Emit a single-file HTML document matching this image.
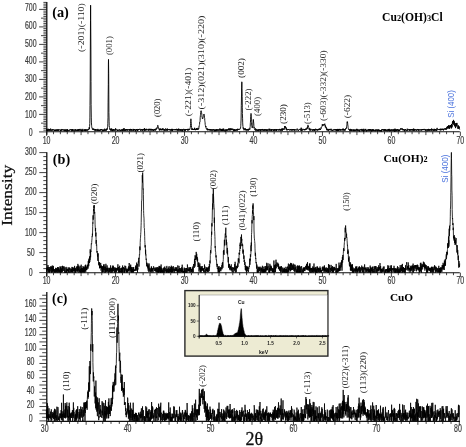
<!DOCTYPE html>
<html><head><meta charset="utf-8"><title>XRD</title>
<style>html,body{margin:0;padding:0;background:#fff;width:466px;height:447px;overflow:hidden}svg{display:block}</style>
</head><body>
<svg width="466" height="447" viewBox="0 0 466 447">
<rect width="466" height="447" fill="#fff"/>
<line x1="46.8" y1="2" x2="46.8" y2="134.8" stroke="#111" stroke-width="1.3"/>
<line x1="46.8" y1="131.7" x2="459.8" y2="131.7" stroke="#111" stroke-width="1.1"/>
<line x1="39.1" y1="131.9" x2="46.8" y2="131.9" stroke="#111" stroke-width="0.8"/>
<line x1="43.4" y1="130.15" x2="46.8" y2="130.15" stroke="#111" stroke-width="0.8"/>
<line x1="43.4" y1="128.4" x2="46.8" y2="128.4" stroke="#111" stroke-width="0.8"/>
<line x1="43.4" y1="126.65" x2="46.8" y2="126.65" stroke="#111" stroke-width="0.8"/>
<line x1="43.4" y1="124.9" x2="46.8" y2="124.9" stroke="#111" stroke-width="0.8"/>
<line x1="41" y1="123.15" x2="46.8" y2="123.15" stroke="#111" stroke-width="0.8"/>
<line x1="43.4" y1="121.4" x2="46.8" y2="121.4" stroke="#111" stroke-width="0.8"/>
<line x1="43.4" y1="119.65" x2="46.8" y2="119.65" stroke="#111" stroke-width="0.8"/>
<line x1="43.4" y1="117.9" x2="46.8" y2="117.9" stroke="#111" stroke-width="0.8"/>
<line x1="43.4" y1="116.15" x2="46.8" y2="116.15" stroke="#111" stroke-width="0.8"/>
<line x1="39.1" y1="114.4" x2="46.8" y2="114.4" stroke="#111" stroke-width="0.8"/>
<line x1="43.4" y1="112.65" x2="46.8" y2="112.65" stroke="#111" stroke-width="0.8"/>
<line x1="43.4" y1="110.9" x2="46.8" y2="110.9" stroke="#111" stroke-width="0.8"/>
<line x1="43.4" y1="109.15" x2="46.8" y2="109.15" stroke="#111" stroke-width="0.8"/>
<line x1="43.4" y1="107.4" x2="46.8" y2="107.4" stroke="#111" stroke-width="0.8"/>
<line x1="41" y1="105.65" x2="46.8" y2="105.65" stroke="#111" stroke-width="0.8"/>
<line x1="43.4" y1="103.9" x2="46.8" y2="103.9" stroke="#111" stroke-width="0.8"/>
<line x1="43.4" y1="102.15" x2="46.8" y2="102.15" stroke="#111" stroke-width="0.8"/>
<line x1="43.4" y1="100.4" x2="46.8" y2="100.4" stroke="#111" stroke-width="0.8"/>
<line x1="43.4" y1="98.65" x2="46.8" y2="98.65" stroke="#111" stroke-width="0.8"/>
<line x1="39.1" y1="96.9" x2="46.8" y2="96.9" stroke="#111" stroke-width="0.8"/>
<line x1="43.4" y1="95.15" x2="46.8" y2="95.15" stroke="#111" stroke-width="0.8"/>
<line x1="43.4" y1="93.4" x2="46.8" y2="93.4" stroke="#111" stroke-width="0.8"/>
<line x1="43.4" y1="91.65" x2="46.8" y2="91.65" stroke="#111" stroke-width="0.8"/>
<line x1="43.4" y1="89.9" x2="46.8" y2="89.9" stroke="#111" stroke-width="0.8"/>
<line x1="41" y1="88.15" x2="46.8" y2="88.15" stroke="#111" stroke-width="0.8"/>
<line x1="43.4" y1="86.4" x2="46.8" y2="86.4" stroke="#111" stroke-width="0.8"/>
<line x1="43.4" y1="84.65" x2="46.8" y2="84.65" stroke="#111" stroke-width="0.8"/>
<line x1="43.4" y1="82.9" x2="46.8" y2="82.9" stroke="#111" stroke-width="0.8"/>
<line x1="43.4" y1="81.15" x2="46.8" y2="81.15" stroke="#111" stroke-width="0.8"/>
<line x1="39.1" y1="79.4" x2="46.8" y2="79.4" stroke="#111" stroke-width="0.8"/>
<line x1="43.4" y1="77.65" x2="46.8" y2="77.65" stroke="#111" stroke-width="0.8"/>
<line x1="43.4" y1="75.9" x2="46.8" y2="75.9" stroke="#111" stroke-width="0.8"/>
<line x1="43.4" y1="74.15" x2="46.8" y2="74.15" stroke="#111" stroke-width="0.8"/>
<line x1="43.4" y1="72.4" x2="46.8" y2="72.4" stroke="#111" stroke-width="0.8"/>
<line x1="41" y1="70.65" x2="46.8" y2="70.65" stroke="#111" stroke-width="0.8"/>
<line x1="43.4" y1="68.9" x2="46.8" y2="68.9" stroke="#111" stroke-width="0.8"/>
<line x1="43.4" y1="67.15" x2="46.8" y2="67.15" stroke="#111" stroke-width="0.8"/>
<line x1="43.4" y1="65.4" x2="46.8" y2="65.4" stroke="#111" stroke-width="0.8"/>
<line x1="43.4" y1="63.65" x2="46.8" y2="63.65" stroke="#111" stroke-width="0.8"/>
<line x1="39.1" y1="61.9" x2="46.8" y2="61.9" stroke="#111" stroke-width="0.8"/>
<line x1="43.4" y1="60.15" x2="46.8" y2="60.15" stroke="#111" stroke-width="0.8"/>
<line x1="43.4" y1="58.4" x2="46.8" y2="58.4" stroke="#111" stroke-width="0.8"/>
<line x1="43.4" y1="56.65" x2="46.8" y2="56.65" stroke="#111" stroke-width="0.8"/>
<line x1="43.4" y1="54.9" x2="46.8" y2="54.9" stroke="#111" stroke-width="0.8"/>
<line x1="41" y1="53.15" x2="46.8" y2="53.15" stroke="#111" stroke-width="0.8"/>
<line x1="43.4" y1="51.4" x2="46.8" y2="51.4" stroke="#111" stroke-width="0.8"/>
<line x1="43.4" y1="49.65" x2="46.8" y2="49.65" stroke="#111" stroke-width="0.8"/>
<line x1="43.4" y1="47.9" x2="46.8" y2="47.9" stroke="#111" stroke-width="0.8"/>
<line x1="43.4" y1="46.15" x2="46.8" y2="46.15" stroke="#111" stroke-width="0.8"/>
<line x1="39.1" y1="44.4" x2="46.8" y2="44.4" stroke="#111" stroke-width="0.8"/>
<line x1="43.4" y1="42.65" x2="46.8" y2="42.65" stroke="#111" stroke-width="0.8"/>
<line x1="43.4" y1="40.9" x2="46.8" y2="40.9" stroke="#111" stroke-width="0.8"/>
<line x1="43.4" y1="39.15" x2="46.8" y2="39.15" stroke="#111" stroke-width="0.8"/>
<line x1="43.4" y1="37.4" x2="46.8" y2="37.4" stroke="#111" stroke-width="0.8"/>
<line x1="41" y1="35.65" x2="46.8" y2="35.65" stroke="#111" stroke-width="0.8"/>
<line x1="43.4" y1="33.9" x2="46.8" y2="33.9" stroke="#111" stroke-width="0.8"/>
<line x1="43.4" y1="32.15" x2="46.8" y2="32.15" stroke="#111" stroke-width="0.8"/>
<line x1="43.4" y1="30.4" x2="46.8" y2="30.4" stroke="#111" stroke-width="0.8"/>
<line x1="43.4" y1="28.65" x2="46.8" y2="28.65" stroke="#111" stroke-width="0.8"/>
<line x1="39.1" y1="26.9" x2="46.8" y2="26.9" stroke="#111" stroke-width="0.8"/>
<line x1="43.4" y1="25.15" x2="46.8" y2="25.15" stroke="#111" stroke-width="0.8"/>
<line x1="43.4" y1="23.4" x2="46.8" y2="23.4" stroke="#111" stroke-width="0.8"/>
<line x1="43.4" y1="21.65" x2="46.8" y2="21.65" stroke="#111" stroke-width="0.8"/>
<line x1="43.4" y1="19.9" x2="46.8" y2="19.9" stroke="#111" stroke-width="0.8"/>
<line x1="41" y1="18.15" x2="46.8" y2="18.15" stroke="#111" stroke-width="0.8"/>
<line x1="43.4" y1="16.4" x2="46.8" y2="16.4" stroke="#111" stroke-width="0.8"/>
<line x1="43.4" y1="14.65" x2="46.8" y2="14.65" stroke="#111" stroke-width="0.8"/>
<line x1="43.4" y1="12.9" x2="46.8" y2="12.9" stroke="#111" stroke-width="0.8"/>
<line x1="43.4" y1="11.15" x2="46.8" y2="11.15" stroke="#111" stroke-width="0.8"/>
<line x1="39.1" y1="9.4" x2="46.8" y2="9.4" stroke="#111" stroke-width="0.8"/>
<line x1="43.4" y1="7.65" x2="46.8" y2="7.65" stroke="#111" stroke-width="0.8"/>
<line x1="43.4" y1="5.9" x2="46.8" y2="5.9" stroke="#111" stroke-width="0.8"/>
<line x1="43.4" y1="4.15" x2="46.8" y2="4.15" stroke="#111" stroke-width="0.8"/>
<line x1="43.4" y1="2.4" x2="46.8" y2="2.4" stroke="#111" stroke-width="0.8"/>
<text transform="translate(30.8,136) scale(0.7,1)" text-anchor="middle" font-family="Liberation Sans, sans-serif" font-size="10.0" fill="#3a3a3a" stroke="#3a3a3a" stroke-width="0.2">0</text>
<text transform="translate(30.8,118.1) scale(0.7,1)" text-anchor="middle" font-family="Liberation Sans, sans-serif" font-size="10.0" fill="#3a3a3a" stroke="#3a3a3a" stroke-width="0.2">100</text>
<text transform="translate(30.8,100.2) scale(0.7,1)" text-anchor="middle" font-family="Liberation Sans, sans-serif" font-size="10.0" fill="#3a3a3a" stroke="#3a3a3a" stroke-width="0.2">200</text>
<text transform="translate(30.8,82.3) scale(0.7,1)" text-anchor="middle" font-family="Liberation Sans, sans-serif" font-size="10.0" fill="#3a3a3a" stroke="#3a3a3a" stroke-width="0.2">300</text>
<text transform="translate(30.8,64.4) scale(0.7,1)" text-anchor="middle" font-family="Liberation Sans, sans-serif" font-size="10.0" fill="#3a3a3a" stroke="#3a3a3a" stroke-width="0.2">400</text>
<text transform="translate(30.8,46.5) scale(0.7,1)" text-anchor="middle" font-family="Liberation Sans, sans-serif" font-size="10.0" fill="#3a3a3a" stroke="#3a3a3a" stroke-width="0.2">500</text>
<text transform="translate(30.8,28.6) scale(0.7,1)" text-anchor="middle" font-family="Liberation Sans, sans-serif" font-size="10.0" fill="#3a3a3a" stroke="#3a3a3a" stroke-width="0.2">600</text>
<text transform="translate(30.8,10.7) scale(0.7,1)" text-anchor="middle" font-family="Liberation Sans, sans-serif" font-size="10.0" fill="#3a3a3a" stroke="#3a3a3a" stroke-width="0.2">700</text>
<line x1="46.6" y1="131.7" x2="46.6" y2="135.9" stroke="#111" stroke-width="0.8"/>
<line x1="53.5" y1="131.7" x2="53.5" y2="134.2" stroke="#111" stroke-width="0.8"/>
<line x1="60.39" y1="131.7" x2="60.39" y2="134.2" stroke="#111" stroke-width="0.8"/>
<line x1="67.29" y1="131.7" x2="67.29" y2="134.2" stroke="#111" stroke-width="0.8"/>
<line x1="74.18" y1="131.7" x2="74.18" y2="134.2" stroke="#111" stroke-width="0.8"/>
<line x1="81.08" y1="131.7" x2="81.08" y2="135.1" stroke="#111" stroke-width="0.8"/>
<line x1="87.98" y1="131.7" x2="87.98" y2="134.2" stroke="#111" stroke-width="0.8"/>
<line x1="94.87" y1="131.7" x2="94.87" y2="134.2" stroke="#111" stroke-width="0.8"/>
<line x1="101.77" y1="131.7" x2="101.77" y2="134.2" stroke="#111" stroke-width="0.8"/>
<line x1="108.66" y1="131.7" x2="108.66" y2="134.2" stroke="#111" stroke-width="0.8"/>
<line x1="115.56" y1="131.7" x2="115.56" y2="135.9" stroke="#111" stroke-width="0.8"/>
<line x1="122.46" y1="131.7" x2="122.46" y2="134.2" stroke="#111" stroke-width="0.8"/>
<line x1="129.35" y1="131.7" x2="129.35" y2="134.2" stroke="#111" stroke-width="0.8"/>
<line x1="136.25" y1="131.7" x2="136.25" y2="134.2" stroke="#111" stroke-width="0.8"/>
<line x1="143.14" y1="131.7" x2="143.14" y2="134.2" stroke="#111" stroke-width="0.8"/>
<line x1="150.04" y1="131.7" x2="150.04" y2="135.1" stroke="#111" stroke-width="0.8"/>
<line x1="156.94" y1="131.7" x2="156.94" y2="134.2" stroke="#111" stroke-width="0.8"/>
<line x1="163.83" y1="131.7" x2="163.83" y2="134.2" stroke="#111" stroke-width="0.8"/>
<line x1="170.73" y1="131.7" x2="170.73" y2="134.2" stroke="#111" stroke-width="0.8"/>
<line x1="177.62" y1="131.7" x2="177.62" y2="134.2" stroke="#111" stroke-width="0.8"/>
<line x1="184.52" y1="131.7" x2="184.52" y2="135.9" stroke="#111" stroke-width="0.8"/>
<line x1="191.42" y1="131.7" x2="191.42" y2="134.2" stroke="#111" stroke-width="0.8"/>
<line x1="198.31" y1="131.7" x2="198.31" y2="134.2" stroke="#111" stroke-width="0.8"/>
<line x1="205.21" y1="131.7" x2="205.21" y2="134.2" stroke="#111" stroke-width="0.8"/>
<line x1="212.1" y1="131.7" x2="212.1" y2="134.2" stroke="#111" stroke-width="0.8"/>
<line x1="219" y1="131.7" x2="219" y2="135.1" stroke="#111" stroke-width="0.8"/>
<line x1="225.9" y1="131.7" x2="225.9" y2="134.2" stroke="#111" stroke-width="0.8"/>
<line x1="232.79" y1="131.7" x2="232.79" y2="134.2" stroke="#111" stroke-width="0.8"/>
<line x1="239.69" y1="131.7" x2="239.69" y2="134.2" stroke="#111" stroke-width="0.8"/>
<line x1="246.58" y1="131.7" x2="246.58" y2="134.2" stroke="#111" stroke-width="0.8"/>
<line x1="253.48" y1="131.7" x2="253.48" y2="135.9" stroke="#111" stroke-width="0.8"/>
<line x1="260.38" y1="131.7" x2="260.38" y2="134.2" stroke="#111" stroke-width="0.8"/>
<line x1="267.27" y1="131.7" x2="267.27" y2="134.2" stroke="#111" stroke-width="0.8"/>
<line x1="274.17" y1="131.7" x2="274.17" y2="134.2" stroke="#111" stroke-width="0.8"/>
<line x1="281.06" y1="131.7" x2="281.06" y2="134.2" stroke="#111" stroke-width="0.8"/>
<line x1="287.96" y1="131.7" x2="287.96" y2="135.1" stroke="#111" stroke-width="0.8"/>
<line x1="294.86" y1="131.7" x2="294.86" y2="134.2" stroke="#111" stroke-width="0.8"/>
<line x1="301.75" y1="131.7" x2="301.75" y2="134.2" stroke="#111" stroke-width="0.8"/>
<line x1="308.65" y1="131.7" x2="308.65" y2="134.2" stroke="#111" stroke-width="0.8"/>
<line x1="315.54" y1="131.7" x2="315.54" y2="134.2" stroke="#111" stroke-width="0.8"/>
<line x1="322.44" y1="131.7" x2="322.44" y2="135.9" stroke="#111" stroke-width="0.8"/>
<line x1="329.34" y1="131.7" x2="329.34" y2="134.2" stroke="#111" stroke-width="0.8"/>
<line x1="336.23" y1="131.7" x2="336.23" y2="134.2" stroke="#111" stroke-width="0.8"/>
<line x1="343.13" y1="131.7" x2="343.13" y2="134.2" stroke="#111" stroke-width="0.8"/>
<line x1="350.02" y1="131.7" x2="350.02" y2="134.2" stroke="#111" stroke-width="0.8"/>
<line x1="356.92" y1="131.7" x2="356.92" y2="135.1" stroke="#111" stroke-width="0.8"/>
<line x1="363.82" y1="131.7" x2="363.82" y2="134.2" stroke="#111" stroke-width="0.8"/>
<line x1="370.71" y1="131.7" x2="370.71" y2="134.2" stroke="#111" stroke-width="0.8"/>
<line x1="377.61" y1="131.7" x2="377.61" y2="134.2" stroke="#111" stroke-width="0.8"/>
<line x1="384.5" y1="131.7" x2="384.5" y2="134.2" stroke="#111" stroke-width="0.8"/>
<line x1="391.4" y1="131.7" x2="391.4" y2="135.9" stroke="#111" stroke-width="0.8"/>
<line x1="398.3" y1="131.7" x2="398.3" y2="134.2" stroke="#111" stroke-width="0.8"/>
<line x1="405.19" y1="131.7" x2="405.19" y2="134.2" stroke="#111" stroke-width="0.8"/>
<line x1="412.09" y1="131.7" x2="412.09" y2="134.2" stroke="#111" stroke-width="0.8"/>
<line x1="418.98" y1="131.7" x2="418.98" y2="134.2" stroke="#111" stroke-width="0.8"/>
<line x1="425.88" y1="131.7" x2="425.88" y2="135.1" stroke="#111" stroke-width="0.8"/>
<line x1="432.78" y1="131.7" x2="432.78" y2="134.2" stroke="#111" stroke-width="0.8"/>
<line x1="439.67" y1="131.7" x2="439.67" y2="134.2" stroke="#111" stroke-width="0.8"/>
<line x1="446.57" y1="131.7" x2="446.57" y2="134.2" stroke="#111" stroke-width="0.8"/>
<line x1="453.46" y1="131.7" x2="453.46" y2="134.2" stroke="#111" stroke-width="0.8"/>
<line x1="460.36" y1="131.7" x2="460.36" y2="135.9" stroke="#111" stroke-width="0.8"/>
<text transform="translate(46.6,143.7) scale(0.7,1)" text-anchor="middle" font-family="Liberation Sans, sans-serif" font-size="10.0" fill="#3a3a3a" stroke="#3a3a3a" stroke-width="0.2">10</text>
<text transform="translate(115.56,143.7) scale(0.7,1)" text-anchor="middle" font-family="Liberation Sans, sans-serif" font-size="10.0" fill="#3a3a3a" stroke="#3a3a3a" stroke-width="0.2">20</text>
<text transform="translate(184.52,143.7) scale(0.7,1)" text-anchor="middle" font-family="Liberation Sans, sans-serif" font-size="10.0" fill="#3a3a3a" stroke="#3a3a3a" stroke-width="0.2">30</text>
<text transform="translate(253.48,143.7) scale(0.7,1)" text-anchor="middle" font-family="Liberation Sans, sans-serif" font-size="10.0" fill="#3a3a3a" stroke="#3a3a3a" stroke-width="0.2">40</text>
<text transform="translate(322.44,143.7) scale(0.7,1)" text-anchor="middle" font-family="Liberation Sans, sans-serif" font-size="10.0" fill="#3a3a3a" stroke="#3a3a3a" stroke-width="0.2">50</text>
<text transform="translate(391.4,143.7) scale(0.7,1)" text-anchor="middle" font-family="Liberation Sans, sans-serif" font-size="10.0" fill="#3a3a3a" stroke="#3a3a3a" stroke-width="0.2">60</text>
<text transform="translate(460.36,143.7) scale(0.7,1)" text-anchor="middle" font-family="Liberation Sans, sans-serif" font-size="10.0" fill="#3a3a3a" stroke="#3a3a3a" stroke-width="0.2">70</text>
<polyline points="46.6,130.7 46.7,129.3 46.9,130.4 47.0,130.1 47.2,130.0 47.3,130.3 47.4,130.7 47.6,129.6 47.7,129.8 47.8,131.0 48.0,128.7 48.1,129.4 48.3,130.4 48.4,129.5 48.5,130.2 48.7,130.0 48.8,129.5 48.9,130.6 49.1,129.7 49.2,129.2 49.4,129.3 49.5,130.1 49.6,129.5 49.8,130.8 49.9,130.1 50.0,129.7 50.2,130.7 50.3,130.0 50.5,129.1 50.6,128.6 50.7,129.6 50.9,129.5 51.0,130.5 51.2,130.6 51.3,130.7 51.4,129.7 51.6,129.6 51.7,130.3 51.8,130.6 52.0,129.9 52.1,129.8 52.3,130.1 52.4,129.3 52.5,130.0 52.7,130.0 52.8,130.6 52.9,129.9 53.1,129.3 53.2,130.0 53.4,130.0 53.5,129.8 53.6,129.9 53.8,129.7 53.9,129.7 54.0,129.7 54.2,130.4 54.3,129.9 54.5,130.9 54.6,129.9 54.7,130.7 54.9,130.1 55.0,129.8 55.2,130.2 55.3,130.0 55.4,130.9 55.6,130.5 55.7,129.7 55.8,130.6 56.0,129.7 56.1,130.8 56.3,130.5 56.4,130.6 56.5,130.0 56.7,129.8 56.8,130.6 56.9,130.1 57.1,129.2 57.2,130.2 57.4,130.5 57.5,129.9 57.6,130.2 57.8,130.4 57.9,131.0 58.0,129.6 58.2,130.4 58.3,130.1 58.5,130.6 58.6,129.4 58.7,129.7 58.9,129.6 59.0,130.1 59.2,129.8 59.3,129.6 59.4,129.5 59.6,129.9 59.7,130.1 59.8,130.3 60.0,130.5 60.1,130.6 60.3,129.9 60.4,130.2 60.5,131.1 60.7,130.2 60.8,129.5 60.9,130.2 61.1,131.1 61.2,130.2 61.4,129.7 61.5,130.0 61.6,130.3 61.8,129.1 61.9,129.1 62.0,130.2 62.2,129.7 62.3,129.9 62.5,129.7 62.6,129.3 62.7,129.7 62.9,130.1 63.0,130.5 63.2,130.5 63.3,130.1 63.4,129.5 63.6,130.0 63.7,130.1 63.8,130.0 64.0,130.1 64.1,129.8 64.3,130.7 64.4,131.2 64.5,130.3 64.7,130.7 64.8,129.3 64.9,130.2 65.1,130.3 65.2,130.9 65.4,130.0 65.5,130.5 65.6,129.5 65.8,129.7 65.9,130.5 66.0,129.9 66.2,131.6 66.3,130.5 66.5,129.5 66.6,129.7 66.7,130.0 66.9,130.2 67.0,130.9 67.2,130.9 67.3,130.0 67.4,129.2 67.6,131.3 67.7,129.8 67.8,129.8 68.0,129.7 68.1,130.6 68.3,130.4 68.4,130.1 68.5,130.7 68.7,130.8 68.8,130.6 68.9,130.2 69.1,130.0 69.2,130.2 69.4,130.1 69.5,130.5 69.6,130.5 69.8,129.6 69.9,130.2 70.0,130.2 70.2,129.7 70.3,129.5 70.5,129.5 70.6,130.0 70.7,130.2 70.9,130.0 71.0,130.1 71.1,129.4 71.3,130.0 71.4,129.8 71.6,130.2 71.7,129.5 71.8,131.3 72.0,130.0 72.1,129.8 72.3,130.8 72.4,129.0 72.5,130.3 72.7,130.3 72.8,130.7 72.9,129.7 73.1,130.1 73.2,130.5 73.4,130.1 73.5,129.8 73.6,129.5 73.8,130.1 73.9,130.7 74.0,130.5 74.2,131.4 74.3,130.6 74.5,129.8 74.6,129.9 74.7,130.2 74.9,130.4 75.0,129.4 75.1,130.0 75.3,129.7 75.4,130.0 75.6,130.5 75.7,129.4 75.8,130.8 76.0,130.8 76.1,130.4 76.3,130.6 76.4,130.5 76.5,130.5 76.7,129.7 76.8,130.2 76.9,130.0 77.1,131.0 77.2,130.6 77.4,129.6 77.5,130.8 77.6,129.6 77.8,130.7 77.9,130.0 78.0,130.6 78.2,130.1 78.3,130.7 78.5,130.3 78.6,129.3 78.7,130.4 78.9,129.1 79.0,130.4 79.1,130.8 79.3,130.1 79.4,130.4 79.6,129.3 79.7,129.7 79.8,129.6 80.0,129.9 80.1,128.9 80.3,129.8 80.4,129.9 80.5,130.6 80.7,130.7 80.8,130.1 80.9,129.7 81.1,129.6 81.2,130.7 81.4,129.9 81.5,130.1 81.6,130.8 81.8,129.9 81.9,131.4 82.0,130.0 82.2,128.9 82.3,130.7 82.5,130.2 82.6,131.2 82.7,130.6 82.9,129.8 83.0,130.7 83.1,130.2 83.3,130.3 83.4,130.3 83.6,130.0 83.7,129.9 83.8,129.5 84.0,129.7 84.1,130.4 84.3,129.4 84.4,129.5 84.5,130.9 84.7,129.8 84.8,129.7 84.9,129.6 85.1,129.8 85.2,130.8 85.4,130.2 85.5,131.1 85.6,130.1 85.8,129.0 85.9,129.7 86.0,129.6 86.2,130.3 86.3,130.5 86.5,130.5 86.6,129.9 86.7,130.4 86.9,130.2 87.0,129.3 87.1,130.7 87.3,130.5 87.4,130.1 87.6,129.8 87.7,129.8 87.8,130.4 88.0,129.5 88.1,129.6 88.3,129.3 88.4,129.9 88.5,129.1 88.7,129.0 88.8,129.2 88.9,128.8 89.1,128.7 89.2,127.3 89.4,129.2 89.5,127.6 89.6,126.5 89.8,123.4 89.9,117.9 90.0,105.6 90.2,83.0 90.3,53.0 90.5,20.7 90.6,5.2 90.7,19.3 90.9,49.9 91.0,81.5 91.1,104.7 91.3,117.9 91.4,122.1 91.6,125.3 91.7,126.6 91.8,127.5 92.0,128.0 92.1,127.9 92.3,128.7 92.4,129.2 92.5,128.7 92.7,129.2 92.8,129.7 92.9,129.9 93.1,128.9 93.2,129.2 93.4,128.6 93.5,130.0 93.6,130.1 93.8,129.6 93.9,129.1 94.0,129.5 94.2,129.6 94.3,128.9 94.5,130.3 94.6,130.6 94.7,130.3 94.9,130.1 95.0,129.8 95.1,129.5 95.3,129.8 95.4,129.2 95.6,130.5 95.7,129.0 95.8,130.5 96.0,129.4 96.1,130.5 96.3,129.9 96.4,130.0 96.5,129.8 96.7,129.7 96.8,130.2 96.9,130.1 97.1,130.0 97.2,130.8 97.4,130.5 97.5,130.9 97.6,130.1 97.8,128.9 97.9,129.7 98.0,130.6 98.2,130.5 98.3,129.6 98.5,130.4 98.6,131.0 98.7,130.6 98.9,130.7 99.0,130.6 99.1,129.8 99.3,130.1 99.4,130.9 99.6,130.4 99.7,130.7 99.8,130.7 100.0,130.9 100.1,129.2 100.3,130.3 100.4,129.8 100.5,129.7 100.7,130.3 100.8,129.8 100.9,129.8 101.1,130.0 101.2,129.0 101.4,130.0 101.5,130.2 101.6,129.8 101.8,129.2 101.9,129.6 102.0,130.3 102.2,130.5 102.3,130.6 102.5,130.4 102.6,129.9 102.7,129.6 102.9,131.3 103.0,130.1 103.1,130.6 103.3,129.7 103.4,129.6 103.6,130.5 103.7,130.3 103.8,130.5 104.0,129.8 104.1,130.9 104.3,130.6 104.4,130.4 104.5,129.4 104.7,128.7 104.8,130.0 104.9,130.6 105.1,129.9 105.2,130.4 105.4,129.7 105.5,130.5 105.6,130.1 105.8,129.9 105.9,129.5 106.0,129.8 106.2,129.1 106.3,129.6 106.5,130.6 106.6,129.1 106.7,129.6 106.9,129.7 107.0,128.4 107.1,129.6 107.3,128.7 107.4,128.8 107.6,127.2 107.7,126.9 107.8,123.7 108.0,117.8 108.1,102.9 108.3,84.4 108.4,64.3 108.5,59.4 108.7,73.6 108.8,94.1 108.9,112.4 109.1,121.2 109.2,125.6 109.4,127.2 109.5,127.6 109.6,128.6 109.8,129.3 109.9,129.2 110.0,128.5 110.2,130.0 110.3,129.5 110.5,130.1 110.6,129.1 110.7,130.6 110.9,129.9 111.0,129.8 111.1,129.7 111.3,128.6 111.4,129.0 111.6,130.4 111.7,128.7 111.8,130.5 112.0,130.9 112.1,130.7 112.2,129.8 112.4,129.7 112.5,131.1 112.7,129.7 112.8,130.1 112.9,129.6 113.1,130.2 113.2,129.5 113.4,129.7 113.5,130.6 113.6,129.2 113.8,129.9 113.9,129.6 114.0,129.3 114.2,130.5 114.3,130.0 114.5,130.4 114.6,130.5 114.7,129.9 114.9,129.8 115.0,129.3 115.1,129.3 115.3,130.0 115.4,130.4 115.6,128.3 115.7,128.9 115.8,130.1 116.0,130.5 116.1,130.2 116.2,129.8 116.4,129.4 116.5,129.5 116.7,129.8 116.8,130.1 116.9,129.9 117.1,130.2 117.2,130.0 117.4,130.0 117.5,129.7 117.6,131.0 117.8,130.2 117.9,130.1 118.0,130.6 118.2,130.1 118.3,130.5 118.5,130.3 118.6,130.1 118.7,130.1 118.9,130.3 119.0,129.4 119.1,129.9 119.3,129.8 119.4,129.9 119.6,130.3 119.7,130.4 119.8,129.5 120.0,130.2 120.1,130.9 120.2,131.1 120.4,129.9 120.5,130.4 120.7,130.0 120.8,130.3 120.9,130.2 121.1,130.1 121.2,130.6 121.4,130.0 121.5,129.4 121.6,129.6 121.8,130.9 121.9,130.7 122.0,130.7 122.2,130.1 122.3,129.5 122.5,129.8 122.6,130.9 122.7,129.9 122.9,129.5 123.0,130.2 123.1,128.9 123.3,130.3 123.4,129.3 123.6,128.7 123.7,130.6 123.8,130.1 124.0,129.6 124.1,128.2 124.2,130.9 124.4,129.6 124.5,129.8 124.7,130.2 124.8,130.4 124.9,130.2 125.1,130.1 125.2,130.6 125.4,129.1 125.5,130.5 125.6,130.1 125.8,130.3 125.9,130.1 126.0,129.9 126.2,130.3 126.3,130.0 126.5,129.0 126.6,129.4 126.7,130.1 126.9,129.4 127.0,130.3 127.1,129.8 127.3,130.7 127.4,130.5 127.6,130.4 127.7,129.2 127.8,129.8 128.0,129.6 128.1,129.8 128.2,129.7 128.4,129.7 128.5,129.5 128.7,129.8 128.8,130.4 128.9,130.3 129.1,129.2 129.2,129.1 129.4,129.6 129.5,130.7 129.6,129.1 129.8,129.7 129.9,129.9 130.0,129.9 130.2,130.1 130.3,128.9 130.5,129.0 130.6,130.4 130.7,130.0 130.9,129.7 131.0,129.2 131.1,131.1 131.3,129.4 131.4,129.0 131.6,130.0 131.7,129.9 131.8,129.2 132.0,129.7 132.1,130.6 132.2,130.5 132.4,130.4 132.5,130.6 132.7,129.9 132.8,130.1 132.9,129.8 133.1,129.5 133.2,128.9 133.4,129.7 133.5,130.8 133.6,129.1 133.8,129.9 133.9,129.2 134.0,130.1 134.2,129.7 134.3,129.9 134.5,129.9 134.6,129.2 134.7,130.2 134.9,129.7 135.0,129.7 135.1,130.0 135.3,131.0 135.4,129.6 135.6,131.3 135.7,130.6 135.8,130.1 136.0,129.6 136.1,129.4 136.2,129.4 136.4,129.5 136.5,130.0 136.7,129.2 136.8,130.0 136.9,129.2 137.1,131.0 137.2,130.3 137.4,130.1 137.5,129.8 137.6,131.1 137.8,129.4 137.9,129.3 138.0,129.4 138.2,130.1 138.3,129.0 138.5,130.1 138.6,129.3 138.7,129.8 138.9,129.8 139.0,129.9 139.1,129.8 139.3,129.2 139.4,129.0 139.6,129.0 139.7,129.3 139.8,129.4 140.0,129.5 140.1,128.9 140.2,130.0 140.4,130.1 140.5,129.8 140.7,130.7 140.8,129.9 140.9,129.8 141.1,130.3 141.2,130.1 141.4,129.4 141.5,129.9 141.6,129.7 141.8,129.2 141.9,130.1 142.0,130.4 142.2,129.8 142.3,129.5 142.5,130.7 142.6,129.4 142.7,129.9 142.9,130.0 143.0,130.2 143.1,129.9 143.3,129.3 143.4,129.5 143.6,129.3 143.7,129.9 143.8,128.9 144.0,129.1 144.1,129.8 144.2,131.1 144.4,129.7 144.5,128.3 144.7,129.8 144.8,130.3 144.9,128.8 145.1,130.1 145.2,129.5 145.4,129.3 145.5,130.5 145.6,129.7 145.8,129.1 145.9,129.9 146.0,129.4 146.2,129.7 146.3,129.2 146.5,128.8 146.6,130.3 146.7,129.9 146.9,129.5 147.0,130.1 147.1,130.2 147.3,129.9 147.4,129.9 147.6,130.1 147.7,129.6 147.8,129.3 148.0,129.3 148.1,129.4 148.2,129.1 148.4,130.4 148.5,129.8 148.7,129.6 148.8,129.4 148.9,130.6 149.1,128.7 149.2,130.2 149.4,129.6 149.5,129.3 149.6,129.1 149.8,130.1 149.9,130.0 150.0,129.5 150.2,129.4 150.3,129.2 150.5,129.7 150.6,130.1 150.7,130.4 150.9,128.8 151.0,130.4 151.1,129.3 151.3,129.6 151.4,129.3 151.6,129.2 151.7,129.0 151.8,129.7 152.0,129.5 152.1,130.7 152.2,129.7 152.4,130.2 152.5,129.8 152.7,129.0 152.8,129.6 152.9,129.1 153.1,129.8 153.2,129.5 153.4,129.9 153.5,131.0 153.6,130.0 153.8,129.8 153.9,129.6 154.0,129.7 154.2,129.7 154.3,129.2 154.5,129.3 154.6,129.9 154.7,129.2 154.9,130.7 155.0,129.8 155.1,129.7 155.3,128.9 155.4,129.9 155.6,130.4 155.7,129.5 155.8,128.7 156.0,129.6 156.1,129.6 156.2,129.6 156.4,129.4 156.5,128.7 156.7,128.2 156.8,128.9 156.9,128.9 157.1,127.5 157.2,127.9 157.3,127.2 157.5,126.7 157.6,126.0 157.8,125.2 157.9,125.6 158.0,125.7 158.2,126.6 158.3,127.1 158.5,128.2 158.6,128.7 158.7,128.8 158.9,129.1 159.0,129.2 159.1,128.8 159.3,130.0 159.4,130.5 159.6,129.1 159.7,129.7 159.8,128.8 160.0,129.6 160.1,130.2 160.2,128.4 160.4,129.4 160.5,129.9 160.7,130.0 160.8,129.3 160.9,130.0 161.1,129.4 161.2,129.0 161.3,130.4 161.5,129.8 161.6,129.4 161.8,128.8 161.9,129.2 162.0,129.9 162.2,128.9 162.3,129.9 162.5,129.8 162.6,129.5 162.7,130.2 162.9,128.1 163.0,129.0 163.1,129.6 163.3,130.0 163.4,130.3 163.6,129.5 163.7,129.3 163.8,129.9 164.0,129.8 164.1,129.4 164.2,129.7 164.4,130.7 164.5,129.3 164.7,129.6 164.8,129.3 164.9,130.1 165.1,130.8 165.2,130.3 165.3,129.5 165.5,128.6 165.6,128.5 165.8,129.5 165.9,130.5 166.0,129.9 166.2,129.5 166.3,129.5 166.5,129.7 166.6,129.0 166.7,130.2 166.9,130.8 167.0,130.2 167.1,130.3 167.3,128.5 167.4,129.8 167.6,130.5 167.7,129.4 167.8,129.2 168.0,129.7 168.1,129.6 168.2,129.2 168.4,129.4 168.5,130.1 168.7,129.4 168.8,129.2 168.9,129.5 169.1,129.3 169.2,129.4 169.3,129.8 169.5,129.8 169.6,129.4 169.8,130.0 169.9,129.1 170.0,129.1 170.2,130.8 170.3,129.8 170.5,130.1 170.6,130.1 170.7,129.6 170.9,129.8 171.0,129.4 171.1,129.6 171.3,129.5 171.4,130.1 171.6,129.9 171.7,129.0 171.8,131.0 172.0,128.8 172.1,130.0 172.2,129.1 172.4,131.1 172.5,130.0 172.7,129.3 172.8,129.7 172.9,129.2 173.1,130.2 173.2,130.0 173.3,130.1 173.5,129.5 173.6,129.5 173.8,129.8 173.9,129.9 174.0,129.9 174.2,129.7 174.3,130.2 174.5,129.8 174.6,129.8 174.7,130.0 174.9,130.0 175.0,129.0 175.1,130.1 175.3,129.5 175.4,129.0 175.6,129.4 175.7,129.7 175.8,129.2 176.0,130.5 176.1,130.4 176.2,130.0 176.4,129.9 176.5,129.8 176.7,128.8 176.8,128.9 176.9,129.8 177.1,129.6 177.2,130.2 177.3,129.6 177.5,130.5 177.6,129.0 177.8,130.0 177.9,129.5 178.0,130.5 178.2,129.0 178.3,129.4 178.5,128.7 178.6,129.7 178.7,130.6 178.9,130.2 179.0,130.4 179.1,128.9 179.3,130.1 179.4,130.2 179.6,129.5 179.7,129.6 179.8,129.5 180.0,130.0 180.1,130.8 180.2,130.5 180.4,130.9 180.5,129.1 180.7,129.3 180.8,130.0 180.9,129.5 181.1,129.4 181.2,129.4 181.3,129.5 181.5,129.3 181.6,129.7 181.8,131.0 181.9,131.2 182.0,129.1 182.2,129.5 182.3,131.1 182.5,129.7 182.6,130.3 182.7,130.1 182.9,131.2 183.0,129.4 183.1,129.8 183.3,129.4 183.4,129.2 183.6,129.1 183.7,128.9 183.8,129.6 184.0,129.7 184.1,130.1 184.2,129.5 184.4,129.9 184.5,130.4 184.7,129.2 184.8,129.4 184.9,131.2 185.1,130.8 185.2,129.9 185.3,130.5 185.5,129.1 185.6,129.7 185.8,129.5 185.9,129.3 186.0,129.1 186.2,129.9 186.3,129.4 186.5,129.6 186.6,129.3 186.7,129.5 186.9,129.0 187.0,129.5 187.1,130.0 187.3,129.7 187.4,130.3 187.6,129.6 187.7,128.9 187.8,130.0 188.0,130.6 188.1,129.7 188.2,130.0 188.4,129.7 188.5,130.0 188.7,129.6 188.8,130.2 188.9,128.8 189.1,129.7 189.2,129.2 189.3,129.1 189.5,129.5 189.6,129.1 189.8,129.3 189.9,129.2 190.0,128.7 190.2,127.7 190.3,127.5 190.5,125.7 190.6,123.5 190.7,121.2 190.9,118.8 191.0,119.7 191.1,121.7 191.3,123.7 191.4,125.3 191.6,127.7 191.7,127.7 191.8,130.0 192.0,129.5 192.1,128.4 192.2,128.5 192.4,129.3 192.5,129.7 192.7,129.0 192.8,129.7 192.9,128.7 193.1,128.9 193.2,129.2 193.3,130.0 193.5,129.1 193.6,129.7 193.8,129.7 193.9,129.8 194.0,129.7 194.2,129.3 194.3,129.2 194.5,129.2 194.6,127.8 194.7,129.8 194.9,129.0 195.0,129.9 195.1,129.7 195.3,130.2 195.4,128.9 195.6,129.4 195.7,129.5 195.8,129.6 196.0,129.0 196.1,129.7 196.2,129.2 196.4,128.1 196.5,129.5 196.7,129.7 196.8,129.9 196.9,128.9 197.1,129.3 197.2,129.7 197.3,129.6 197.5,129.1 197.6,129.6 197.8,127.9 197.9,129.1 198.0,129.0 198.2,128.8 198.3,129.6 198.4,129.2 198.6,128.4 198.7,128.0 198.9,128.3 199.0,126.3 199.1,126.5 199.3,125.4 199.4,124.7 199.6,124.5 199.7,122.0 199.8,122.0 200.0,121.7 200.1,120.5 200.2,117.7 200.4,115.7 200.5,114.7 200.7,112.4 200.8,112.4 200.9,111.1 201.1,110.7 201.2,111.6 201.3,111.4 201.5,112.2 201.6,112.9 201.8,114.0 201.9,115.3 202.0,117.3 202.2,117.4 202.3,118.0 202.4,119.0 202.6,118.8 202.7,118.7 202.9,118.1 203.0,118.1 203.1,117.1 203.3,116.4 203.4,115.6 203.6,115.1 203.7,114.4 203.8,114.5 204.0,114.1 204.1,114.1 204.2,115.0 204.4,116.0 204.5,117.8 204.7,118.4 204.8,120.7 204.9,121.4 205.1,122.8 205.2,124.5 205.3,125.5 205.5,125.6 205.6,126.6 205.8,127.1 205.9,126.1 206.0,127.8 206.2,128.3 206.3,128.2 206.4,129.1 206.6,129.0 206.7,128.8 206.9,129.5 207.0,129.2 207.1,129.4 207.3,129.3 207.4,130.3 207.6,128.5 207.7,129.5 207.8,129.2 208.0,130.1 208.1,130.2 208.2,129.6 208.4,129.8 208.5,129.3 208.7,130.1 208.8,130.2 208.9,129.5 209.1,129.3 209.2,129.2 209.3,129.8 209.5,129.6 209.6,130.2 209.8,129.1 209.9,129.2 210.0,129.2 210.2,130.7 210.3,129.4 210.4,130.2 210.6,129.6 210.7,129.6 210.9,129.2 211.0,130.0 211.1,130.1 211.3,130.4 211.4,130.5 211.6,129.6 211.7,130.4 211.8,129.6 212.0,130.1 212.1,130.2 212.2,129.4 212.4,129.5 212.5,130.5 212.7,130.1 212.8,130.0 212.9,129.6 213.1,130.4 213.2,130.2 213.3,130.1 213.5,129.6 213.6,129.5 213.8,130.3 213.9,129.1 214.0,129.8 214.2,130.4 214.3,130.8 214.4,130.3 214.6,131.3 214.7,129.9 214.9,129.7 215.0,129.4 215.1,129.8 215.3,130.9 215.4,130.2 215.6,129.7 215.7,131.2 215.8,130.5 216.0,129.7 216.1,130.0 216.2,131.1 216.4,130.3 216.5,130.1 216.7,129.0 216.8,130.3 216.9,130.6 217.1,130.0 217.2,129.9 217.3,129.8 217.5,129.3 217.6,130.1 217.8,130.8 217.9,130.1 218.0,130.1 218.2,129.6 218.3,129.7 218.4,130.5 218.6,129.7 218.7,129.6 218.9,130.2 219.0,129.6 219.1,130.0 219.3,130.0 219.4,130.2 219.6,129.7 219.7,128.6 219.8,130.0 220.0,130.7 220.1,130.2 220.2,130.4 220.4,129.9 220.5,130.2 220.7,128.8 220.8,129.7 220.9,129.1 221.1,130.5 221.2,130.2 221.3,129.0 221.5,131.0 221.6,130.0 221.8,130.9 221.9,129.3 222.0,130.9 222.2,130.3 222.3,130.2 222.4,131.0 222.6,128.8 222.7,130.2 222.9,129.3 223.0,130.5 223.1,130.9 223.3,130.0 223.4,130.0 223.6,128.6 223.7,130.7 223.8,130.9 224.0,130.5 224.1,130.0 224.2,129.8 224.4,130.5 224.5,130.3 224.7,129.8 224.8,129.6 224.9,130.4 225.1,130.1 225.2,131.6 225.3,130.6 225.5,129.9 225.6,130.1 225.8,130.2 225.9,129.3 226.0,130.3 226.2,130.7 226.3,130.0 226.4,130.0 226.6,130.7 226.7,129.6 226.9,129.2 227.0,130.4 227.1,130.6 227.3,130.1 227.4,129.4 227.6,130.4 227.7,130.4 227.8,130.4 228.0,129.9 228.1,129.9 228.2,130.1 228.4,129.4 228.5,128.8 228.7,130.2 228.8,129.3 228.9,129.7 229.1,128.2 229.2,130.2 229.3,129.9 229.5,129.6 229.6,130.3 229.8,129.6 229.9,129.1 230.0,130.1 230.2,129.2 230.3,128.3 230.4,129.5 230.6,129.6 230.7,130.4 230.9,129.2 231.0,130.0 231.1,128.8 231.3,128.3 231.4,128.9 231.6,129.7 231.7,129.0 231.8,129.7 232.0,130.1 232.1,129.8 232.2,129.5 232.4,129.9 232.5,129.4 232.7,128.6 232.8,129.5 232.9,129.5 233.1,130.2 233.2,129.2 233.3,129.8 233.5,129.4 233.6,130.4 233.8,129.9 233.9,131.2 234.0,130.2 234.2,130.5 234.3,130.6 234.4,129.1 234.6,130.8 234.7,130.1 234.9,130.1 235.0,129.8 235.1,129.5 235.3,130.9 235.4,130.3 235.6,130.4 235.7,129.7 235.8,129.5 236.0,130.2 236.1,130.3 236.2,130.5 236.4,129.8 236.5,129.1 236.7,129.8 236.8,130.4 236.9,130.4 237.1,130.3 237.2,130.8 237.3,129.0 237.5,129.9 237.6,130.1 237.8,128.7 237.9,129.8 238.0,129.1 238.2,129.7 238.3,129.2 238.4,129.7 238.6,129.9 238.7,129.5 238.9,129.3 239.0,129.0 239.1,129.4 239.3,129.6 239.4,129.6 239.6,129.2 239.7,129.5 239.8,129.3 240.0,128.6 240.1,128.4 240.2,128.2 240.4,128.5 240.5,128.4 240.7,126.7 240.8,125.3 240.9,123.2 241.1,119.0 241.2,112.8 241.3,105.5 241.5,96.0 241.6,87.9 241.8,81.8 241.9,82.3 242.0,88.5 242.2,96.4 242.3,107.2 242.4,113.5 242.6,118.8 242.7,122.9 242.9,126.2 243.0,126.7 243.1,128.6 243.3,128.6 243.4,127.7 243.5,128.6 243.7,128.3 243.8,129.6 244.0,130.3 244.1,129.7 244.2,128.7 244.4,129.0 244.5,128.9 244.7,129.6 244.8,129.7 244.9,129.8 245.1,128.2 245.2,129.7 245.3,128.8 245.5,129.8 245.6,129.1 245.8,130.4 245.9,130.1 246.0,129.6 246.2,130.1 246.3,130.1 246.4,129.9 246.6,130.1 246.7,129.0 246.9,129.3 247.0,130.6 247.1,129.0 247.3,129.9 247.4,129.9 247.5,129.9 247.7,129.4 247.8,129.4 248.0,130.1 248.1,129.8 248.2,130.5 248.4,128.8 248.5,130.2 248.7,130.2 248.8,130.0 248.9,129.6 249.1,129.2 249.2,129.7 249.3,129.4 249.5,129.5 249.6,128.5 249.8,128.8 249.9,129.4 250.0,127.1 250.2,126.5 250.3,123.9 250.4,122.8 250.6,119.8 250.7,116.5 250.9,114.7 251.0,113.4 251.1,113.9 251.3,117.0 251.4,121.7 251.5,122.5 251.7,125.2 251.8,126.3 252.0,127.6 252.1,127.9 252.2,128.0 252.4,127.8 252.5,127.8 252.7,125.7 252.8,124.8 252.9,122.9 253.1,121.0 253.2,119.8 253.3,119.4 253.5,121.0 253.6,122.0 253.8,123.9 253.9,125.9 254.0,128.0 254.2,127.3 254.3,128.7 254.4,129.0 254.6,129.4 254.7,129.7 254.9,129.7 255.0,130.1 255.1,129.9 255.3,128.6 255.4,129.1 255.5,128.7 255.7,130.1 255.8,130.8 256.0,130.5 256.1,131.2 256.2,129.3 256.4,129.2 256.5,129.8 256.7,129.7 256.8,129.7 256.9,130.0 257.1,129.5 257.2,130.4 257.3,130.1 257.5,130.0 257.6,130.8 257.8,130.5 257.9,129.7 258.0,129.8 258.2,131.2 258.3,129.5 258.4,129.8 258.6,129.5 258.7,130.0 258.9,129.6 259.0,130.6 259.1,130.1 259.3,130.5 259.4,130.2 259.5,129.3 259.7,129.1 259.8,129.9 260.0,130.2 260.1,129.5 260.2,129.7 260.4,129.0 260.5,129.6 260.7,131.2 260.8,129.9 260.9,130.1 261.1,130.4 261.2,129.9 261.3,129.9 261.5,130.1 261.6,129.2 261.8,129.8 261.9,129.7 262.0,129.9 262.2,129.3 262.3,130.5 262.4,129.3 262.6,130.1 262.7,129.2 262.9,129.2 263.0,129.7 263.1,130.2 263.3,129.8 263.4,129.8 263.5,130.7 263.7,130.1 263.8,130.3 264.0,129.2 264.1,129.1 264.2,130.3 264.4,130.2 264.5,130.6 264.7,129.8 264.8,129.5 264.9,129.0 265.1,130.6 265.2,129.4 265.3,130.0 265.5,130.3 265.6,130.1 265.8,130.3 265.9,129.7 266.0,129.9 266.2,129.3 266.3,130.2 266.4,130.9 266.6,130.4 266.7,129.7 266.9,130.7 267.0,130.3 267.1,129.6 267.3,130.6 267.4,129.5 267.5,129.7 267.7,130.2 267.8,129.9 268.0,130.2 268.1,130.1 268.2,130.1 268.4,129.9 268.5,130.0 268.7,130.3 268.8,130.4 268.9,128.8 269.1,130.5 269.2,130.0 269.3,129.3 269.5,129.4 269.6,130.3 269.8,128.8 269.9,129.0 270.0,130.1 270.2,130.5 270.3,129.6 270.4,130.0 270.6,130.0 270.7,130.3 270.9,130.2 271.0,129.8 271.1,129.4 271.3,131.0 271.4,131.1 271.5,129.4 271.7,130.3 271.8,129.5 272.0,129.8 272.1,129.2 272.2,129.4 272.4,130.0 272.5,130.0 272.7,129.7 272.8,129.5 272.9,130.2 273.1,130.7 273.2,129.8 273.3,129.9 273.5,129.9 273.6,130.4 273.8,129.5 273.9,130.8 274.0,130.1 274.2,129.2 274.3,130.4 274.4,129.6 274.6,129.6 274.7,129.6 274.9,130.7 275.0,129.3 275.1,129.8 275.3,129.6 275.4,129.7 275.5,129.8 275.7,129.2 275.8,129.1 276.0,130.8 276.1,130.2 276.2,129.9 276.4,131.0 276.5,129.1 276.7,130.2 276.8,129.5 276.9,129.7 277.1,129.9 277.2,130.3 277.3,130.0 277.5,129.8 277.6,129.4 277.8,129.9 277.9,130.0 278.0,129.9 278.2,129.1 278.3,129.6 278.4,130.1 278.6,130.4 278.7,130.0 278.9,130.3 279.0,130.0 279.1,129.1 279.3,129.4 279.4,129.7 279.5,129.6 279.7,128.9 279.8,130.4 280.0,129.5 280.1,129.9 280.2,129.7 280.4,129.7 280.5,129.9 280.7,129.5 280.8,130.9 280.9,129.6 281.1,129.4 281.2,130.2 281.3,130.2 281.5,128.7 281.6,130.2 281.8,129.9 281.9,130.1 282.0,130.0 282.2,130.0 282.3,130.8 282.4,128.4 282.6,130.0 282.7,129.4 282.9,129.7 283.0,128.9 283.1,129.2 283.3,128.9 283.4,128.9 283.5,129.0 283.7,129.3 283.8,128.7 284.0,129.9 284.1,128.3 284.2,128.1 284.4,128.0 284.5,128.4 284.6,126.5 284.8,127.1 284.9,126.1 285.1,127.2 285.2,126.4 285.3,126.9 285.5,127.4 285.6,127.8 285.8,127.0 285.9,128.3 286.0,128.5 286.2,127.8 286.3,129.9 286.4,128.5 286.6,129.6 286.7,129.8 286.9,129.7 287.0,130.5 287.1,130.4 287.3,130.2 287.4,129.9 287.5,129.2 287.7,129.1 287.8,129.8 288.0,129.4 288.1,129.4 288.2,129.8 288.4,129.5 288.5,130.0 288.6,129.4 288.8,129.8 288.9,129.7 289.1,129.5 289.2,129.6 289.3,130.1 289.5,130.4 289.6,129.7 289.8,130.0 289.9,130.0 290.0,129.7 290.2,130.1 290.3,129.5 290.4,129.5 290.6,130.2 290.7,129.5 290.9,130.2 291.0,129.3 291.1,129.4 291.3,129.7 291.4,129.2 291.5,129.2 291.7,129.5 291.8,130.7 292.0,129.6 292.1,129.6 292.2,129.3 292.4,130.2 292.5,129.3 292.6,129.5 292.8,129.5 292.9,130.3 293.1,130.1 293.2,129.1 293.3,129.3 293.5,129.7 293.6,129.1 293.8,129.6 293.9,129.9 294.0,130.5 294.2,129.2 294.3,129.8 294.4,129.6 294.6,130.6 294.7,130.0 294.9,129.5 295.0,129.8 295.1,130.1 295.3,130.3 295.4,129.6 295.5,129.9 295.7,129.9 295.8,129.8 296.0,130.0 296.1,129.9 296.2,130.0 296.4,129.7 296.5,130.4 296.6,130.3 296.8,129.7 296.9,129.8 297.1,129.6 297.2,128.6 297.3,129.3 297.5,129.1 297.6,129.5 297.8,129.8 297.9,130.1 298.0,130.7 298.2,130.4 298.3,130.9 298.4,130.3 298.6,130.5 298.7,130.2 298.9,129.7 299.0,129.9 299.1,129.2 299.3,129.2 299.4,129.2 299.5,129.2 299.7,129.5 299.8,129.9 300.0,129.4 300.1,129.8 300.2,129.8 300.4,129.5 300.5,130.2 300.6,130.5 300.8,129.5 300.9,128.8 301.1,129.1 301.2,127.7 301.3,130.4 301.5,130.0 301.6,130.9 301.8,130.1 301.9,128.7 302.0,128.8 302.2,130.2 302.3,129.8 302.4,130.1 302.6,130.4 302.7,129.8 302.9,129.8 303.0,129.6 303.1,129.5 303.3,129.3 303.4,128.9 303.5,129.7 303.7,129.8 303.8,129.6 304.0,129.4 304.1,129.7 304.2,130.1 304.4,129.9 304.5,129.2 304.6,130.1 304.8,129.2 304.9,130.3 305.1,129.3 305.2,129.3 305.3,129.7 305.5,129.6 305.6,129.7 305.8,128.6 305.9,129.7 306.0,129.8 306.2,129.2 306.3,128.8 306.4,129.1 306.6,129.2 306.7,128.5 306.9,129.2 307.0,128.9 307.1,128.8 307.3,127.1 307.4,128.4 307.5,127.4 307.7,126.1 307.8,125.7 308.0,124.9 308.1,125.8 308.2,126.6 308.4,126.1 308.5,126.8 308.6,127.2 308.8,127.7 308.9,128.3 309.1,129.6 309.2,129.6 309.3,128.2 309.5,129.3 309.6,130.3 309.8,129.4 309.9,129.0 310.0,129.3 310.2,129.5 310.3,130.7 310.4,129.5 310.6,129.6 310.7,128.7 310.9,129.6 311.0,129.6 311.1,129.8 311.3,129.7 311.4,129.5 311.5,129.9 311.7,130.1 311.8,130.3 312.0,129.6 312.1,129.8 312.2,129.8 312.4,130.4 312.5,130.1 312.6,130.6 312.8,129.2 312.9,129.0 313.1,129.4 313.2,129.7 313.3,129.4 313.5,130.4 313.6,130.3 313.8,129.0 313.9,130.2 314.0,129.7 314.2,130.0 314.3,130.9 314.4,130.0 314.6,129.2 314.7,129.0 314.9,131.0 315.0,130.5 315.1,130.0 315.3,129.1 315.4,129.0 315.5,128.8 315.7,128.8 315.8,129.9 316.0,130.2 316.1,129.2 316.2,129.8 316.4,129.6 316.5,129.8 316.6,129.8 316.8,129.2 316.9,130.1 317.1,130.5 317.2,130.0 317.3,129.6 317.5,129.8 317.6,129.7 317.8,130.6 317.9,130.0 318.0,129.0 318.2,129.7 318.3,129.9 318.4,129.0 318.6,129.8 318.7,129.1 318.9,129.4 319.0,129.3 319.1,128.9 319.3,128.3 319.4,128.8 319.5,129.9 319.7,130.0 319.8,129.5 320.0,129.4 320.1,128.9 320.2,129.1 320.4,129.0 320.5,129.9 320.6,128.9 320.8,128.4 320.9,127.6 321.1,127.9 321.2,128.0 321.3,128.4 321.5,127.5 321.6,127.2 321.8,127.0 321.9,126.4 322.0,125.9 322.2,125.6 322.3,124.3 322.4,125.7 322.6,125.8 322.7,124.7 322.9,125.5 323.0,124.9 323.1,124.9 323.3,125.3 323.4,124.6 323.5,124.7 323.7,125.0 323.8,124.7 324.0,124.5 324.1,125.0 324.2,124.5 324.4,124.6 324.5,124.6 324.6,124.8 324.8,123.7 324.9,124.6 325.1,125.8 325.2,125.2 325.3,127.2 325.5,126.1 325.6,126.3 325.8,126.4 325.9,127.4 326.0,128.2 326.2,127.2 326.3,127.9 326.4,128.0 326.6,129.0 326.7,128.7 326.9,130.0 327.0,129.0 327.1,130.4 327.3,129.9 327.4,130.2 327.5,128.9 327.7,129.0 327.8,129.8 328.0,128.9 328.1,129.5 328.2,130.6 328.4,129.8 328.5,130.5 328.6,129.6 328.8,129.5 328.9,130.1 329.1,129.3 329.2,129.2 329.3,130.2 329.5,129.4 329.6,129.8 329.7,129.9 329.9,128.9 330.0,130.1 330.2,130.0 330.3,129.8 330.4,129.5 330.6,129.4 330.7,130.3 330.9,129.1 331.0,128.8 331.1,128.8 331.3,129.7 331.4,130.1 331.5,130.4 331.7,129.6 331.8,129.9 332.0,129.9 332.1,130.2 332.2,131.0 332.4,130.0 332.5,129.9 332.6,130.0 332.8,130.6 332.9,130.0 333.1,129.9 333.2,130.5 333.3,129.5 333.5,129.9 333.6,129.8 333.7,129.7 333.9,130.0 334.0,129.9 334.2,129.6 334.3,129.5 334.4,129.4 334.6,130.0 334.7,129.5 334.9,129.3 335.0,130.6 335.1,130.1 335.3,129.9 335.4,129.9 335.5,129.0 335.7,129.3 335.8,130.0 336.0,130.0 336.1,130.6 336.2,130.4 336.4,129.2 336.5,130.8 336.6,129.6 336.8,130.3 336.9,130.1 337.1,130.0 337.2,129.0 337.3,129.7 337.5,129.7 337.6,129.4 337.7,131.1 337.9,128.9 338.0,130.8 338.2,130.3 338.3,129.6 338.4,130.6 338.6,130.9 338.7,129.3 338.9,130.1 339.0,129.4 339.1,129.7 339.3,130.0 339.4,129.0 339.5,130.1 339.7,128.9 339.8,130.4 340.0,130.5 340.1,130.3 340.2,129.8 340.4,130.5 340.5,130.3 340.6,129.2 340.8,129.8 340.9,129.3 341.1,129.7 341.2,130.2 341.3,130.3 341.5,129.8 341.6,129.9 341.7,130.2 341.9,130.2 342.0,129.2 342.2,129.4 342.3,129.8 342.4,130.1 342.6,130.1 342.7,128.9 342.9,130.2 343.0,128.7 343.1,130.3 343.3,130.7 343.4,128.8 343.5,130.0 343.7,129.1 343.8,129.7 344.0,130.0 344.1,129.4 344.2,130.0 344.4,129.6 344.5,129.9 344.6,130.7 344.8,129.6 344.9,130.0 345.1,129.8 345.2,129.5 345.3,130.4 345.5,129.3 345.6,129.2 345.7,128.4 345.9,128.8 346.0,128.8 346.2,129.0 346.3,128.2 346.4,128.2 346.6,126.4 346.7,125.6 346.9,124.5 347.0,123.1 347.1,121.9 347.3,121.5 347.4,122.5 347.5,122.0 347.7,123.8 347.8,124.9 348.0,126.2 348.1,127.7 348.2,127.8 348.4,128.7 348.5,129.4 348.6,129.1 348.8,129.0 348.9,129.2 349.1,129.5 349.2,130.0 349.3,129.9 349.5,129.8 349.6,130.6 349.7,129.4 349.9,129.8 350.0,130.6 350.2,129.1 350.3,128.9 350.4,130.6 350.6,130.1 350.7,130.4 350.9,129.6 351.0,130.7 351.1,129.7 351.3,129.8 351.4,129.4 351.5,131.0 351.7,130.4 351.8,130.1 352.0,129.6 352.1,130.0 352.2,129.7 352.4,129.8 352.5,130.5 352.6,130.1 352.8,130.3 352.9,130.2 353.1,130.6 353.2,129.7 353.3,129.9 353.5,131.1 353.6,129.7 353.7,130.4 353.9,130.9 354.0,129.5 354.2,130.1 354.3,129.9 354.4,130.2 354.6,130.1 354.7,131.1 354.9,129.7 355.0,130.5 355.1,130.1 355.3,130.2 355.4,130.6 355.5,130.8 355.7,130.2 355.8,129.5 356.0,130.5 356.1,130.5 356.2,130.1 356.4,130.5 356.5,129.5 356.6,129.9 356.8,128.8 356.9,130.0 357.1,129.0 357.2,130.5 357.3,130.0 357.5,130.7 357.6,130.4 357.7,130.3 357.9,129.8 358.0,129.4 358.2,130.3 358.3,130.9 358.4,130.2 358.6,130.2 358.7,130.4 358.9,129.7 359.0,129.6 359.1,130.5 359.3,130.5 359.4,131.5 359.5,130.5 359.7,129.7 359.8,130.6 360.0,129.7 360.1,129.8 360.2,129.8 360.4,129.8 360.5,130.2 360.6,129.6 360.8,129.6 360.9,130.0 361.1,130.2 361.2,129.5 361.3,129.4 361.5,130.5 361.6,129.7 361.7,130.1 361.9,128.9 362.0,130.3 362.2,130.5 362.3,130.6 362.4,129.7 362.6,130.7 362.7,129.8 362.9,130.4 363.0,129.5 363.1,129.3 363.3,129.6 363.4,131.2 363.5,130.9 363.7,131.6 363.8,128.8 364.0,130.5 364.1,130.4 364.2,130.1 364.4,129.9 364.5,130.3 364.6,130.1 364.8,130.2 364.9,130.9 365.1,129.2 365.2,129.3 365.3,130.2 365.5,130.2 365.6,129.2 365.7,128.9 365.9,130.1 366.0,129.9 366.2,130.4 366.3,130.0 366.4,131.5 366.6,131.4 366.7,129.9 366.9,130.3 367.0,130.0 367.1,130.1 367.3,129.9 367.4,130.0 367.5,130.3 367.7,130.0 367.8,130.5 368.0,129.4 368.1,130.7 368.2,130.4 368.4,129.7 368.5,130.4 368.6,129.7 368.8,129.4 368.9,129.8 369.1,130.4 369.2,129.2 369.3,129.9 369.5,130.7 369.6,129.1 369.7,130.1 369.9,129.8 370.0,129.7 370.2,130.4 370.3,129.7 370.4,130.8 370.6,130.7 370.7,130.4 370.8,129.0 371.0,129.9 371.1,129.6 371.3,130.4 371.4,129.9 371.5,131.3 371.7,130.3 371.8,129.9 372.0,130.5 372.1,131.2 372.2,131.0 372.4,129.8 372.5,129.5 372.6,130.4 372.8,129.3 372.9,130.9 373.1,129.8 373.2,130.0 373.3,129.6 373.5,131.0 373.6,129.7 373.7,130.1 373.9,130.6 374.0,130.4 374.2,130.3 374.3,130.0 374.4,130.6 374.6,130.6 374.7,130.1 374.8,130.2 375.0,129.9 375.1,129.7 375.3,131.2 375.4,130.2 375.5,130.1 375.7,130.2 375.8,130.8 376.0,129.8 376.1,129.3 376.2,130.3 376.4,130.6 376.5,129.8 376.6,130.2 376.8,130.1 376.9,130.1 377.1,130.5 377.2,130.2 377.3,130.6 377.5,131.3 377.6,129.7 377.7,130.1 377.9,130.3 378.0,129.5 378.2,130.3 378.3,129.6 378.4,129.8 378.6,130.4 378.7,130.9 378.8,130.0 379.0,130.1 379.1,129.7 379.3,131.0 379.4,130.3 379.5,130.1 379.7,130.0 379.8,130.2 380.0,130.1 380.1,131.4 380.2,130.4 380.4,130.6 380.5,131.0 380.6,130.2 380.8,130.4 380.9,130.8 381.1,131.0 381.2,130.0 381.3,131.6 381.5,130.3 381.6,130.8 381.7,130.1 381.9,129.2 382.0,129.7 382.2,130.2 382.3,129.4 382.4,129.2 382.6,129.7 382.7,129.2 382.8,130.1 383.0,129.9 383.1,130.2 383.3,130.4 383.4,130.2 383.5,130.6 383.7,130.2 383.8,129.0 384.0,129.8 384.1,130.3 384.2,129.3 384.4,129.4 384.5,130.8 384.6,130.6 384.8,129.3 384.9,130.1 385.1,130.1 385.2,130.5 385.3,130.8 385.5,129.6 385.6,130.6 385.7,129.9 385.9,129.2 386.0,129.9 386.2,130.3 386.3,129.8 386.4,129.9 386.6,130.4 386.7,130.0 386.8,130.8 387.0,131.1 387.1,130.5 387.3,131.1 387.4,130.5 387.5,130.2 387.7,130.1 387.8,129.2 388.0,130.7 388.1,130.4 388.2,130.4 388.4,130.7 388.5,129.1 388.6,130.6 388.8,130.3 388.9,130.3 389.1,128.9 389.2,130.3 389.3,130.6 389.5,129.5 389.6,130.5 389.7,131.3 389.9,129.6 390.0,129.7 390.2,130.9 390.3,130.8 390.4,130.2 390.6,130.7 390.7,131.0 390.8,130.8 391.0,129.2 391.1,129.6 391.3,130.7 391.4,130.3 391.5,130.1 391.7,130.4 391.8,130.2 392.0,129.2 392.1,130.5 392.2,130.6 392.4,130.2 392.5,130.5 392.6,130.4 392.8,130.4 392.9,130.7 393.1,129.5 393.2,130.5 393.3,129.5 393.5,130.6 393.6,130.7 393.7,130.0 393.9,130.3 394.0,129.7 394.2,129.8 394.3,128.9 394.4,131.7 394.6,130.7 394.7,130.2 394.8,130.3 395.0,130.2 395.1,128.7 395.3,131.4 395.4,129.8 395.5,130.3 395.7,130.1 395.8,129.5 396.0,130.2 396.1,129.7 396.2,129.4 396.4,129.5 396.5,131.1 396.6,130.5 396.8,130.8 396.9,130.5 397.1,130.2 397.2,129.0 397.3,130.5 397.5,130.3 397.6,130.2 397.7,129.3 397.9,130.4 398.0,129.8 398.2,129.6 398.3,129.8 398.4,131.2 398.6,130.8 398.7,129.7 398.8,131.0 399.0,130.2 399.1,130.8 399.3,129.8 399.4,130.0 399.5,130.8 399.7,130.0 399.8,130.4 400.0,130.1 400.1,129.0 400.2,129.5 400.4,129.3 400.5,128.6 400.6,129.2 400.8,128.5 400.9,128.8 401.1,128.8 401.2,129.0 401.3,129.2 401.5,129.3 401.6,129.2 401.7,128.5 401.9,128.6 402.0,129.4 402.2,128.4 402.3,129.6 402.4,129.5 402.6,130.2 402.7,130.0 402.8,129.2 403.0,129.5 403.1,130.1 403.3,129.2 403.4,129.9 403.5,129.9 403.7,129.4 403.8,129.7 404.0,130.2 404.1,130.6 404.2,129.3 404.4,131.3 404.5,130.4 404.6,131.0 404.8,130.3 404.9,129.6 405.1,130.2 405.2,130.3 405.3,130.1 405.5,129.0 405.6,129.3 405.7,129.9 405.9,130.4 406.0,130.3 406.2,129.9 406.3,130.2 406.4,130.1 406.6,130.6 406.7,130.8 406.8,130.6 407.0,129.9 407.1,130.5 407.3,128.7 407.4,129.7 407.5,129.7 407.7,129.5 407.8,130.6 408.0,130.6 408.1,130.1 408.2,129.7 408.4,129.7 408.5,129.1 408.6,129.3 408.8,129.4 408.9,129.4 409.1,129.8 409.2,129.5 409.3,130.1 409.5,130.2 409.6,129.5 409.7,130.8 409.9,129.2 410.0,129.0 410.2,130.2 410.3,129.5 410.4,129.8 410.6,130.4 410.7,129.7 410.8,129.6 411.0,129.4 411.1,130.1 411.3,129.8 411.4,130.2 411.5,129.4 411.7,130.0 411.8,129.4 412.0,130.3 412.1,129.8 412.2,130.4 412.4,130.3 412.5,129.3 412.6,130.0 412.8,129.9 412.9,129.5 413.1,130.3 413.2,128.9 413.3,130.3 413.5,130.1 413.6,128.7 413.7,130.8 413.9,128.9 414.0,129.7 414.2,129.6 414.3,130.4 414.4,129.8 414.6,130.5 414.7,129.3 414.8,130.0 415.0,130.2 415.1,130.1 415.3,130.0 415.4,129.4 415.5,129.7 415.7,130.3 415.8,130.3 415.9,130.4 416.1,129.4 416.2,129.6 416.4,130.5 416.5,130.7 416.6,129.9 416.8,130.2 416.9,129.6 417.1,129.9 417.2,129.7 417.3,129.4 417.5,129.3 417.6,130.0 417.7,129.5 417.9,130.2 418.0,130.5 418.2,129.7 418.3,129.2 418.4,129.1 418.6,129.9 418.7,130.8 418.8,129.7 419.0,130.0 419.1,129.5 419.3,129.3 419.4,130.1 419.5,130.2 419.7,130.1 419.8,130.2 419.9,130.4 420.1,129.7 420.2,130.2 420.4,130.0 420.5,130.0 420.6,130.2 420.8,129.5 420.9,130.1 421.1,129.9 421.2,129.4 421.3,129.9 421.5,130.6 421.6,130.1 421.7,130.1 421.9,129.5 422.0,129.0 422.2,129.7 422.3,129.9 422.4,129.1 422.6,130.2 422.7,129.7 422.8,129.6 423.0,129.9 423.1,129.9 423.3,129.7 423.4,129.0 423.5,129.5 423.7,130.1 423.8,129.7 423.9,129.3 424.1,128.9 424.2,129.4 424.4,129.7 424.5,129.1 424.6,129.3 424.8,129.7 424.9,130.2 425.1,129.8 425.2,129.3 425.3,130.4 425.5,130.6 425.6,129.5 425.7,130.6 425.9,130.5 426.0,129.9 426.2,129.9 426.3,129.8 426.4,129.7 426.6,129.5 426.7,129.8 426.8,130.2 427.0,131.3 427.1,129.1 427.3,129.4 427.4,129.5 427.5,129.8 427.7,130.3 427.8,129.5 427.9,129.8 428.1,130.5 428.2,129.3 428.4,130.5 428.5,130.0 428.6,128.9 428.8,130.2 428.9,129.7 429.1,129.2 429.2,129.8 429.3,130.5 429.5,130.0 429.6,129.8 429.7,130.6 429.9,129.0 430.0,129.6 430.2,129.4 430.3,129.6 430.4,129.6 430.6,130.0 430.7,130.5 430.8,129.4 431.0,129.8 431.1,129.0 431.3,130.4 431.4,129.7 431.5,128.6 431.7,130.5 431.8,130.4 431.9,129.6 432.1,128.9 432.2,130.4 432.4,129.7 432.5,129.9 432.6,130.1 432.8,129.9 432.9,129.1 433.1,129.7 433.2,130.4 433.3,130.1 433.5,129.7 433.6,130.5 433.7,130.1 433.9,130.0 434.0,130.8 434.2,128.8 434.3,130.6 434.4,129.7 434.6,129.8 434.7,130.1 434.8,129.1 435.0,129.7 435.1,130.2 435.3,129.1 435.4,129.4 435.5,130.3 435.7,130.5 435.8,129.3 435.9,129.8 436.1,130.5 436.2,129.4 436.4,130.5 436.5,130.1 436.6,130.1 436.8,130.8 436.9,129.3 437.1,127.9 437.2,129.4 437.3,129.5 437.5,129.8 437.6,129.7 437.7,129.5 437.9,129.4 438.0,129.9 438.2,129.7 438.3,129.8 438.4,129.4 438.6,129.2 438.7,129.1 438.8,129.9 439.0,129.9 439.1,129.3 439.3,129.8 439.4,129.7 439.5,129.4 439.7,129.4 439.8,128.9 439.9,130.2 440.1,129.0 440.2,129.8 440.4,129.2 440.5,130.3 440.6,129.6 440.8,129.9 440.9,128.6 441.1,130.1 441.2,128.9 441.3,130.0 441.5,130.1 441.6,129.4 441.7,129.0 441.9,129.5 442.0,129.2 442.2,129.4 442.3,129.5 442.4,128.7 442.6,129.4 442.7,129.0 442.8,130.0 443.0,129.5 443.1,128.9 443.3,129.6 443.4,130.5 443.5,128.9 443.7,129.0 443.8,129.4 443.9,129.2 444.1,129.4 444.2,129.0 444.4,128.5 444.5,128.9 444.6,129.1 444.8,129.4 444.9,129.1 445.1,129.3 445.2,128.3 445.3,129.6 445.5,129.3 445.6,128.5 445.7,128.5 445.9,128.5 446.0,129.0 446.2,128.4 446.3,129.7 446.4,129.7 446.6,129.5 446.7,128.0 446.8,127.0 447.0,128.6 447.1,128.6 447.3,128.3 447.4,126.2 447.5,127.7 447.7,127.7 447.8,128.3 447.9,127.1 448.1,126.2 448.2,127.2 448.4,128.2 448.5,125.8 448.6,127.2 448.8,125.1 448.9,128.2 449.1,127.1 449.2,126.5 449.3,128.9 449.5,126.6 449.6,125.8 449.7,126.7 449.9,125.9 450.0,126.1 450.2,127.4 450.3,125.2 450.4,127.1 450.6,126.4 450.7,127.0 450.8,125.0 451.0,126.4 451.1,126.3 451.3,128.5 451.4,125.8 451.5,124.0 451.7,128.0 451.8,124.4 451.9,124.8 452.1,126.8 452.2,124.7 452.4,122.5 452.5,123.5 452.6,122.6 452.8,121.2 452.9,122.8 453.1,120.9 453.2,123.6 453.3,123.0 453.5,119.9 453.6,120.2 453.7,121.1 453.9,124.7 454.0,123.4 454.2,124.7 454.3,121.3 454.4,126.1 454.6,126.3 454.7,125.7 454.8,124.7 455.0,126.1 455.1,125.8 455.3,125.1 455.4,125.5 455.5,128.1 455.7,127.3 455.8,123.3 455.9,125.4 456.1,123.0 456.2,123.5 456.4,124.0 456.5,125.5 456.6,123.6 456.8,126.4 456.9,122.9 457.0,125.3 457.2,125.5 457.3,127.0 457.5,127.5 457.6,127.3 457.7,127.9 457.9,128.5 458.0,129.0 458.2,127.5 458.3,126.3 458.4,125.4 458.6,127.2 458.7,128.5 458.8,127.6 459.0,126.2 459.1,128.4 459.3,127.3 459.4,128.2 459.5,128.6 459.7,129.6" fill="none" stroke="#000" stroke-width="0.9" stroke-linejoin="round"/>
<line x1="46.8" y1="152.3" x2="46.8" y2="276" stroke="#111" stroke-width="1.3"/>
<line x1="46.8" y1="272.7" x2="459.8" y2="272.7" stroke="#111" stroke-width="1.1"/>
<line x1="39.3" y1="272.6" x2="46.8" y2="272.6" stroke="#111" stroke-width="0.8"/>
<line x1="43.3" y1="268.6" x2="46.8" y2="268.6" stroke="#111" stroke-width="0.8"/>
<line x1="43.3" y1="264.6" x2="46.8" y2="264.6" stroke="#111" stroke-width="0.8"/>
<line x1="43.3" y1="260.6" x2="46.8" y2="260.6" stroke="#111" stroke-width="0.8"/>
<line x1="43.3" y1="256.6" x2="46.8" y2="256.6" stroke="#111" stroke-width="0.8"/>
<line x1="39.3" y1="252.6" x2="46.8" y2="252.6" stroke="#111" stroke-width="0.8"/>
<line x1="43.3" y1="248.6" x2="46.8" y2="248.6" stroke="#111" stroke-width="0.8"/>
<line x1="43.3" y1="244.6" x2="46.8" y2="244.6" stroke="#111" stroke-width="0.8"/>
<line x1="43.3" y1="240.6" x2="46.8" y2="240.6" stroke="#111" stroke-width="0.8"/>
<line x1="43.3" y1="236.6" x2="46.8" y2="236.6" stroke="#111" stroke-width="0.8"/>
<line x1="39.3" y1="232.6" x2="46.8" y2="232.6" stroke="#111" stroke-width="0.8"/>
<line x1="43.3" y1="228.6" x2="46.8" y2="228.6" stroke="#111" stroke-width="0.8"/>
<line x1="43.3" y1="224.6" x2="46.8" y2="224.6" stroke="#111" stroke-width="0.8"/>
<line x1="43.3" y1="220.6" x2="46.8" y2="220.6" stroke="#111" stroke-width="0.8"/>
<line x1="43.3" y1="216.6" x2="46.8" y2="216.6" stroke="#111" stroke-width="0.8"/>
<line x1="39.3" y1="212.6" x2="46.8" y2="212.6" stroke="#111" stroke-width="0.8"/>
<line x1="43.3" y1="208.6" x2="46.8" y2="208.6" stroke="#111" stroke-width="0.8"/>
<line x1="43.3" y1="204.6" x2="46.8" y2="204.6" stroke="#111" stroke-width="0.8"/>
<line x1="43.3" y1="200.6" x2="46.8" y2="200.6" stroke="#111" stroke-width="0.8"/>
<line x1="43.3" y1="196.6" x2="46.8" y2="196.6" stroke="#111" stroke-width="0.8"/>
<line x1="39.3" y1="192.6" x2="46.8" y2="192.6" stroke="#111" stroke-width="0.8"/>
<line x1="43.3" y1="188.6" x2="46.8" y2="188.6" stroke="#111" stroke-width="0.8"/>
<line x1="43.3" y1="184.6" x2="46.8" y2="184.6" stroke="#111" stroke-width="0.8"/>
<line x1="43.3" y1="180.6" x2="46.8" y2="180.6" stroke="#111" stroke-width="0.8"/>
<line x1="43.3" y1="176.6" x2="46.8" y2="176.6" stroke="#111" stroke-width="0.8"/>
<line x1="39.3" y1="172.6" x2="46.8" y2="172.6" stroke="#111" stroke-width="0.8"/>
<line x1="43.3" y1="168.6" x2="46.8" y2="168.6" stroke="#111" stroke-width="0.8"/>
<line x1="43.3" y1="164.6" x2="46.8" y2="164.6" stroke="#111" stroke-width="0.8"/>
<line x1="43.3" y1="160.6" x2="46.8" y2="160.6" stroke="#111" stroke-width="0.8"/>
<line x1="43.3" y1="156.6" x2="46.8" y2="156.6" stroke="#111" stroke-width="0.8"/>
<line x1="39.3" y1="152.6" x2="46.8" y2="152.6" stroke="#111" stroke-width="0.8"/>
<text transform="translate(30.8,276) scale(0.7,1)" text-anchor="middle" font-family="Liberation Sans, sans-serif" font-size="10.0" fill="#3a3a3a" stroke="#3a3a3a" stroke-width="0.2">0</text>
<text transform="translate(30.8,255.82) scale(0.7,1)" text-anchor="middle" font-family="Liberation Sans, sans-serif" font-size="10.0" fill="#3a3a3a" stroke="#3a3a3a" stroke-width="0.2">50</text>
<text transform="translate(30.8,235.65) scale(0.7,1)" text-anchor="middle" font-family="Liberation Sans, sans-serif" font-size="10.0" fill="#3a3a3a" stroke="#3a3a3a" stroke-width="0.2">100</text>
<text transform="translate(30.8,215.47) scale(0.7,1)" text-anchor="middle" font-family="Liberation Sans, sans-serif" font-size="10.0" fill="#3a3a3a" stroke="#3a3a3a" stroke-width="0.2">150</text>
<text transform="translate(30.8,195.3) scale(0.7,1)" text-anchor="middle" font-family="Liberation Sans, sans-serif" font-size="10.0" fill="#3a3a3a" stroke="#3a3a3a" stroke-width="0.2">200</text>
<text transform="translate(30.8,175.12) scale(0.7,1)" text-anchor="middle" font-family="Liberation Sans, sans-serif" font-size="10.0" fill="#3a3a3a" stroke="#3a3a3a" stroke-width="0.2">250</text>
<text transform="translate(30.8,154.95) scale(0.7,1)" text-anchor="middle" font-family="Liberation Sans, sans-serif" font-size="10.0" fill="#3a3a3a" stroke="#3a3a3a" stroke-width="0.2">300</text>
<line x1="46.6" y1="272.7" x2="46.6" y2="276.9" stroke="#111" stroke-width="0.8"/>
<line x1="53.5" y1="272.7" x2="53.5" y2="275.2" stroke="#111" stroke-width="0.8"/>
<line x1="60.39" y1="272.7" x2="60.39" y2="275.2" stroke="#111" stroke-width="0.8"/>
<line x1="67.29" y1="272.7" x2="67.29" y2="275.2" stroke="#111" stroke-width="0.8"/>
<line x1="74.18" y1="272.7" x2="74.18" y2="275.2" stroke="#111" stroke-width="0.8"/>
<line x1="81.08" y1="272.7" x2="81.08" y2="276.1" stroke="#111" stroke-width="0.8"/>
<line x1="87.98" y1="272.7" x2="87.98" y2="275.2" stroke="#111" stroke-width="0.8"/>
<line x1="94.87" y1="272.7" x2="94.87" y2="275.2" stroke="#111" stroke-width="0.8"/>
<line x1="101.77" y1="272.7" x2="101.77" y2="275.2" stroke="#111" stroke-width="0.8"/>
<line x1="108.66" y1="272.7" x2="108.66" y2="275.2" stroke="#111" stroke-width="0.8"/>
<line x1="115.56" y1="272.7" x2="115.56" y2="276.9" stroke="#111" stroke-width="0.8"/>
<line x1="122.46" y1="272.7" x2="122.46" y2="275.2" stroke="#111" stroke-width="0.8"/>
<line x1="129.35" y1="272.7" x2="129.35" y2="275.2" stroke="#111" stroke-width="0.8"/>
<line x1="136.25" y1="272.7" x2="136.25" y2="275.2" stroke="#111" stroke-width="0.8"/>
<line x1="143.14" y1="272.7" x2="143.14" y2="275.2" stroke="#111" stroke-width="0.8"/>
<line x1="150.04" y1="272.7" x2="150.04" y2="276.1" stroke="#111" stroke-width="0.8"/>
<line x1="156.94" y1="272.7" x2="156.94" y2="275.2" stroke="#111" stroke-width="0.8"/>
<line x1="163.83" y1="272.7" x2="163.83" y2="275.2" stroke="#111" stroke-width="0.8"/>
<line x1="170.73" y1="272.7" x2="170.73" y2="275.2" stroke="#111" stroke-width="0.8"/>
<line x1="177.62" y1="272.7" x2="177.62" y2="275.2" stroke="#111" stroke-width="0.8"/>
<line x1="184.52" y1="272.7" x2="184.52" y2="276.9" stroke="#111" stroke-width="0.8"/>
<line x1="191.42" y1="272.7" x2="191.42" y2="275.2" stroke="#111" stroke-width="0.8"/>
<line x1="198.31" y1="272.7" x2="198.31" y2="275.2" stroke="#111" stroke-width="0.8"/>
<line x1="205.21" y1="272.7" x2="205.21" y2="275.2" stroke="#111" stroke-width="0.8"/>
<line x1="212.1" y1="272.7" x2="212.1" y2="275.2" stroke="#111" stroke-width="0.8"/>
<line x1="219" y1="272.7" x2="219" y2="276.1" stroke="#111" stroke-width="0.8"/>
<line x1="225.9" y1="272.7" x2="225.9" y2="275.2" stroke="#111" stroke-width="0.8"/>
<line x1="232.79" y1="272.7" x2="232.79" y2="275.2" stroke="#111" stroke-width="0.8"/>
<line x1="239.69" y1="272.7" x2="239.69" y2="275.2" stroke="#111" stroke-width="0.8"/>
<line x1="246.58" y1="272.7" x2="246.58" y2="275.2" stroke="#111" stroke-width="0.8"/>
<line x1="253.48" y1="272.7" x2="253.48" y2="276.9" stroke="#111" stroke-width="0.8"/>
<line x1="260.38" y1="272.7" x2="260.38" y2="275.2" stroke="#111" stroke-width="0.8"/>
<line x1="267.27" y1="272.7" x2="267.27" y2="275.2" stroke="#111" stroke-width="0.8"/>
<line x1="274.17" y1="272.7" x2="274.17" y2="275.2" stroke="#111" stroke-width="0.8"/>
<line x1="281.06" y1="272.7" x2="281.06" y2="275.2" stroke="#111" stroke-width="0.8"/>
<line x1="287.96" y1="272.7" x2="287.96" y2="276.1" stroke="#111" stroke-width="0.8"/>
<line x1="294.86" y1="272.7" x2="294.86" y2="275.2" stroke="#111" stroke-width="0.8"/>
<line x1="301.75" y1="272.7" x2="301.75" y2="275.2" stroke="#111" stroke-width="0.8"/>
<line x1="308.65" y1="272.7" x2="308.65" y2="275.2" stroke="#111" stroke-width="0.8"/>
<line x1="315.54" y1="272.7" x2="315.54" y2="275.2" stroke="#111" stroke-width="0.8"/>
<line x1="322.44" y1="272.7" x2="322.44" y2="276.9" stroke="#111" stroke-width="0.8"/>
<line x1="329.34" y1="272.7" x2="329.34" y2="275.2" stroke="#111" stroke-width="0.8"/>
<line x1="336.23" y1="272.7" x2="336.23" y2="275.2" stroke="#111" stroke-width="0.8"/>
<line x1="343.13" y1="272.7" x2="343.13" y2="275.2" stroke="#111" stroke-width="0.8"/>
<line x1="350.02" y1="272.7" x2="350.02" y2="275.2" stroke="#111" stroke-width="0.8"/>
<line x1="356.92" y1="272.7" x2="356.92" y2="276.1" stroke="#111" stroke-width="0.8"/>
<line x1="363.82" y1="272.7" x2="363.82" y2="275.2" stroke="#111" stroke-width="0.8"/>
<line x1="370.71" y1="272.7" x2="370.71" y2="275.2" stroke="#111" stroke-width="0.8"/>
<line x1="377.61" y1="272.7" x2="377.61" y2="275.2" stroke="#111" stroke-width="0.8"/>
<line x1="384.5" y1="272.7" x2="384.5" y2="275.2" stroke="#111" stroke-width="0.8"/>
<line x1="391.4" y1="272.7" x2="391.4" y2="276.9" stroke="#111" stroke-width="0.8"/>
<line x1="398.3" y1="272.7" x2="398.3" y2="275.2" stroke="#111" stroke-width="0.8"/>
<line x1="405.19" y1="272.7" x2="405.19" y2="275.2" stroke="#111" stroke-width="0.8"/>
<line x1="412.09" y1="272.7" x2="412.09" y2="275.2" stroke="#111" stroke-width="0.8"/>
<line x1="418.98" y1="272.7" x2="418.98" y2="275.2" stroke="#111" stroke-width="0.8"/>
<line x1="425.88" y1="272.7" x2="425.88" y2="276.1" stroke="#111" stroke-width="0.8"/>
<line x1="432.78" y1="272.7" x2="432.78" y2="275.2" stroke="#111" stroke-width="0.8"/>
<line x1="439.67" y1="272.7" x2="439.67" y2="275.2" stroke="#111" stroke-width="0.8"/>
<line x1="446.57" y1="272.7" x2="446.57" y2="275.2" stroke="#111" stroke-width="0.8"/>
<line x1="453.46" y1="272.7" x2="453.46" y2="275.2" stroke="#111" stroke-width="0.8"/>
<line x1="460.36" y1="272.7" x2="460.36" y2="276.9" stroke="#111" stroke-width="0.8"/>
<text transform="translate(46.6,284.4) scale(0.7,1)" text-anchor="middle" font-family="Liberation Sans, sans-serif" font-size="10.0" fill="#3a3a3a" stroke="#3a3a3a" stroke-width="0.2">10</text>
<text transform="translate(115.56,284.4) scale(0.7,1)" text-anchor="middle" font-family="Liberation Sans, sans-serif" font-size="10.0" fill="#3a3a3a" stroke="#3a3a3a" stroke-width="0.2">20</text>
<text transform="translate(184.52,284.4) scale(0.7,1)" text-anchor="middle" font-family="Liberation Sans, sans-serif" font-size="10.0" fill="#3a3a3a" stroke="#3a3a3a" stroke-width="0.2">30</text>
<text transform="translate(253.48,284.4) scale(0.7,1)" text-anchor="middle" font-family="Liberation Sans, sans-serif" font-size="10.0" fill="#3a3a3a" stroke="#3a3a3a" stroke-width="0.2">40</text>
<text transform="translate(322.44,284.4) scale(0.7,1)" text-anchor="middle" font-family="Liberation Sans, sans-serif" font-size="10.0" fill="#3a3a3a" stroke="#3a3a3a" stroke-width="0.2">50</text>
<text transform="translate(391.4,284.4) scale(0.7,1)" text-anchor="middle" font-family="Liberation Sans, sans-serif" font-size="10.0" fill="#3a3a3a" stroke="#3a3a3a" stroke-width="0.2">60</text>
<text transform="translate(460.36,284.4) scale(0.7,1)" text-anchor="middle" font-family="Liberation Sans, sans-serif" font-size="10.0" fill="#3a3a3a" stroke="#3a3a3a" stroke-width="0.2">70</text>
<polyline points="46.6,268.0 46.7,271.3 46.9,271.7 47.0,268.8 47.2,267.4 47.3,267.5 47.4,267.7 47.6,270.2 47.7,269.8 47.8,267.1 48.0,265.0 48.1,272.6 48.3,266.9 48.4,269.0 48.5,269.6 48.7,271.1 48.8,270.9 48.9,272.1 49.1,269.0 49.2,271.6 49.4,269.9 49.5,272.6 49.6,267.0 49.8,268.1 49.9,272.1 50.0,268.6 50.2,270.4 50.3,271.5 50.5,269.4 50.6,267.8 50.7,266.3 50.9,269.0 51.0,267.0 51.2,268.1 51.3,268.1 51.4,267.5 51.6,272.5 51.7,270.4 51.8,266.3 52.0,272.5 52.1,271.4 52.3,265.5 52.4,271.8 52.5,269.3 52.7,269.0 52.8,270.3 52.9,267.6 53.1,267.8 53.2,271.1 53.4,265.9 53.5,271.4 53.6,270.6 53.8,270.0 53.9,269.2 54.0,272.1 54.2,269.2 54.3,272.6 54.5,270.8 54.6,271.7 54.7,271.3 54.9,270.0 55.0,269.3 55.2,271.4 55.3,269.8 55.4,272.6 55.6,270.6 55.7,267.8 55.8,271.3 56.0,270.5 56.1,269.9 56.3,268.1 56.4,269.1 56.5,270.2 56.7,272.0 56.8,269.4 56.9,272.6 57.1,269.0 57.2,271.5 57.4,268.5 57.5,270.0 57.6,267.0 57.8,271.3 57.9,272.6 58.0,269.8 58.2,271.0 58.3,270.1 58.5,267.4 58.6,271.8 58.7,268.5 58.9,268.0 59.0,267.6 59.2,272.6 59.3,269.6 59.4,271.4 59.6,270.4 59.7,271.7 59.8,270.6 60.0,267.9 60.1,266.2 60.3,268.4 60.4,272.5 60.5,267.2 60.7,272.6 60.8,270.7 60.9,267.5 61.1,271.2 61.2,268.4 61.4,270.5 61.5,272.4 61.6,269.4 61.8,271.0 61.9,266.1 62.0,266.0 62.2,266.5 62.3,272.1 62.5,265.8 62.6,269.2 62.7,268.8 62.9,269.5 63.0,271.1 63.2,269.6 63.3,268.0 63.4,266.5 63.6,268.7 63.7,269.8 63.8,270.9 64.0,270.6 64.1,266.4 64.3,268.4 64.4,269.4 64.5,272.6 64.7,272.6 64.8,268.4 64.9,268.5 65.1,267.5 65.2,269.4 65.4,271.3 65.5,272.6 65.6,271.9 65.8,272.6 65.9,269.2 66.0,268.9 66.2,266.9 66.3,272.6 66.5,272.6 66.6,268.6 66.7,269.2 66.9,272.6 67.0,271.4 67.2,269.7 67.3,270.7 67.4,269.1 67.6,269.8 67.7,271.1 67.8,269.1 68.0,270.1 68.1,267.4 68.3,272.6 68.4,270.4 68.5,271.4 68.7,270.4 68.8,269.0 68.9,268.5 69.1,272.6 69.2,267.4 69.4,268.7 69.5,268.8 69.6,269.8 69.8,267.9 69.9,269.0 70.0,272.6 70.2,271.4 70.3,270.5 70.5,270.7 70.6,270.9 70.7,268.6 70.9,272.3 71.0,271.5 71.1,272.1 71.3,270.0 71.4,269.0 71.6,271.9 71.7,269.1 71.8,271.1 72.0,266.9 72.1,272.6 72.3,270.0 72.4,267.4 72.5,270.7 72.7,272.3 72.8,271.8 72.9,268.7 73.1,271.1 73.2,267.6 73.4,269.8 73.5,271.1 73.6,270.9 73.8,268.9 73.9,267.7 74.0,271.6 74.2,272.5 74.3,272.4 74.5,268.9 74.6,265.9 74.7,271.0 74.9,268.4 75.0,270.7 75.1,267.8 75.3,272.6 75.4,268.6 75.6,272.6 75.7,271.7 75.8,269.1 76.0,270.4 76.1,270.0 76.3,268.7 76.4,269.4 76.5,266.6 76.7,268.2 76.8,271.7 76.9,270.0 77.1,271.1 77.2,270.7 77.4,266.0 77.5,271.6 77.6,267.1 77.8,266.6 77.9,263.9 78.0,269.8 78.2,269.3 78.3,269.2 78.5,270.6 78.6,265.9 78.7,265.5 78.9,272.6 79.0,270.5 79.1,267.2 79.3,272.1 79.4,271.3 79.6,269.8 79.7,269.9 79.8,270.2 80.0,270.1 80.1,265.9 80.3,272.6 80.4,270.9 80.5,272.3 80.7,269.3 80.8,270.8 80.9,268.8 81.1,269.8 81.2,264.7 81.4,272.6 81.5,270.9 81.6,267.9 81.8,270.6 81.9,269.5 82.0,272.6 82.2,268.2 82.3,270.1 82.5,268.5 82.6,271.8 82.7,271.0 82.9,271.6 83.0,266.1 83.1,272.6 83.3,268.8 83.4,269.1 83.6,266.9 83.7,269.0 83.8,271.9 84.0,268.5 84.1,272.6 84.3,267.2 84.4,269.7 84.5,271.1 84.7,270.5 84.8,268.1 84.9,272.6 85.1,265.5 85.2,270.8 85.4,265.7 85.5,268.7 85.6,264.7 85.8,271.7 85.9,266.8 86.0,268.8 86.2,270.0 86.3,266.6 86.5,268.9 86.6,269.9 86.7,268.5 86.9,269.7 87.0,268.2 87.1,267.6 87.3,264.8 87.4,267.3 87.6,268.6 87.7,264.8 87.8,267.1 88.0,268.2 88.1,268.5 88.3,261.0 88.4,265.1 88.5,260.5 88.7,266.3 88.8,266.0 88.9,258.7 89.1,263.0 89.2,262.2 89.4,261.6 89.5,263.0 89.6,257.0 89.8,261.9 89.9,256.0 90.0,259.8 90.2,249.3 90.3,253.2 90.5,251.0 90.6,257.3 90.7,250.6 90.9,252.0 91.0,251.3 91.1,249.8 91.3,243.6 91.4,244.2 91.6,244.1 91.7,242.6 91.8,240.9 92.0,238.7 92.1,236.0 92.3,236.5 92.4,233.7 92.5,235.5 92.7,226.7 92.8,222.5 92.9,223.5 93.1,215.3 93.2,219.7 93.4,214.8 93.5,209.0 93.6,209.7 93.8,211.1 93.9,205.7 94.0,208.3 94.2,205.0 94.3,208.1 94.5,213.5 94.6,213.4 94.7,211.9 94.9,216.2 95.0,219.4 95.1,224.9 95.3,228.4 95.4,231.2 95.6,228.0 95.7,236.4 95.8,234.1 96.0,232.6 96.1,243.7 96.3,240.0 96.4,245.5 96.5,244.8 96.7,244.6 96.8,250.2 96.9,252.5 97.1,251.4 97.2,251.0 97.4,253.9 97.5,256.5 97.6,253.3 97.8,259.0 97.9,260.8 98.0,257.7 98.2,253.4 98.3,260.9 98.5,260.6 98.6,263.6 98.7,263.2 98.9,265.1 99.0,262.2 99.1,265.1 99.3,265.8 99.4,262.2 99.6,268.3 99.7,263.0 99.8,266.0 100.0,268.1 100.1,266.3 100.3,267.2 100.4,266.1 100.5,267.6 100.7,262.9 100.8,265.1 100.9,265.1 101.1,270.7 101.2,268.8 101.4,265.5 101.5,267.0 101.6,268.4 101.8,268.8 101.9,266.3 102.0,272.6 102.2,270.8 102.3,272.1 102.5,266.5 102.6,272.2 102.7,269.8 102.9,266.2 103.0,270.0 103.1,268.7 103.3,269.3 103.4,267.9 103.6,264.6 103.7,272.1 103.8,269.7 104.0,265.9 104.1,264.3 104.3,270.1 104.4,266.6 104.5,268.2 104.7,268.3 104.8,272.6 104.9,272.6 105.1,269.4 105.2,270.0 105.4,270.0 105.5,272.4 105.6,266.6 105.8,270.2 105.9,263.8 106.0,270.3 106.2,269.0 106.3,268.1 106.5,270.6 106.6,272.0 106.7,271.1 106.9,269.8 107.0,270.9 107.1,265.4 107.3,271.0 107.4,268.1 107.6,268.0 107.7,269.4 107.8,272.2 108.0,268.7 108.1,267.7 108.3,269.4 108.4,269.8 108.5,272.6 108.7,272.2 108.8,270.2 108.9,269.4 109.1,268.1 109.2,270.5 109.4,269.4 109.5,272.1 109.6,268.4 109.8,268.2 109.9,270.1 110.0,267.7 110.2,270.5 110.3,270.9 110.5,270.5 110.6,265.4 110.7,272.6 110.9,269.4 111.0,270.6 111.1,269.6 111.3,272.6 111.4,268.2 111.6,268.4 111.7,270.4 111.8,270.8 112.0,269.7 112.1,267.7 112.2,272.6 112.4,266.7 112.5,270.5 112.7,267.9 112.8,271.6 112.9,265.5 113.1,269.2 113.2,265.9 113.4,271.1 113.5,271.2 113.6,267.3 113.8,268.2 113.9,269.0 114.0,267.0 114.2,268.8 114.3,270.5 114.5,272.6 114.6,272.6 114.7,268.3 114.9,268.5 115.0,271.7 115.1,268.5 115.3,270.2 115.4,269.6 115.6,267.6 115.7,272.6 115.8,268.9 116.0,268.5 116.1,270.1 116.2,269.3 116.4,272.2 116.5,269.4 116.7,268.3 116.8,268.0 116.9,271.2 117.1,267.9 117.2,269.0 117.4,268.2 117.5,269.8 117.6,268.3 117.8,269.3 117.9,264.3 118.0,270.4 118.2,267.2 118.3,269.7 118.5,272.6 118.6,268.7 118.7,267.0 118.9,268.0 119.0,268.0 119.1,271.5 119.3,269.0 119.4,272.6 119.6,265.8 119.7,266.3 119.8,272.0 120.0,270.6 120.1,272.4 120.2,271.4 120.4,270.7 120.5,272.3 120.7,270.7 120.8,268.3 120.9,270.3 121.1,268.1 121.2,270.1 121.4,269.5 121.5,272.5 121.6,267.7 121.8,272.2 121.9,270.5 122.0,272.6 122.2,268.6 122.3,272.0 122.5,268.5 122.6,265.5 122.7,269.0 122.9,272.6 123.0,267.5 123.1,269.3 123.3,268.4 123.4,268.8 123.6,267.1 123.7,267.5 123.8,269.8 124.0,272.4 124.1,269.9 124.2,268.0 124.4,272.6 124.5,269.4 124.7,272.6 124.8,267.2 124.9,265.6 125.1,267.7 125.2,270.6 125.4,267.9 125.5,266.7 125.6,266.0 125.8,266.5 125.9,267.2 126.0,271.8 126.2,269.9 126.3,268.6 126.5,269.6 126.6,272.6 126.7,270.0 126.9,271.2 127.0,269.2 127.1,268.9 127.3,272.6 127.4,271.3 127.6,269.3 127.7,272.0 127.8,269.8 128.0,271.5 128.1,271.3 128.2,267.7 128.4,270.0 128.5,270.9 128.7,266.3 128.8,270.4 128.9,269.8 129.1,269.7 129.2,263.0 129.4,268.3 129.5,267.8 129.6,270.5 129.8,267.8 129.9,267.2 130.0,272.3 130.2,268.7 130.3,266.1 130.5,265.7 130.6,269.1 130.7,264.6 130.9,271.2 131.0,267.4 131.1,268.5 131.3,272.0 131.4,267.4 131.6,272.5 131.7,271.1 131.8,269.9 132.0,272.3 132.1,267.0 132.2,270.6 132.4,272.4 132.5,269.1 132.7,269.7 132.8,272.0 132.9,270.8 133.1,267.6 133.2,267.8 133.4,272.6 133.5,267.4 133.6,267.4 133.8,267.0 133.9,270.6 134.0,271.2 134.2,269.7 134.3,270.9 134.5,270.0 134.6,270.8 134.7,270.1 134.9,270.5 135.0,269.3 135.1,269.0 135.3,269.9 135.4,270.5 135.6,265.6 135.7,267.0 135.8,268.0 136.0,270.9 136.1,267.5 136.2,269.1 136.4,267.3 136.5,268.0 136.7,262.6 136.8,268.1 136.9,270.3 137.1,265.3 137.2,264.9 137.4,264.1 137.5,272.6 137.6,268.7 137.8,268.1 137.9,269.6 138.0,264.9 138.2,263.0 138.3,261.4 138.5,261.1 138.6,262.4 138.7,257.8 138.9,260.0 139.0,266.6 139.1,259.2 139.3,259.0 139.4,254.7 139.6,255.1 139.7,253.1 139.8,246.5 140.0,250.2 140.1,249.6 140.2,242.6 140.4,238.7 140.5,237.9 140.7,234.4 140.8,232.7 140.9,231.3 141.1,225.7 141.2,222.5 141.4,210.9 141.5,211.0 141.6,200.7 141.8,200.7 141.9,198.2 142.0,189.3 142.2,184.1 142.3,175.2 142.5,182.5 142.6,173.3 142.7,172.6 142.9,181.0 143.0,182.8 143.1,189.4 143.3,188.7 143.4,194.5 143.6,210.5 143.7,213.7 143.8,215.9 144.0,218.1 144.1,222.6 144.2,227.7 144.4,228.1 144.5,230.8 144.7,236.4 144.8,240.6 144.9,242.4 145.1,247.5 145.2,245.2 145.4,247.4 145.5,254.2 145.6,249.7 145.8,255.3 145.9,254.6 146.0,258.1 146.2,259.8 146.3,258.7 146.5,263.9 146.6,263.0 146.7,266.1 146.9,262.7 147.0,265.1 147.1,266.0 147.3,267.0 147.4,264.7 147.6,266.0 147.7,267.5 147.8,268.4 148.0,263.5 148.1,264.4 148.2,270.7 148.4,265.6 148.5,267.3 148.7,268.0 148.8,267.8 148.9,272.0 149.1,263.5 149.2,264.5 149.4,269.1 149.5,269.3 149.6,269.0 149.8,270.9 149.9,268.3 150.0,269.6 150.2,272.0 150.3,270.7 150.5,271.1 150.6,271.0 150.7,270.5 150.9,268.3 151.0,270.7 151.1,272.6 151.3,266.6 151.4,271.1 151.6,266.6 151.7,269.3 151.8,268.6 152.0,271.7 152.1,269.6 152.2,270.7 152.4,270.0 152.5,268.8 152.7,270.7 152.8,268.0 152.9,272.6 153.1,272.2 153.2,268.9 153.4,268.7 153.5,267.5 153.6,266.3 153.8,268.9 153.9,268.2 154.0,269.3 154.2,269.5 154.3,270.0 154.5,269.6 154.6,271.1 154.7,270.2 154.9,268.1 155.0,268.7 155.1,267.3 155.3,270.9 155.4,270.6 155.6,268.9 155.7,271.7 155.8,271.8 156.0,268.5 156.1,270.5 156.2,267.9 156.4,269.7 156.5,270.8 156.7,272.2 156.8,267.2 156.9,270.0 157.1,271.8 157.2,272.6 157.3,272.6 157.5,270.8 157.6,267.2 157.8,271.9 157.9,269.3 158.0,269.4 158.2,272.6 158.3,272.6 158.5,268.2 158.6,272.6 158.7,267.5 158.9,270.0 159.0,272.6 159.1,265.9 159.3,270.3 159.4,266.5 159.6,269.6 159.7,271.7 159.8,267.5 160.0,266.1 160.1,267.2 160.2,272.6 160.4,268.6 160.5,272.6 160.7,271.3 160.8,267.0 160.9,272.6 161.1,264.5 161.2,272.6 161.3,272.6 161.5,268.4 161.6,270.5 161.8,270.4 161.9,272.1 162.0,268.4 162.2,269.5 162.3,270.2 162.5,271.8 162.6,272.6 162.7,270.1 162.9,272.6 163.0,271.5 163.1,268.7 163.3,268.5 163.4,271.0 163.6,272.6 163.7,268.8 163.8,268.1 164.0,269.9 164.1,267.2 164.2,267.8 164.4,272.6 164.5,270.5 164.7,271.1 164.8,266.5 164.9,267.6 165.1,269.8 165.2,268.8 165.3,268.1 165.5,271.6 165.6,270.4 165.8,270.2 165.9,271.0 166.0,270.8 166.2,269.5 166.3,272.6 166.5,272.6 166.6,268.3 166.7,266.6 166.9,265.9 167.0,272.6 167.1,269.2 167.3,271.9 167.4,271.2 167.6,270.5 167.7,269.2 167.8,268.8 168.0,272.6 168.1,271.4 168.2,267.6 168.4,269.8 168.5,272.6 168.7,272.2 168.8,271.9 168.9,267.8 169.1,266.2 169.2,272.5 169.3,268.9 169.5,270.7 169.6,268.8 169.8,270.6 169.9,272.6 170.0,271.5 170.2,271.6 170.3,266.9 170.5,271.8 170.6,268.9 170.7,272.0 170.9,271.6 171.0,269.6 171.1,271.4 171.3,265.7 171.4,267.2 171.6,272.6 171.7,269.0 171.8,266.8 172.0,272.6 172.1,271.0 172.2,266.8 172.4,271.9 172.5,268.7 172.7,270.3 172.8,269.7 172.9,272.4 173.1,270.3 173.2,271.1 173.3,266.2 173.5,268.7 173.6,269.9 173.8,270.2 173.9,268.6 174.0,272.6 174.2,272.4 174.3,272.2 174.5,271.9 174.6,272.6 174.7,269.0 174.9,271.2 175.0,267.3 175.1,270.4 175.3,271.0 175.4,269.2 175.6,269.2 175.7,270.8 175.8,268.8 176.0,267.3 176.1,271.1 176.2,267.3 176.4,270.6 176.5,268.2 176.7,270.2 176.8,271.0 176.9,269.5 177.1,272.6 177.2,272.6 177.3,270.2 177.5,270.7 177.6,272.6 177.8,265.4 177.9,269.2 178.0,271.7 178.2,269.0 178.3,268.9 178.5,271.0 178.6,270.7 178.7,272.6 178.9,269.6 179.0,265.9 179.1,267.6 179.3,267.8 179.4,271.4 179.6,272.5 179.7,268.2 179.8,269.5 180.0,270.6 180.1,270.8 180.2,268.0 180.4,268.7 180.5,271.2 180.7,270.4 180.8,272.6 180.9,272.6 181.1,268.9 181.2,271.2 181.3,272.1 181.5,269.5 181.6,267.3 181.8,272.0 181.9,270.9 182.0,270.7 182.2,264.7 182.3,267.9 182.5,269.5 182.6,272.6 182.7,268.5 182.9,268.9 183.0,270.6 183.1,271.8 183.3,271.1 183.4,272.6 183.6,271.0 183.7,271.2 183.8,272.1 184.0,270.8 184.1,272.6 184.2,267.6 184.4,270.5 184.5,272.6 184.7,268.4 184.8,268.9 184.9,271.2 185.1,272.6 185.2,270.3 185.3,269.1 185.5,268.7 185.6,268.1 185.8,268.3 185.9,272.6 186.0,269.9 186.2,272.6 186.3,268.0 186.5,269.3 186.6,268.1 186.7,270.1 186.9,270.2 187.0,271.4 187.1,272.6 187.3,270.6 187.4,264.5 187.6,267.3 187.7,270.6 187.8,269.4 188.0,269.2 188.1,271.4 188.2,270.1 188.4,269.4 188.5,271.2 188.7,269.1 188.8,267.4 188.9,268.3 189.1,269.5 189.2,270.5 189.3,268.5 189.5,271.2 189.6,271.4 189.8,267.2 189.9,270.8 190.0,272.6 190.2,268.1 190.3,268.4 190.5,267.5 190.6,270.1 190.7,267.3 190.9,270.1 191.0,272.0 191.1,270.1 191.3,269.1 191.4,272.1 191.6,270.0 191.7,269.0 191.8,270.4 192.0,269.2 192.1,269.3 192.2,270.9 192.4,268.2 192.5,267.6 192.7,272.6 192.8,270.0 192.9,266.5 193.1,267.1 193.2,272.2 193.3,267.0 193.5,264.1 193.6,264.9 193.8,264.8 193.9,266.5 194.0,265.6 194.2,268.0 194.3,264.8 194.5,258.8 194.6,263.7 194.7,265.3 194.9,261.1 195.0,266.6 195.1,255.3 195.3,258.6 195.4,259.9 195.6,259.3 195.7,259.9 195.8,256.4 196.0,255.7 196.1,259.1 196.2,251.9 196.4,255.7 196.5,258.2 196.7,253.8 196.8,255.2 196.9,259.4 197.1,260.4 197.2,256.9 197.3,261.4 197.5,260.7 197.6,258.6 197.8,265.6 197.9,266.9 198.0,265.9 198.2,265.8 198.3,264.9 198.4,263.1 198.6,266.9 198.7,262.3 198.9,266.1 199.0,271.5 199.1,267.3 199.3,265.9 199.4,265.3 199.6,269.6 199.7,268.4 199.8,263.4 200.0,268.2 200.1,270.8 200.2,272.2 200.4,269.9 200.5,268.2 200.7,271.6 200.8,266.2 200.9,270.9 201.1,272.6 201.2,268.0 201.3,269.4 201.5,270.0 201.6,266.7 201.8,270.9 201.9,268.0 202.0,270.8 202.2,266.0 202.3,269.6 202.4,269.6 202.6,268.4 202.7,269.9 202.9,268.7 203.0,270.2 203.1,268.4 203.3,269.6 203.4,270.9 203.6,268.5 203.7,268.7 203.8,272.1 204.0,270.4 204.1,272.6 204.2,269.5 204.4,267.9 204.5,264.5 204.7,269.1 204.8,267.5 204.9,266.5 205.1,268.2 205.2,272.6 205.3,270.8 205.5,269.0 205.6,269.1 205.8,269.5 205.9,271.7 206.0,272.6 206.2,268.9 206.3,267.2 206.4,270.8 206.6,268.5 206.7,270.9 206.9,270.0 207.0,270.9 207.1,267.8 207.3,271.6 207.4,269.2 207.6,267.5 207.7,269.5 207.8,272.1 208.0,268.4 208.1,269.5 208.2,271.9 208.4,269.2 208.5,269.3 208.7,267.0 208.8,269.2 208.9,267.5 209.1,266.0 209.2,271.2 209.3,264.0 209.5,265.6 209.6,267.2 209.8,263.7 209.9,260.5 210.0,263.4 210.2,261.8 210.3,255.5 210.4,253.2 210.6,250.2 210.7,253.0 210.9,253.3 211.0,250.7 211.1,246.2 211.3,245.0 211.4,237.7 211.6,231.7 211.7,234.7 211.8,223.3 212.0,226.4 212.1,221.6 212.2,219.6 212.4,208.9 212.5,207.4 212.7,203.3 212.8,209.4 212.9,199.0 213.1,193.8 213.2,202.9 213.3,188.5 213.5,196.2 213.6,196.6 213.8,204.6 213.9,204.5 214.0,207.4 214.2,207.6 214.3,222.9 214.4,217.6 214.6,231.1 214.7,231.3 214.9,236.6 215.0,239.5 215.1,247.7 215.3,246.2 215.4,251.4 215.6,251.3 215.7,252.5 215.8,255.1 216.0,257.4 216.1,255.4 216.2,259.5 216.4,260.2 216.5,259.6 216.7,264.0 216.8,264.5 216.9,264.0 217.1,266.8 217.2,263.9 217.3,268.6 217.5,268.1 217.6,268.3 217.8,269.0 217.9,268.5 218.0,269.8 218.2,272.6 218.3,266.5 218.4,270.1 218.6,267.6 218.7,271.6 218.9,268.1 219.0,272.2 219.1,266.2 219.3,269.7 219.4,270.4 219.6,272.6 219.7,272.6 219.8,270.5 220.0,270.8 220.1,270.8 220.2,270.5 220.4,267.2 220.5,270.1 220.7,270.0 220.8,270.6 220.9,271.2 221.1,267.8 221.2,269.4 221.3,269.1 221.5,267.3 221.6,267.5 221.8,265.5 221.9,265.1 222.0,269.3 222.2,267.6 222.3,262.9 222.4,265.4 222.6,262.2 222.7,264.9 222.9,267.8 223.0,266.2 223.1,261.4 223.3,259.5 223.4,251.1 223.6,253.7 223.7,252.2 223.8,250.0 224.0,254.9 224.1,248.7 224.2,247.3 224.4,239.8 224.5,245.2 224.7,245.5 224.8,239.4 224.9,238.5 225.1,236.1 225.2,234.3 225.3,233.5 225.5,235.1 225.6,234.8 225.8,227.7 225.9,237.4 226.0,235.6 226.2,241.5 226.3,245.2 226.4,239.7 226.6,243.5 226.7,242.3 226.9,244.9 227.0,248.9 227.1,253.3 227.3,247.9 227.4,254.3 227.6,250.5 227.7,255.6 227.8,256.4 228.0,258.3 228.1,259.8 228.2,262.4 228.4,257.2 228.5,265.7 228.7,267.9 228.8,264.3 228.9,267.1 229.1,263.8 229.2,267.0 229.3,264.3 229.5,267.1 229.6,269.3 229.8,268.6 229.9,266.5 230.0,269.7 230.2,270.3 230.3,269.0 230.4,268.0 230.6,266.1 230.7,268.0 230.9,267.1 231.0,269.5 231.1,265.1 231.3,264.4 231.4,270.6 231.6,268.7 231.7,269.5 231.8,268.6 232.0,269.9 232.1,270.8 232.2,272.1 232.4,270.4 232.5,269.3 232.7,267.1 232.8,268.1 232.9,270.2 233.1,270.7 233.2,272.6 233.3,267.8 233.5,269.1 233.6,267.9 233.8,267.6 233.9,268.0 234.0,269.4 234.2,269.8 234.3,271.3 234.4,270.5 234.6,268.1 234.7,264.1 234.9,269.8 235.0,268.4 235.1,261.8 235.3,268.5 235.4,269.4 235.6,268.5 235.7,269.0 235.8,272.6 236.0,266.3 236.1,271.9 236.2,269.0 236.4,268.5 236.5,266.3 236.7,267.6 236.8,267.9 236.9,268.5 237.1,265.6 237.2,266.5 237.3,267.0 237.5,268.0 237.6,266.4 237.8,263.5 237.9,267.0 238.0,262.3 238.2,261.7 238.3,258.3 238.4,262.1 238.6,262.0 238.7,258.9 238.9,258.7 239.0,263.4 239.1,252.7 239.3,254.1 239.4,253.2 239.6,254.6 239.7,250.3 239.8,250.9 240.0,244.7 240.1,245.9 240.2,242.7 240.4,248.8 240.5,246.7 240.7,244.4 240.8,244.0 240.9,236.9 241.1,239.6 241.2,243.0 241.3,240.3 241.5,234.5 241.6,240.9 241.8,238.9 241.9,246.2 242.0,243.8 242.2,243.7 242.3,245.0 242.4,245.4 242.6,245.6 242.7,244.7 242.9,253.6 243.0,250.0 243.1,249.5 243.3,251.9 243.4,250.6 243.5,255.0 243.7,256.9 243.8,258.9 244.0,255.5 244.1,261.9 244.2,260.7 244.4,260.6 244.5,259.8 244.7,262.7 244.8,265.0 244.9,262.0 245.1,266.7 245.2,266.3 245.3,269.8 245.5,265.2 245.6,265.7 245.8,270.4 245.9,267.3 246.0,265.9 246.2,269.0 246.3,271.5 246.4,268.2 246.6,266.8 246.7,272.5 246.9,266.6 247.0,268.8 247.1,266.7 247.3,271.2 247.4,266.9 247.5,268.3 247.7,267.3 247.8,268.8 248.0,266.8 248.1,269.3 248.2,269.7 248.4,270.9 248.5,271.9 248.7,268.1 248.8,268.7 248.9,267.8 249.1,267.8 249.2,265.9 249.3,266.0 249.5,266.8 249.6,262.9 249.8,258.7 249.9,264.8 250.0,262.6 250.2,258.8 250.3,260.5 250.4,254.4 250.6,256.9 250.7,256.2 250.9,253.3 251.0,245.5 251.1,251.2 251.3,242.5 251.4,245.9 251.5,234.6 251.7,232.3 251.8,228.1 252.0,220.2 252.1,223.4 252.2,216.3 252.4,214.8 252.5,210.4 252.7,213.5 252.8,205.5 252.9,208.8 253.1,203.4 253.2,206.7 253.3,211.7 253.5,212.8 253.6,215.9 253.8,220.1 253.9,216.1 254.0,230.0 254.2,234.9 254.3,238.1 254.4,238.2 254.6,240.7 254.7,241.6 254.9,243.6 255.0,248.2 255.1,250.8 255.3,255.8 255.4,252.8 255.5,253.6 255.7,259.0 255.8,258.4 256.0,263.0 256.1,262.6 256.2,263.3 256.4,262.4 256.5,268.6 256.7,265.7 256.8,264.4 256.9,266.1 257.1,265.8 257.2,272.6 257.3,269.9 257.5,269.2 257.6,270.2 257.8,272.6 257.9,266.5 258.0,268.4 258.2,272.6 258.3,270.3 258.4,269.2 258.6,267.2 258.7,267.9 258.9,271.7 259.0,270.9 259.1,269.0 259.3,267.4 259.4,270.5 259.5,271.0 259.7,268.3 259.8,269.3 260.0,266.6 260.1,268.6 260.2,267.5 260.4,272.6 260.5,272.6 260.7,272.6 260.8,271.2 260.9,268.9 261.1,270.3 261.2,268.6 261.3,271.4 261.5,267.6 261.6,267.9 261.8,272.6 261.9,272.1 262.0,271.1 262.2,268.0 262.3,268.1 262.4,265.8 262.6,272.6 262.7,269.3 262.9,269.8 263.0,270.4 263.1,270.1 263.3,272.6 263.4,269.2 263.5,270.8 263.7,272.6 263.8,266.7 264.0,271.4 264.1,269.3 264.2,271.4 264.4,272.6 264.5,270.9 264.7,269.2 264.8,272.1 264.9,268.8 265.1,266.1 265.2,267.2 265.3,270.5 265.5,271.6 265.6,267.8 265.8,272.6 265.9,272.1 266.0,266.0 266.2,268.9 266.3,268.7 266.4,270.4 266.6,263.5 266.7,262.8 266.9,270.0 267.0,267.8 267.1,270.3 267.3,268.6 267.4,266.7 267.5,266.8 267.7,270.1 267.8,268.7 268.0,263.3 268.1,267.4 268.2,266.4 268.4,268.3 268.5,269.8 268.7,272.0 268.8,271.7 268.9,272.6 269.1,272.0 269.2,271.5 269.3,267.9 269.5,272.6 269.6,268.6 269.8,272.6 269.9,263.8 270.0,270.9 270.2,269.2 270.3,265.7 270.4,270.0 270.6,269.4 270.7,269.2 270.9,268.3 271.0,270.7 271.1,265.7 271.3,267.0 271.4,269.2 271.5,266.8 271.7,269.8 271.8,270.7 272.0,269.8 272.1,268.5 272.2,272.6 272.4,270.2 272.5,268.5 272.7,271.9 272.8,268.7 272.9,271.9 273.1,268.9 273.2,269.5 273.3,268.5 273.5,270.9 273.6,272.6 273.8,272.6 273.9,260.5 274.0,272.2 274.2,270.8 274.3,272.4 274.4,265.3 274.6,266.7 274.7,266.2 274.9,270.6 275.0,265.3 275.1,269.2 275.3,264.3 275.4,267.1 275.5,272.0 275.7,266.5 275.8,268.0 276.0,259.7 276.1,268.4 276.2,265.5 276.4,265.1 276.5,266.2 276.7,265.6 276.8,263.7 276.9,262.5 277.1,264.4 277.2,264.3 277.3,263.9 277.5,266.6 277.6,265.2 277.8,264.9 277.9,262.8 278.0,264.1 278.2,264.9 278.3,264.2 278.4,268.6 278.6,264.4 278.7,268.2 278.9,268.0 279.0,268.8 279.1,266.6 279.3,269.8 279.4,267.2 279.5,269.5 279.7,270.0 279.8,268.1 280.0,271.0 280.1,266.5 280.2,270.9 280.4,270.5 280.5,266.7 280.7,272.6 280.8,267.5 280.9,269.5 281.1,269.4 281.2,269.2 281.3,271.8 281.5,266.1 281.6,268.6 281.8,268.3 281.9,268.0 282.0,267.6 282.2,269.1 282.3,271.9 282.4,272.6 282.6,272.6 282.7,270.9 282.9,267.6 283.0,272.6 283.1,270.7 283.3,268.6 283.4,270.7 283.5,270.5 283.7,272.3 283.8,269.6 284.0,271.2 284.1,271.5 284.2,270.8 284.4,269.1 284.5,267.8 284.6,272.5 284.8,268.9 284.9,272.4 285.1,272.6 285.2,271.4 285.3,269.8 285.5,270.1 285.6,269.1 285.8,272.6 285.9,266.8 286.0,268.1 286.2,268.4 286.3,272.6 286.4,268.9 286.6,271.0 286.7,270.9 286.9,269.8 287.0,272.6 287.1,267.4 287.3,267.5 287.4,267.9 287.5,266.6 287.7,272.6 287.8,270.3 288.0,270.3 288.1,272.3 288.2,267.6 288.4,263.6 288.5,271.6 288.6,267.9 288.8,268.9 288.9,268.6 289.1,268.6 289.2,267.1 289.3,270.0 289.5,269.3 289.6,264.4 289.8,268.0 289.9,267.8 290.0,271.6 290.2,266.3 290.3,265.7 290.4,266.2 290.6,262.9 290.7,271.0 290.9,264.0 291.0,269.7 291.1,268.0 291.3,270.0 291.4,263.2 291.5,265.2 291.7,265.8 291.8,264.7 292.0,269.9 292.1,266.6 292.2,264.9 292.4,267.0 292.5,266.0 292.6,269.8 292.8,266.0 292.9,267.4 293.1,266.5 293.2,263.6 293.3,267.3 293.5,269.1 293.6,267.0 293.8,270.7 293.9,264.6 294.0,268.5 294.2,268.7 294.3,267.7 294.4,271.8 294.6,269.2 294.7,269.7 294.9,264.6 295.0,266.2 295.1,265.5 295.3,269.5 295.4,269.3 295.5,267.4 295.7,271.3 295.8,271.9 296.0,266.4 296.1,268.8 296.2,268.9 296.4,272.6 296.5,270.9 296.6,271.0 296.8,271.6 296.9,269.3 297.1,272.1 297.2,272.6 297.3,265.8 297.5,269.0 297.6,272.3 297.8,265.4 297.9,268.8 298.0,269.3 298.2,272.6 298.3,266.7 298.4,269.6 298.6,267.3 298.7,266.2 298.9,272.6 299.0,265.8 299.1,268.1 299.3,269.7 299.4,272.6 299.5,265.6 299.7,269.2 299.8,268.5 300.0,272.5 300.1,268.5 300.2,268.6 300.4,266.6 300.5,271.9 300.6,272.6 300.8,271.2 300.9,272.0 301.1,269.3 301.2,270.2 301.3,269.4 301.5,267.0 301.6,266.1 301.8,269.7 301.9,272.6 302.0,269.8 302.2,270.2 302.3,270.0 302.4,270.1 302.6,269.8 302.7,272.6 302.9,268.5 303.0,268.6 303.1,268.9 303.3,269.9 303.4,267.6 303.5,272.6 303.7,269.8 303.8,268.2 304.0,270.4 304.1,269.5 304.2,267.0 304.4,269.5 304.5,271.0 304.6,270.0 304.8,268.0 304.9,271.1 305.1,268.6 305.2,269.4 305.3,268.2 305.5,266.4 305.6,266.3 305.8,267.6 305.9,267.1 306.0,265.7 306.2,269.0 306.3,266.7 306.4,269.5 306.6,263.8 306.7,266.3 306.9,269.3 307.0,267.3 307.1,264.4 307.3,265.4 307.4,269.9 307.5,262.2 307.7,265.8 307.8,265.7 308.0,267.4 308.1,268.7 308.2,270.5 308.4,266.9 308.5,267.5 308.6,268.2 308.8,266.1 308.9,267.2 309.1,270.4 309.2,269.2 309.3,265.9 309.5,271.6 309.6,263.9 309.8,270.0 309.9,263.2 310.0,268.0 310.2,272.6 310.3,268.2 310.4,269.0 310.6,270.2 310.7,269.3 310.9,269.3 311.0,272.6 311.1,267.9 311.3,270.2 311.4,269.6 311.5,268.1 311.7,269.7 311.8,272.4 312.0,268.0 312.1,270.5 312.2,269.3 312.4,271.4 312.5,270.2 312.6,272.0 312.8,266.4 312.9,272.1 313.1,267.8 313.2,272.6 313.3,269.3 313.5,270.5 313.6,267.7 313.8,269.4 313.9,264.9 314.0,263.5 314.2,271.1 314.3,268.4 314.4,271.9 314.6,272.0 314.7,270.0 314.9,267.9 315.0,268.4 315.1,270.3 315.3,267.4 315.4,272.4 315.5,271.8 315.7,270.0 315.8,272.6 316.0,266.9 316.1,270.1 316.2,270.6 316.4,268.9 316.5,272.6 316.6,270.1 316.8,272.6 316.9,270.2 317.1,269.5 317.2,266.3 317.3,269.8 317.5,266.9 317.6,269.8 317.8,272.6 317.9,268.2 318.0,269.6 318.2,271.1 318.3,267.8 318.4,272.1 318.6,270.6 318.7,268.3 318.9,268.0 319.0,271.2 319.1,269.1 319.3,269.6 319.4,268.5 319.5,270.3 319.7,272.6 319.8,270.6 320.0,266.5 320.1,271.6 320.2,270.3 320.4,268.0 320.5,270.3 320.6,272.2 320.8,269.9 320.9,270.2 321.1,271.7 321.2,270.2 321.3,272.6 321.5,272.6 321.6,272.3 321.8,270.2 321.9,269.8 322.0,271.1 322.2,267.4 322.3,268.5 322.4,269.7 322.6,267.3 322.7,266.6 322.9,268.3 323.0,271.0 323.1,267.9 323.3,267.2 323.4,268.9 323.5,270.0 323.7,269.2 323.8,269.0 324.0,272.6 324.1,266.3 324.2,269.7 324.4,265.4 324.5,269.6 324.6,271.5 324.8,268.0 324.9,269.6 325.1,267.8 325.2,270.7 325.3,270.7 325.5,271.2 325.6,271.2 325.8,268.8 325.9,272.5 326.0,269.4 326.2,267.4 326.3,271.9 326.4,270.3 326.6,271.5 326.7,270.6 326.9,269.5 327.0,268.3 327.1,267.9 327.3,271.3 327.4,268.3 327.5,271.2 327.7,272.3 327.8,271.9 328.0,272.6 328.1,269.8 328.2,272.6 328.4,269.4 328.5,264.1 328.6,271.9 328.8,272.6 328.9,269.0 329.1,272.1 329.2,269.9 329.3,269.9 329.5,269.3 329.6,264.8 329.7,269.1 329.9,269.3 330.0,270.0 330.2,271.4 330.3,271.2 330.4,272.1 330.6,267.9 330.7,270.1 330.9,268.3 331.0,269.1 331.1,264.9 331.3,270.0 331.4,268.4 331.5,271.1 331.7,267.2 331.8,270.1 332.0,269.6 332.1,272.6 332.2,268.5 332.4,266.0 332.5,266.7 332.6,272.0 332.8,267.7 332.9,271.2 333.1,272.6 333.2,272.4 333.3,266.9 333.5,270.3 333.6,272.3 333.7,268.9 333.9,268.9 334.0,270.3 334.2,268.6 334.3,270.5 334.4,266.9 334.6,267.9 334.7,269.8 334.9,268.9 335.0,267.7 335.1,269.9 335.3,268.5 335.4,269.9 335.5,270.4 335.7,272.6 335.8,272.4 336.0,271.9 336.1,269.6 336.2,263.9 336.4,271.8 336.5,270.7 336.6,272.5 336.8,270.6 336.9,270.2 337.1,268.2 337.2,272.6 337.3,268.6 337.5,269.1 337.6,270.3 337.7,272.3 337.9,271.9 338.0,270.0 338.2,268.2 338.3,269.7 338.4,271.1 338.6,268.7 338.7,271.6 338.9,267.5 339.0,262.6 339.1,270.4 339.3,266.7 339.4,271.0 339.5,268.6 339.7,267.4 339.8,265.8 340.0,268.2 340.1,265.1 340.2,270.8 340.4,268.2 340.5,267.5 340.6,267.1 340.8,267.3 340.9,262.4 341.1,267.2 341.2,263.6 341.3,264.6 341.5,260.3 341.6,265.2 341.7,262.4 341.9,262.2 342.0,270.7 342.2,261.3 342.3,259.0 342.4,257.0 342.6,262.6 342.7,259.6 342.9,255.0 343.0,260.0 343.1,258.1 343.3,253.4 343.4,251.9 343.5,248.9 343.7,248.1 343.8,249.1 344.0,251.1 344.1,248.5 344.2,245.2 344.4,242.5 344.5,241.7 344.6,237.9 344.8,240.6 344.9,238.0 345.1,238.9 345.2,227.6 345.3,232.4 345.5,227.6 345.6,225.5 345.7,227.3 345.9,229.4 346.0,231.4 346.2,232.0 346.3,237.8 346.4,235.9 346.6,233.7 346.7,236.8 346.9,237.0 347.0,238.8 347.1,240.7 347.3,244.0 347.4,245.4 347.5,244.9 347.7,249.9 347.8,254.0 348.0,249.5 348.1,252.9 348.2,251.4 348.4,257.1 348.5,260.8 348.6,258.0 348.8,260.2 348.9,261.9 349.1,256.5 349.2,260.4 349.3,264.7 349.5,266.4 349.6,263.4 349.7,262.3 349.9,263.6 350.0,262.0 350.2,264.4 350.3,264.5 350.4,270.4 350.6,263.4 350.7,267.9 350.9,264.8 351.0,270.8 351.1,269.5 351.3,265.0 351.4,270.7 351.5,267.7 351.7,269.1 351.8,264.4 352.0,267.6 352.1,265.7 352.2,268.8 352.4,272.6 352.5,264.3 352.6,270.2 352.8,268.9 352.9,269.2 353.1,272.6 353.2,267.6 353.3,270.1 353.5,272.6 353.6,272.6 353.7,272.6 353.9,271.1 354.0,269.9 354.2,271.6 354.3,269.6 354.4,270.3 354.6,268.4 354.7,269.6 354.9,270.0 355.0,271.4 355.1,272.3 355.3,271.7 355.4,268.8 355.5,270.7 355.7,266.5 355.8,267.9 356.0,272.6 356.1,268.7 356.2,267.0 356.4,271.1 356.5,267.0 356.6,271.3 356.8,266.2 356.9,268.5 357.1,270.2 357.2,272.6 357.3,270.0 357.5,271.4 357.6,268.9 357.7,271.7 357.9,268.7 358.0,270.8 358.2,268.4 358.3,267.9 358.4,269.3 358.6,268.6 358.7,267.3 358.9,271.8 359.0,268.4 359.1,269.2 359.3,266.2 359.4,270.1 359.5,267.6 359.7,272.6 359.8,267.0 360.0,268.8 360.1,268.9 360.2,267.7 360.4,272.5 360.5,270.2 360.6,269.5 360.8,270.4 360.9,270.9 361.1,267.6 361.2,269.6 361.3,270.2 361.5,269.6 361.6,266.8 361.7,265.6 361.9,267.3 362.0,268.6 362.2,272.6 362.3,271.0 362.4,271.8 362.6,271.8 362.7,267.1 362.9,271.1 363.0,266.7 363.1,269.5 363.3,270.0 363.4,270.2 363.5,272.6 363.7,270.6 363.8,267.8 364.0,268.2 364.1,269.4 364.2,268.2 364.4,269.4 364.5,268.8 364.6,264.4 364.8,269.4 364.9,272.6 365.1,272.6 365.2,271.3 365.3,269.2 365.5,267.5 365.6,269.8 365.7,269.4 365.9,268.4 366.0,271.9 366.2,269.8 366.3,269.0 366.4,270.6 366.6,271.5 366.7,268.5 366.9,267.3 367.0,269.5 367.1,272.6 367.3,271.5 367.4,270.7 367.5,268.8 367.7,270.8 367.8,270.7 368.0,267.6 368.1,267.0 368.2,269.6 368.4,272.2 368.5,272.5 368.6,268.4 368.8,271.5 368.9,269.8 369.1,270.2 369.2,269.5 369.3,269.1 369.5,272.1 369.6,271.2 369.7,269.4 369.9,269.8 370.0,272.6 370.2,265.6 370.3,272.6 370.4,267.5 370.6,272.6 370.7,267.7 370.8,272.6 371.0,267.8 371.1,269.5 371.3,268.1 371.4,271.5 371.5,269.3 371.7,269.3 371.8,269.5 372.0,271.1 372.1,266.9 372.2,272.6 372.4,272.6 372.5,272.6 372.6,266.7 372.8,271.8 372.9,271.5 373.1,271.5 373.2,270.6 373.3,270.4 373.5,270.9 373.6,272.6 373.7,269.0 373.9,269.9 374.0,266.5 374.2,268.9 374.3,270.0 374.4,272.6 374.6,269.7 374.7,268.5 374.8,266.2 375.0,269.0 375.1,268.1 375.3,268.5 375.4,266.2 375.5,267.3 375.7,269.7 375.8,272.6 376.0,266.2 376.1,269.6 376.2,271.6 376.4,272.6 376.5,272.6 376.6,269.3 376.8,270.2 376.9,269.2 377.1,267.2 377.2,271.2 377.3,269.2 377.5,271.0 377.6,271.8 377.7,272.6 377.9,271.6 378.0,267.4 378.2,271.0 378.3,269.2 378.4,269.6 378.6,265.4 378.7,266.6 378.8,271.2 379.0,270.8 379.1,267.3 379.3,269.3 379.4,269.6 379.5,267.2 379.7,268.5 379.8,269.4 380.0,263.1 380.1,268.9 380.2,272.6 380.4,269.0 380.5,269.2 380.6,266.0 380.8,269.0 380.9,271.1 381.1,268.9 381.2,272.5 381.3,270.6 381.5,269.0 381.6,271.6 381.7,272.6 381.9,272.1 382.0,271.6 382.2,268.5 382.3,270.8 382.4,270.0 382.6,271.9 382.7,269.7 382.8,271.2 383.0,268.6 383.1,269.3 383.3,266.7 383.4,268.6 383.5,270.6 383.7,271.8 383.8,269.4 384.0,268.3 384.1,266.5 384.2,271.1 384.4,272.6 384.5,272.6 384.6,272.1 384.8,270.4 384.9,270.6 385.1,270.7 385.2,270.1 385.3,269.2 385.5,272.6 385.6,269.9 385.7,270.4 385.9,270.4 386.0,271.0 386.2,272.6 386.3,269.0 386.4,271.1 386.6,270.3 386.7,269.4 386.8,269.9 387.0,269.1 387.1,269.1 387.3,272.1 387.4,272.5 387.5,268.2 387.7,271.7 387.8,265.3 388.0,272.5 388.1,269.7 388.2,270.2 388.4,269.5 388.5,272.1 388.6,269.3 388.8,265.7 388.9,271.3 389.1,272.6 389.2,268.7 389.3,269.2 389.5,268.6 389.6,271.8 389.7,269.2 389.9,268.1 390.0,271.1 390.2,270.0 390.3,268.9 390.4,268.4 390.6,270.6 390.7,269.6 390.8,265.7 391.0,265.6 391.1,272.4 391.3,265.3 391.4,270.9 391.5,267.7 391.7,272.6 391.8,270.5 392.0,271.5 392.1,268.3 392.2,269.6 392.4,269.1 392.5,269.2 392.6,269.7 392.8,268.1 392.9,269.8 393.1,270.3 393.2,271.5 393.3,272.1 393.5,271.3 393.6,269.3 393.7,267.9 393.9,270.4 394.0,265.8 394.2,267.4 394.3,270.0 394.4,269.3 394.6,270.2 394.7,272.6 394.8,268.3 395.0,269.6 395.1,272.6 395.3,268.2 395.4,271.3 395.5,270.6 395.7,272.6 395.8,270.2 396.0,269.2 396.1,271.1 396.2,270.2 396.4,272.6 396.5,269.0 396.6,270.3 396.8,270.2 396.9,268.7 397.1,267.9 397.2,270.3 397.3,268.2 397.5,266.2 397.6,272.5 397.7,270.0 397.9,272.6 398.0,269.4 398.2,267.2 398.3,270.5 398.4,272.6 398.6,271.4 398.7,269.3 398.8,272.6 399.0,272.6 399.1,269.2 399.3,272.6 399.4,270.0 399.5,272.5 399.7,272.6 399.8,268.4 400.0,267.7 400.1,271.9 400.2,265.1 400.4,269.8 400.5,269.0 400.6,269.7 400.8,272.5 400.9,267.8 401.1,269.8 401.2,268.9 401.3,269.7 401.5,270.9 401.6,264.9 401.7,269.0 401.9,270.5 402.0,268.5 402.2,272.6 402.3,269.1 402.4,263.9 402.6,271.4 402.7,268.8 402.8,272.4 403.0,269.7 403.1,267.3 403.3,272.0 403.4,271.7 403.5,267.0 403.7,269.0 403.8,268.0 404.0,268.2 404.1,272.2 404.2,272.6 404.4,272.6 404.5,268.0 404.6,272.2 404.8,272.6 404.9,270.1 405.1,269.0 405.2,268.0 405.3,272.6 405.5,265.3 405.6,270.3 405.7,267.7 405.9,268.0 406.0,270.0 406.2,266.7 406.3,266.6 406.4,264.7 406.6,262.7 406.7,262.1 406.8,264.7 407.0,265.3 407.1,267.7 407.3,270.5 407.4,266.1 407.5,268.5 407.7,267.9 407.8,268.6 408.0,266.6 408.1,268.7 408.2,262.4 408.4,266.0 408.5,269.3 408.6,267.5 408.8,265.2 408.9,271.3 409.1,268.2 409.2,270.0 409.3,268.7 409.5,270.1 409.6,268.6 409.7,268.1 409.9,267.8 410.0,272.6 410.2,267.7 410.3,269.3 410.4,270.8 410.6,269.5 410.7,265.8 410.8,269.8 411.0,271.4 411.1,267.8 411.3,269.8 411.4,267.8 411.5,268.7 411.7,266.2 411.8,270.6 412.0,270.0 412.1,266.7 412.2,265.2 412.4,268.5 412.5,266.1 412.6,267.7 412.8,268.6 412.9,272.3 413.1,263.6 413.2,265.6 413.3,272.6 413.5,266.1 413.6,269.2 413.7,270.0 413.9,268.8 414.0,265.6 414.2,267.2 414.3,267.4 414.4,267.1 414.6,267.5 414.7,265.2 414.8,271.1 415.0,269.3 415.1,266.4 415.3,268.7 415.4,265.6 415.5,267.0 415.7,265.3 415.8,266.8 415.9,265.1 416.1,266.7 416.2,265.2 416.4,267.9 416.5,271.3 416.6,267.4 416.8,267.5 416.9,268.9 417.1,265.6 417.2,266.8 417.3,264.6 417.5,269.1 417.6,269.3 417.7,267.3 417.9,265.2 418.0,270.3 418.2,267.7 418.3,268.9 418.4,269.6 418.6,266.9 418.7,267.0 418.8,267.5 419.0,270.5 419.1,269.1 419.3,272.6 419.4,267.9 419.5,272.0 419.7,269.7 419.8,267.2 419.9,269.6 420.1,268.7 420.2,270.5 420.4,263.1 420.5,271.6 420.6,270.1 420.8,269.0 420.9,262.7 421.1,269.8 421.2,268.2 421.3,266.4 421.5,272.6 421.6,265.9 421.7,267.0 421.9,264.1 422.0,263.9 422.2,266.1 422.3,264.5 422.4,268.4 422.6,269.4 422.7,267.1 422.8,265.9 423.0,267.0 423.1,265.1 423.3,264.5 423.4,261.7 423.5,266.2 423.7,266.9 423.8,264.8 423.9,265.5 424.1,264.8 424.2,262.4 424.4,268.4 424.5,264.9 424.6,263.7 424.8,264.0 424.9,270.6 425.1,268.0 425.2,264.5 425.3,267.6 425.5,266.8 425.6,268.2 425.7,265.1 425.9,267.6 426.0,268.9 426.2,268.2 426.3,265.3 426.4,267.7 426.6,272.3 426.7,272.6 426.8,267.3 427.0,272.6 427.1,268.7 427.3,270.7 427.4,268.7 427.5,270.9 427.7,272.6 427.8,266.3 427.9,269.5 428.1,269.9 428.2,266.1 428.4,268.0 428.5,267.1 428.6,270.1 428.8,269.3 428.9,268.6 429.1,271.0 429.2,267.8 429.3,268.7 429.5,270.4 429.6,270.6 429.7,267.8 429.9,270.1 430.0,268.8 430.2,269.1 430.3,270.1 430.4,272.6 430.6,269.0 430.7,267.9 430.8,271.1 431.0,271.2 431.1,267.8 431.3,272.3 431.4,267.0 431.5,268.5 431.7,266.7 431.8,269.8 431.9,269.5 432.1,269.1 432.2,272.6 432.4,271.6 432.5,267.3 432.6,271.2 432.8,271.8 432.9,269.0 433.1,266.7 433.2,269.8 433.3,270.3 433.5,269.7 433.6,268.7 433.7,272.6 433.9,268.9 434.0,268.8 434.2,267.4 434.3,267.3 434.4,268.2 434.6,265.2 434.7,269.6 434.8,269.9 435.0,266.1 435.1,269.4 435.3,270.9 435.4,270.8 435.5,269.6 435.7,272.6 435.8,267.4 435.9,268.9 436.1,266.8 436.2,271.8 436.4,270.4 436.5,271.0 436.6,268.4 436.8,268.7 436.9,267.9 437.1,268.0 437.2,271.9 437.3,269.0 437.5,269.4 437.6,269.6 437.7,268.4 437.9,272.6 438.0,271.0 438.2,270.1 438.3,271.4 438.4,272.0 438.6,267.5 438.7,267.6 438.8,265.8 439.0,271.5 439.1,272.6 439.3,268.0 439.4,270.2 439.5,271.8 439.7,268.3 439.8,269.6 439.9,272.6 440.1,269.2 440.2,272.6 440.4,268.1 440.5,272.0 440.6,272.6 440.8,267.6 440.9,267.0 441.1,269.6 441.2,271.5 441.3,267.6 441.5,268.5 441.6,268.2 441.7,269.5 441.9,271.8 442.0,269.4 442.2,265.1 442.3,269.6 442.4,268.2 442.6,267.9 442.7,265.5 442.8,266.8 443.0,268.2 443.1,262.8 443.3,266.4 443.4,265.9 443.5,267.8 443.7,269.5 443.8,264.7 443.9,266.3 444.1,264.4 444.2,270.0 444.4,260.5 444.5,263.9 444.6,261.7 444.8,265.8 444.9,262.5 445.1,261.9 445.2,259.1 445.3,259.3 445.5,265.7 445.6,259.6 445.7,259.2 445.9,259.6 446.0,257.6 446.2,256.0 446.3,254.3 446.4,258.9 446.6,257.4 446.7,254.3 446.8,251.9 447.0,255.2 447.1,251.8 447.3,254.2 447.4,249.8 447.5,249.4 447.7,246.6 447.8,243.2 447.9,247.9 448.1,243.6 448.2,247.9 448.4,241.6 448.5,236.4 448.6,244.4 448.8,240.3 448.9,246.6 449.1,235.1 449.2,228.7 449.3,236.1 449.5,230.9 449.6,226.1 449.7,230.5 449.9,225.4 450.0,225.8 450.2,221.9 450.3,216.7 450.4,209.5 450.6,206.0 450.7,200.1 450.8,192.2 451.0,177.9 451.1,168.0 451.3,155.1 451.4,152.4 451.5,158.7 451.7,174.7 451.8,176.6 451.9,190.1 452.1,195.7 452.2,209.6 452.4,217.1 452.5,219.1 452.6,218.2 452.8,225.0 452.9,223.2 453.1,223.3 453.2,230.1 453.3,227.7 453.5,238.4 453.6,236.8 453.7,236.1 453.9,236.4 454.0,240.5 454.2,238.4 454.3,235.2 454.4,236.6 454.6,238.5 454.7,243.0 454.8,237.1 455.0,239.8 455.1,245.0 455.3,240.0 455.4,244.1 455.5,242.1 455.7,242.9 455.8,242.7 455.9,240.5 456.1,238.1 456.2,244.3 456.4,245.4 456.5,246.3 456.6,245.7 456.8,246.3 456.9,252.5 457.0,249.8 457.2,245.1 457.3,250.2 457.5,250.5 457.6,254.5 457.7,249.9 457.9,254.9 458.0,258.2 458.2,260.2 458.3,258.0 458.4,255.6 458.6,262.3 458.7,263.9 458.8,267.7 459.0,261.1 459.1,265.9 459.3,265.7 459.4,266.9 459.5,267.0 459.7,263.5" fill="none" stroke="#000" stroke-width="0.8" stroke-linejoin="round"/>
<line x1="46.8" y1="292" x2="46.8" y2="424.5" stroke="#111" stroke-width="1.3"/>
<line x1="46.8" y1="421.4" x2="460" y2="421.4" stroke="#111" stroke-width="1.1"/>
<line x1="39.4" y1="420.9" x2="46.8" y2="420.9" stroke="#111" stroke-width="0.8"/>
<line x1="42.2" y1="417.31" x2="46.8" y2="417.31" stroke="#111" stroke-width="0.8"/>
<line x1="39.4" y1="413.72" x2="46.8" y2="413.72" stroke="#111" stroke-width="0.8"/>
<line x1="42.2" y1="410.13" x2="46.8" y2="410.13" stroke="#111" stroke-width="0.8"/>
<line x1="39.4" y1="406.54" x2="46.8" y2="406.54" stroke="#111" stroke-width="0.8"/>
<line x1="42.2" y1="402.95" x2="46.8" y2="402.95" stroke="#111" stroke-width="0.8"/>
<line x1="39.4" y1="399.36" x2="46.8" y2="399.36" stroke="#111" stroke-width="0.8"/>
<line x1="42.2" y1="395.77" x2="46.8" y2="395.77" stroke="#111" stroke-width="0.8"/>
<line x1="39.4" y1="392.18" x2="46.8" y2="392.18" stroke="#111" stroke-width="0.8"/>
<line x1="42.2" y1="388.59" x2="46.8" y2="388.59" stroke="#111" stroke-width="0.8"/>
<line x1="39.4" y1="385" x2="46.8" y2="385" stroke="#111" stroke-width="0.8"/>
<line x1="42.2" y1="381.41" x2="46.8" y2="381.41" stroke="#111" stroke-width="0.8"/>
<line x1="39.4" y1="377.82" x2="46.8" y2="377.82" stroke="#111" stroke-width="0.8"/>
<line x1="42.2" y1="374.23" x2="46.8" y2="374.23" stroke="#111" stroke-width="0.8"/>
<line x1="39.4" y1="370.64" x2="46.8" y2="370.64" stroke="#111" stroke-width="0.8"/>
<line x1="42.2" y1="367.05" x2="46.8" y2="367.05" stroke="#111" stroke-width="0.8"/>
<line x1="39.4" y1="363.46" x2="46.8" y2="363.46" stroke="#111" stroke-width="0.8"/>
<line x1="42.2" y1="359.87" x2="46.8" y2="359.87" stroke="#111" stroke-width="0.8"/>
<line x1="39.4" y1="356.28" x2="46.8" y2="356.28" stroke="#111" stroke-width="0.8"/>
<line x1="42.2" y1="352.69" x2="46.8" y2="352.69" stroke="#111" stroke-width="0.8"/>
<line x1="39.4" y1="349.1" x2="46.8" y2="349.1" stroke="#111" stroke-width="0.8"/>
<line x1="42.2" y1="345.51" x2="46.8" y2="345.51" stroke="#111" stroke-width="0.8"/>
<line x1="39.4" y1="341.92" x2="46.8" y2="341.92" stroke="#111" stroke-width="0.8"/>
<line x1="42.2" y1="338.33" x2="46.8" y2="338.33" stroke="#111" stroke-width="0.8"/>
<line x1="39.4" y1="334.74" x2="46.8" y2="334.74" stroke="#111" stroke-width="0.8"/>
<line x1="42.2" y1="331.15" x2="46.8" y2="331.15" stroke="#111" stroke-width="0.8"/>
<line x1="39.4" y1="327.56" x2="46.8" y2="327.56" stroke="#111" stroke-width="0.8"/>
<line x1="42.2" y1="323.97" x2="46.8" y2="323.97" stroke="#111" stroke-width="0.8"/>
<line x1="39.4" y1="320.38" x2="46.8" y2="320.38" stroke="#111" stroke-width="0.8"/>
<line x1="42.2" y1="316.79" x2="46.8" y2="316.79" stroke="#111" stroke-width="0.8"/>
<line x1="39.4" y1="313.2" x2="46.8" y2="313.2" stroke="#111" stroke-width="0.8"/>
<line x1="42.2" y1="309.61" x2="46.8" y2="309.61" stroke="#111" stroke-width="0.8"/>
<line x1="39.4" y1="306.02" x2="46.8" y2="306.02" stroke="#111" stroke-width="0.8"/>
<line x1="42.2" y1="302.43" x2="46.8" y2="302.43" stroke="#111" stroke-width="0.8"/>
<line x1="39.4" y1="298.84" x2="46.8" y2="298.84" stroke="#111" stroke-width="0.8"/>
<line x1="42.2" y1="295.25" x2="46.8" y2="295.25" stroke="#111" stroke-width="0.8"/>
<text transform="translate(30.6,422.3) scale(0.7,1)" text-anchor="middle" font-family="Liberation Sans, sans-serif" font-size="10.0" fill="#3a3a3a" stroke="#3a3a3a" stroke-width="0.2">0</text>
<text transform="translate(30.6,407.94) scale(0.7,1)" text-anchor="middle" font-family="Liberation Sans, sans-serif" font-size="10.0" fill="#3a3a3a" stroke="#3a3a3a" stroke-width="0.2">20</text>
<text transform="translate(30.6,393.58) scale(0.7,1)" text-anchor="middle" font-family="Liberation Sans, sans-serif" font-size="10.0" fill="#3a3a3a" stroke="#3a3a3a" stroke-width="0.2">40</text>
<text transform="translate(30.6,379.22) scale(0.7,1)" text-anchor="middle" font-family="Liberation Sans, sans-serif" font-size="10.0" fill="#3a3a3a" stroke="#3a3a3a" stroke-width="0.2">60</text>
<text transform="translate(30.6,364.86) scale(0.7,1)" text-anchor="middle" font-family="Liberation Sans, sans-serif" font-size="10.0" fill="#3a3a3a" stroke="#3a3a3a" stroke-width="0.2">80</text>
<text transform="translate(30.6,350.5) scale(0.7,1)" text-anchor="middle" font-family="Liberation Sans, sans-serif" font-size="10.0" fill="#3a3a3a" stroke="#3a3a3a" stroke-width="0.2">100</text>
<text transform="translate(30.6,336.14) scale(0.7,1)" text-anchor="middle" font-family="Liberation Sans, sans-serif" font-size="10.0" fill="#3a3a3a" stroke="#3a3a3a" stroke-width="0.2">120</text>
<text transform="translate(30.6,321.78) scale(0.7,1)" text-anchor="middle" font-family="Liberation Sans, sans-serif" font-size="10.0" fill="#3a3a3a" stroke="#3a3a3a" stroke-width="0.2">140</text>
<text transform="translate(30.6,307.42) scale(0.7,1)" text-anchor="middle" font-family="Liberation Sans, sans-serif" font-size="10.0" fill="#3a3a3a" stroke="#3a3a3a" stroke-width="0.2">160</text>
<line x1="52.96" y1="421.4" x2="52.96" y2="423.9" stroke="#111" stroke-width="0.8"/>
<line x1="61.26" y1="421.4" x2="61.26" y2="423.9" stroke="#111" stroke-width="0.8"/>
<line x1="69.55" y1="421.4" x2="69.55" y2="423.9" stroke="#111" stroke-width="0.8"/>
<line x1="77.84" y1="421.4" x2="77.84" y2="423.9" stroke="#111" stroke-width="0.8"/>
<line x1="86.13" y1="421.4" x2="86.13" y2="424.8" stroke="#111" stroke-width="0.8"/>
<line x1="94.43" y1="421.4" x2="94.43" y2="423.9" stroke="#111" stroke-width="0.8"/>
<line x1="102.72" y1="421.4" x2="102.72" y2="423.9" stroke="#111" stroke-width="0.8"/>
<line x1="111.01" y1="421.4" x2="111.01" y2="423.9" stroke="#111" stroke-width="0.8"/>
<line x1="119.31" y1="421.4" x2="119.31" y2="423.9" stroke="#111" stroke-width="0.8"/>
<line x1="127.6" y1="421.4" x2="127.6" y2="425.6" stroke="#111" stroke-width="0.8"/>
<line x1="135.89" y1="421.4" x2="135.89" y2="423.9" stroke="#111" stroke-width="0.8"/>
<line x1="144.19" y1="421.4" x2="144.19" y2="423.9" stroke="#111" stroke-width="0.8"/>
<line x1="152.48" y1="421.4" x2="152.48" y2="423.9" stroke="#111" stroke-width="0.8"/>
<line x1="160.77" y1="421.4" x2="160.77" y2="423.9" stroke="#111" stroke-width="0.8"/>
<line x1="169.06" y1="421.4" x2="169.06" y2="424.8" stroke="#111" stroke-width="0.8"/>
<line x1="177.36" y1="421.4" x2="177.36" y2="423.9" stroke="#111" stroke-width="0.8"/>
<line x1="185.65" y1="421.4" x2="185.65" y2="423.9" stroke="#111" stroke-width="0.8"/>
<line x1="193.94" y1="421.4" x2="193.94" y2="423.9" stroke="#111" stroke-width="0.8"/>
<line x1="202.24" y1="421.4" x2="202.24" y2="423.9" stroke="#111" stroke-width="0.8"/>
<line x1="210.53" y1="421.4" x2="210.53" y2="425.6" stroke="#111" stroke-width="0.8"/>
<line x1="218.82" y1="421.4" x2="218.82" y2="423.9" stroke="#111" stroke-width="0.8"/>
<line x1="227.12" y1="421.4" x2="227.12" y2="423.9" stroke="#111" stroke-width="0.8"/>
<line x1="235.41" y1="421.4" x2="235.41" y2="423.9" stroke="#111" stroke-width="0.8"/>
<line x1="243.7" y1="421.4" x2="243.7" y2="423.9" stroke="#111" stroke-width="0.8"/>
<line x1="251.99" y1="421.4" x2="251.99" y2="424.8" stroke="#111" stroke-width="0.8"/>
<line x1="260.29" y1="421.4" x2="260.29" y2="423.9" stroke="#111" stroke-width="0.8"/>
<line x1="268.58" y1="421.4" x2="268.58" y2="423.9" stroke="#111" stroke-width="0.8"/>
<line x1="276.87" y1="421.4" x2="276.87" y2="423.9" stroke="#111" stroke-width="0.8"/>
<line x1="285.17" y1="421.4" x2="285.17" y2="423.9" stroke="#111" stroke-width="0.8"/>
<line x1="293.46" y1="421.4" x2="293.46" y2="425.6" stroke="#111" stroke-width="0.8"/>
<line x1="301.75" y1="421.4" x2="301.75" y2="423.9" stroke="#111" stroke-width="0.8"/>
<line x1="310.05" y1="421.4" x2="310.05" y2="423.9" stroke="#111" stroke-width="0.8"/>
<line x1="318.34" y1="421.4" x2="318.34" y2="423.9" stroke="#111" stroke-width="0.8"/>
<line x1="326.63" y1="421.4" x2="326.63" y2="423.9" stroke="#111" stroke-width="0.8"/>
<line x1="334.92" y1="421.4" x2="334.92" y2="424.8" stroke="#111" stroke-width="0.8"/>
<line x1="343.22" y1="421.4" x2="343.22" y2="423.9" stroke="#111" stroke-width="0.8"/>
<line x1="351.51" y1="421.4" x2="351.51" y2="423.9" stroke="#111" stroke-width="0.8"/>
<line x1="359.8" y1="421.4" x2="359.8" y2="423.9" stroke="#111" stroke-width="0.8"/>
<line x1="368.1" y1="421.4" x2="368.1" y2="423.9" stroke="#111" stroke-width="0.8"/>
<line x1="376.39" y1="421.4" x2="376.39" y2="425.6" stroke="#111" stroke-width="0.8"/>
<line x1="384.68" y1="421.4" x2="384.68" y2="423.9" stroke="#111" stroke-width="0.8"/>
<line x1="392.98" y1="421.4" x2="392.98" y2="423.9" stroke="#111" stroke-width="0.8"/>
<line x1="401.27" y1="421.4" x2="401.27" y2="423.9" stroke="#111" stroke-width="0.8"/>
<line x1="409.56" y1="421.4" x2="409.56" y2="423.9" stroke="#111" stroke-width="0.8"/>
<line x1="417.86" y1="421.4" x2="417.86" y2="424.8" stroke="#111" stroke-width="0.8"/>
<line x1="426.15" y1="421.4" x2="426.15" y2="423.9" stroke="#111" stroke-width="0.8"/>
<line x1="434.44" y1="421.4" x2="434.44" y2="423.9" stroke="#111" stroke-width="0.8"/>
<line x1="442.73" y1="421.4" x2="442.73" y2="423.9" stroke="#111" stroke-width="0.8"/>
<line x1="451.03" y1="421.4" x2="451.03" y2="423.9" stroke="#111" stroke-width="0.8"/>
<line x1="459.32" y1="421.4" x2="459.32" y2="425.6" stroke="#111" stroke-width="0.8"/>
<text transform="translate(44.67,431.8) scale(0.7,1)" text-anchor="middle" font-family="Liberation Sans, sans-serif" font-size="10.0" fill="#3a3a3a" stroke="#3a3a3a" stroke-width="0.2">30</text>
<text transform="translate(127.6,431.8) scale(0.7,1)" text-anchor="middle" font-family="Liberation Sans, sans-serif" font-size="10.0" fill="#3a3a3a" stroke="#3a3a3a" stroke-width="0.2">40</text>
<text transform="translate(210.53,431.8) scale(0.7,1)" text-anchor="middle" font-family="Liberation Sans, sans-serif" font-size="10.0" fill="#3a3a3a" stroke="#3a3a3a" stroke-width="0.2">50</text>
<text transform="translate(293.46,431.8) scale(0.7,1)" text-anchor="middle" font-family="Liberation Sans, sans-serif" font-size="10.0" fill="#3a3a3a" stroke="#3a3a3a" stroke-width="0.2">60</text>
<text transform="translate(376.39,431.8) scale(0.7,1)" text-anchor="middle" font-family="Liberation Sans, sans-serif" font-size="10.0" fill="#3a3a3a" stroke="#3a3a3a" stroke-width="0.2">70</text>
<text transform="translate(457.9,431.8) scale(0.7,1)" text-anchor="middle" font-family="Liberation Sans, sans-serif" font-size="10.0" fill="#3a3a3a" stroke="#3a3a3a" stroke-width="0.2">80</text>
<polyline points="46.3,410.2 46.5,417.1 46.7,409.3 46.8,418.5 47.0,414.9 47.2,417.5 47.3,403.2 47.5,418.5 47.7,413.9 47.8,405.9 48.0,410.3 48.2,415.3 48.3,420.3 48.5,414.4 48.7,417.5 48.8,420.9 49.0,408.3 49.1,417.6 49.3,417.6 49.5,416.7 49.6,417.6 49.8,414.3 50.0,417.4 50.1,416.5 50.3,416.5 50.5,418.5 50.6,411.6 50.8,417.0 51.0,417.6 51.1,420.9 51.3,409.3 51.5,417.0 51.6,417.8 51.8,420.4 52.0,418.0 52.1,417.8 52.3,412.1 52.5,417.6 52.6,416.9 52.8,414.0 53.0,417.6 53.1,414.7 53.3,414.7 53.5,412.6 53.6,419.0 53.8,416.7 54.0,416.8 54.1,410.6 54.3,420.9 54.5,408.8 54.6,411.5 54.8,413.1 55.0,420.5 55.1,409.2 55.3,417.2 55.5,418.0 55.6,418.1 55.8,410.4 55.9,420.9 56.1,419.4 56.3,415.3 56.4,420.2 56.6,420.1 56.8,416.6 56.9,406.7 57.1,414.3 57.3,420.9 57.4,420.6 57.6,414.1 57.8,412.8 57.9,407.1 58.1,408.6 58.3,416.7 58.4,420.1 58.6,417.5 58.8,420.0 58.9,416.3 59.1,416.0 59.3,416.9 59.4,420.9 59.6,420.3 59.8,413.5 59.9,416.6 60.1,417.5 60.3,417.8 60.4,413.5 60.6,415.2 60.8,416.9 60.9,418.2 61.1,410.1 61.3,417.5 61.4,419.8 61.6,402.8 61.8,417.6 61.9,413.5 62.1,417.9 62.3,420.5 62.4,414.6 62.6,414.1 62.7,417.1 62.9,411.3 63.1,418.5 63.2,420.9 63.4,394.5 63.6,409.4 63.7,417.2 63.9,412.8 64.1,412.9 64.2,417.8 64.4,414.6 64.6,416.2 64.7,417.8 64.9,409.5 65.1,415.0 65.2,403.0 65.4,418.4 65.6,405.9 65.7,416.6 65.9,416.9 66.1,405.8 66.2,417.7 66.4,406.1 66.6,406.0 66.7,403.7 66.9,402.4 67.1,409.8 67.2,409.7 67.4,413.9 67.6,417.3 67.7,409.7 67.9,420.7 68.1,406.0 68.2,414.8 68.4,416.4 68.6,418.0 68.7,416.3 68.9,420.9 69.1,417.8 69.2,402.7 69.4,416.9 69.5,406.9 69.7,410.9 69.9,420.3 70.0,412.8 70.2,418.1 70.4,420.9 70.5,414.2 70.7,417.4 70.9,415.2 71.0,414.6 71.2,413.1 71.4,414.4 71.5,418.0 71.7,412.4 71.9,412.7 72.0,415.8 72.2,413.7 72.4,410.2 72.5,420.9 72.7,420.9 72.9,419.1 73.0,410.2 73.2,418.0 73.4,402.4 73.5,416.4 73.7,407.8 73.9,411.3 74.0,413.5 74.2,412.4 74.4,419.5 74.5,420.9 74.7,420.8 74.9,419.6 75.0,414.3 75.2,420.9 75.4,419.7 75.5,414.3 75.7,414.7 75.9,419.4 76.0,410.4 76.2,420.9 76.3,413.1 76.5,419.5 76.7,409.4 76.8,413.4 77.0,409.7 77.2,416.8 77.3,409.8 77.5,415.1 77.7,406.2 77.8,418.4 78.0,414.3 78.2,420.7 78.3,420.9 78.5,420.5 78.7,420.8 78.8,420.4 79.0,412.0 79.2,414.6 79.3,409.1 79.5,419.2 79.7,414.0 79.8,417.5 80.0,413.7 80.2,420.4 80.3,420.9 80.5,413.9 80.7,406.5 80.8,413.6 81.0,412.4 81.2,414.1 81.3,416.5 81.5,409.3 81.7,417.0 81.8,417.1 82.0,417.9 82.2,407.1 82.3,409.7 82.5,413.4 82.7,420.9 82.8,419.8 83.0,420.7 83.1,410.0 83.3,410.2 83.5,416.3 83.6,416.7 83.8,402.6 84.0,403.9 84.1,415.7 84.3,411.2 84.5,402.5 84.6,411.1 84.8,404.2 85.0,420.9 85.1,409.9 85.3,412.9 85.5,402.1 85.6,408.8 85.8,405.4 86.0,407.2 86.1,403.1 86.3,403.4 86.5,401.8 86.6,408.0 86.8,400.7 87.0,405.0 87.1,409.8 87.3,398.8 87.5,394.9 87.6,391.7 87.8,392.3 88.0,398.8 88.1,397.6 88.3,390.1 88.5,397.1 88.6,382.5 88.8,389.9 89.0,385.3 89.1,380.8 89.3,366.3 89.5,384.2 89.6,391.6 89.8,381.5 89.9,361.0 90.1,367.4 90.3,366.7 90.4,374.1 90.6,370.2 90.8,344.3 90.9,350.8 91.1,341.1 91.3,332.4 91.4,323.8 91.6,308.5 91.8,308.5 91.9,315.2 92.1,311.0 92.3,320.4 92.4,334.6 92.6,351.8 92.8,344.1 92.9,362.4 93.1,369.8 93.3,381.4 93.4,372.4 93.6,378.0 93.8,376.5 93.9,379.5 94.1,384.3 94.3,396.5 94.4,391.5 94.6,386.4 94.8,392.6 94.9,394.7 95.1,403.4 95.3,399.6 95.4,398.9 95.6,392.5 95.8,408.0 95.9,380.6 96.1,409.5 96.3,396.4 96.4,402.7 96.6,405.3 96.8,411.6 96.9,407.0 97.1,400.1 97.2,404.0 97.4,416.2 97.6,397.5 97.7,406.4 97.9,410.6 98.1,409.5 98.2,407.2 98.4,402.4 98.6,409.2 98.7,420.2 98.9,416.1 99.1,417.6 99.2,398.3 99.4,414.2 99.6,411.5 99.7,413.8 99.9,412.0 100.1,407.4 100.2,405.0 100.4,411.3 100.6,409.3 100.7,416.9 100.9,410.5 101.1,412.1 101.2,416.7 101.4,416.7 101.6,416.9 101.7,416.5 101.9,418.0 102.1,401.2 102.2,412.9 102.4,410.8 102.6,415.4 102.7,413.7 102.9,402.5 103.1,413.0 103.2,418.0 103.4,420.9 103.6,417.4 103.7,411.1 103.9,403.1 104.0,416.1 104.2,418.3 104.4,413.6 104.5,414.2 104.7,405.8 104.9,420.9 105.0,411.1 105.2,420.9 105.4,415.6 105.5,400.2 105.7,415.2 105.9,414.6 106.0,413.1 106.2,416.5 106.4,413.8 106.5,406.4 106.7,418.5 106.9,413.4 107.0,406.7 107.2,414.3 107.4,412.9 107.5,409.3 107.7,407.0 107.9,410.0 108.0,408.2 108.2,418.3 108.4,401.9 108.5,414.7 108.7,418.2 108.9,398.4 109.0,412.2 109.2,410.8 109.4,406.0 109.5,414.0 109.7,410.3 109.9,410.0 110.0,404.9 110.2,416.1 110.4,414.5 110.5,407.1 110.7,410.0 110.8,408.4 111.0,401.9 111.2,398.1 111.3,410.9 111.5,406.3 111.7,402.4 111.8,406.5 112.0,400.0 112.2,397.6 112.3,404.1 112.5,386.3 112.7,399.2 112.8,385.4 113.0,392.1 113.2,381.9 113.3,390.4 113.5,384.5 113.7,383.9 113.8,385.3 114.0,391.5 114.2,387.7 114.3,384.8 114.5,380.2 114.7,379.6 114.8,385.7 115.0,373.4 115.2,380.2 115.3,374.3 115.5,365.6 115.7,384.8 115.8,383.5 116.0,367.2 116.2,367.5 116.3,363.7 116.5,352.9 116.7,352.2 116.8,332.3 117.0,327.5 117.2,342.7 117.3,332.3 117.5,323.5 117.6,318.7 117.8,305.9 118.0,303.8 118.1,307.3 118.3,320.3 118.5,315.7 118.6,333.7 118.8,332.3 119.0,346.5 119.1,348.6 119.3,361.2 119.5,356.8 119.6,356.4 119.8,352.7 120.0,363.0 120.1,372.6 120.3,362.3 120.5,360.8 120.6,368.4 120.8,378.5 121.0,382.9 121.1,376.9 121.3,380.6 121.5,382.1 121.6,390.8 121.8,374.4 122.0,389.6 122.1,375.0 122.3,388.2 122.5,386.8 122.6,390.0 122.8,388.1 123.0,392.5 123.1,388.0 123.3,396.7 123.5,396.1 123.6,390.1 123.8,391.8 124.0,388.3 124.1,394.9 124.3,382.0 124.4,405.0 124.6,402.7 124.8,402.2 124.9,403.7 125.1,404.4 125.3,402.3 125.4,405.8 125.6,411.3 125.8,408.2 125.9,414.9 126.1,412.5 126.3,417.2 126.4,413.1 126.6,411.4 126.8,412.3 126.9,414.4 127.1,414.4 127.3,408.8 127.4,411.4 127.6,397.6 127.8,399.3 127.9,406.7 128.1,412.8 128.3,403.0 128.4,418.7 128.6,410.0 128.8,413.9 128.9,405.4 129.1,417.0 129.3,418.1 129.4,420.9 129.6,413.7 129.8,410.5 129.9,417.1 130.1,409.9 130.3,418.3 130.4,402.7 130.6,405.8 130.8,420.9 130.9,418.5 131.1,420.2 131.2,413.2 131.4,409.3 131.6,408.6 131.7,413.8 131.9,418.2 132.1,413.5 132.2,420.9 132.4,409.8 132.6,420.2 132.7,410.0 132.9,413.2 133.1,417.2 133.2,402.7 133.4,418.2 133.6,419.4 133.7,420.9 133.9,420.9 134.1,414.3 134.2,420.9 134.4,414.0 134.6,419.0 134.7,415.9 134.9,416.9 135.1,413.9 135.2,420.9 135.4,412.8 135.6,413.0 135.7,417.0 135.9,412.9 136.1,420.9 136.2,413.0 136.4,420.9 136.6,414.4 136.7,418.2 136.9,417.2 137.1,415.2 137.2,417.0 137.4,420.9 137.6,420.3 137.7,415.2 137.9,420.6 138.0,417.7 138.2,420.9 138.4,416.3 138.5,412.8 138.7,414.5 138.9,414.0 139.0,412.5 139.2,420.8 139.4,420.9 139.5,414.6 139.7,414.4 139.9,416.8 140.0,416.6 140.2,414.1 140.4,418.3 140.5,418.1 140.7,411.7 140.9,417.0 141.0,420.9 141.2,412.9 141.4,408.3 141.5,412.6 141.7,417.7 141.9,414.1 142.0,420.9 142.2,420.9 142.4,419.4 142.5,406.4 142.7,415.1 142.9,420.4 143.0,415.6 143.2,414.0 143.4,410.2 143.5,418.0 143.7,417.9 143.9,420.4 144.0,420.9 144.2,416.5 144.4,419.0 144.5,420.9 144.7,416.0 144.8,418.3 145.0,418.3 145.2,417.4 145.3,420.9 145.5,417.2 145.7,416.6 145.8,406.2 146.0,420.9 146.2,414.2 146.3,413.7 146.5,416.7 146.7,407.4 146.8,417.8 147.0,411.2 147.2,420.9 147.3,420.9 147.5,414.3 147.7,411.2 147.8,418.1 148.0,413.3 148.2,414.3 148.3,413.1 148.5,420.9 148.7,410.9 148.8,409.6 149.0,414.5 149.2,409.3 149.3,420.9 149.5,417.4 149.7,417.9 149.8,420.9 150.0,420.8 150.2,419.2 150.3,415.6 150.5,420.9 150.7,411.7 150.8,416.7 151.0,410.0 151.2,415.2 151.3,419.5 151.5,416.8 151.6,402.0 151.8,418.8 152.0,411.8 152.1,417.8 152.3,406.2 152.5,413.1 152.6,412.7 152.8,407.4 153.0,418.6 153.1,413.2 153.3,414.7 153.5,417.5 153.6,415.6 153.8,420.9 154.0,420.7 154.1,417.2 154.3,417.4 154.5,417.1 154.6,409.8 154.8,413.8 155.0,416.1 155.1,416.6 155.3,420.9 155.5,408.9 155.6,413.7 155.8,413.9 156.0,418.1 156.1,409.5 156.3,410.2 156.5,407.3 156.6,418.1 156.8,416.4 157.0,420.9 157.1,417.7 157.3,408.0 157.5,413.5 157.6,413.2 157.8,413.7 158.0,417.4 158.1,418.2 158.3,420.3 158.4,417.1 158.6,403.7 158.8,413.9 158.9,415.8 159.1,413.5 159.3,417.3 159.4,414.3 159.6,407.1 159.8,413.3 159.9,416.6 160.1,417.2 160.3,405.8 160.4,420.9 160.6,406.9 160.8,402.7 160.9,416.4 161.1,417.8 161.3,420.1 161.4,414.7 161.6,412.8 161.8,412.7 161.9,414.0 162.1,420.6 162.3,420.3 162.4,420.9 162.6,414.1 162.8,417.7 162.9,416.9 163.1,420.1 163.3,418.1 163.4,410.8 163.6,416.8 163.8,410.7 163.9,417.5 164.1,420.2 164.3,413.7 164.4,412.8 164.6,420.8 164.8,417.4 164.9,420.9 165.1,419.3 165.3,414.1 165.4,418.9 165.6,420.2 165.7,413.1 165.9,413.4 166.1,412.8 166.2,419.1 166.4,418.8 166.6,413.9 166.7,420.2 166.9,417.5 167.1,413.8 167.2,416.4 167.4,413.3 167.6,418.5 167.7,416.1 167.9,418.0 168.1,417.1 168.2,413.3 168.4,418.8 168.6,408.7 168.7,402.4 168.9,420.6 169.1,416.7 169.2,417.5 169.4,416.7 169.6,416.8 169.7,412.0 169.9,420.9 170.1,416.5 170.2,407.5 170.4,420.5 170.6,420.9 170.7,416.7 170.9,420.9 171.1,413.6 171.2,420.9 171.4,420.7 171.6,417.1 171.7,420.9 171.9,420.6 172.1,416.9 172.2,420.9 172.4,419.7 172.5,413.7 172.7,417.9 172.9,416.8 173.0,418.6 173.2,416.4 173.4,417.6 173.5,413.7 173.7,410.1 173.9,406.2 174.0,417.9 174.2,407.0 174.4,409.9 174.5,414.3 174.7,413.8 174.9,417.5 175.0,420.9 175.2,414.4 175.4,418.1 175.5,420.9 175.7,418.5 175.9,418.4 176.0,415.1 176.2,410.2 176.4,416.6 176.5,413.6 176.7,416.8 176.9,410.1 177.0,416.5 177.2,417.2 177.4,420.7 177.5,420.9 177.7,416.5 177.9,417.5 178.0,413.8 178.2,417.0 178.4,417.2 178.5,420.9 178.7,416.3 178.9,418.1 179.0,420.9 179.2,417.6 179.3,419.3 179.5,406.7 179.7,416.3 179.8,419.6 180.0,418.3 180.2,417.0 180.3,414.8 180.5,420.7 180.7,412.6 180.8,420.9 181.0,419.6 181.2,413.5 181.3,418.7 181.5,417.8 181.7,420.9 181.8,419.8 182.0,416.5 182.2,416.8 182.3,410.8 182.5,410.0 182.7,414.1 182.8,412.4 183.0,416.8 183.2,420.9 183.3,414.4 183.5,418.5 183.7,417.8 183.8,420.9 184.0,416.9 184.2,416.4 184.3,414.1 184.5,412.6 184.7,419.0 184.8,417.3 185.0,413.1 185.2,410.5 185.3,409.9 185.5,416.6 185.7,410.5 185.8,420.7 186.0,419.9 186.1,418.3 186.3,412.7 186.5,417.3 186.6,420.9 186.8,413.3 187.0,420.3 187.1,403.0 187.3,413.3 187.5,413.2 187.6,417.2 187.8,417.1 188.0,420.1 188.1,416.6 188.3,420.8 188.5,415.2 188.6,420.9 188.8,417.5 189.0,416.2 189.1,416.8 189.3,415.7 189.5,416.8 189.6,416.8 189.8,420.9 190.0,416.2 190.1,418.4 190.3,413.3 190.5,420.9 190.6,414.1 190.8,416.4 191.0,416.6 191.1,416.9 191.3,420.9 191.5,411.3 191.6,418.3 191.8,419.4 192.0,414.8 192.1,420.5 192.3,405.2 192.5,420.9 192.6,409.0 192.8,408.4 192.9,409.1 193.1,415.8 193.3,417.2 193.4,420.9 193.6,420.6 193.8,412.8 193.9,416.8 194.1,417.0 194.3,409.3 194.4,403.6 194.6,409.3 194.8,420.9 194.9,408.8 195.1,412.4 195.3,415.2 195.4,414.4 195.6,399.7 195.8,410.9 195.9,420.9 196.1,415.6 196.3,409.3 196.4,417.4 196.6,413.7 196.8,415.1 196.9,409.9 197.1,411.8 197.3,409.9 197.4,420.0 197.6,411.0 197.8,409.1 197.9,413.6 198.1,409.9 198.3,413.3 198.4,409.6 198.6,415.4 198.8,404.6 198.9,411.4 199.1,411.2 199.3,388.9 199.4,415.1 199.6,410.5 199.7,396.3 199.9,399.1 200.1,402.1 200.2,393.4 200.4,405.8 200.6,402.3 200.7,398.6 200.9,396.3 201.1,395.8 201.2,397.3 201.4,391.9 201.6,389.9 201.7,397.5 201.9,394.4 202.1,398.0 202.2,389.2 202.4,389.9 202.6,389.8 202.7,397.5 202.9,404.3 203.1,388.7 203.2,400.0 203.4,396.2 203.6,399.0 203.7,399.6 203.9,400.2 204.1,400.8 204.2,408.9 204.4,391.3 204.6,408.0 204.7,412.5 204.9,412.1 205.1,406.9 205.2,401.2 205.4,410.7 205.6,410.5 205.7,402.3 205.9,416.9 206.1,405.9 206.2,406.4 206.4,420.9 206.5,410.1 206.7,414.2 206.9,415.1 207.0,406.7 207.2,420.0 207.4,403.6 207.5,403.5 207.7,417.9 207.9,409.4 208.0,420.9 208.2,416.8 208.4,409.9 208.5,420.9 208.7,420.9 208.9,413.9 209.0,412.0 209.2,417.0 209.4,417.6 209.5,420.1 209.7,414.7 209.9,409.1 210.0,406.6 210.2,411.5 210.4,418.9 210.5,409.5 210.7,416.8 210.9,417.6 211.0,416.7 211.2,413.0 211.4,418.4 211.5,414.9 211.7,420.4 211.9,417.7 212.0,417.1 212.2,417.1 212.4,409.9 212.5,413.9 212.7,413.1 212.9,408.8 213.0,419.4 213.2,417.6 213.3,417.1 213.5,417.2 213.7,418.5 213.8,420.9 214.0,410.2 214.2,420.5 214.3,413.0 214.5,410.7 214.7,416.7 214.8,420.9 215.0,417.7 215.2,416.4 215.3,418.7 215.5,419.3 215.7,419.2 215.8,420.9 216.0,420.2 216.2,417.4 216.3,420.9 216.5,414.7 216.7,420.9 216.8,420.7 217.0,420.9 217.2,413.8 217.3,417.0 217.5,420.9 217.7,413.6 217.8,408.8 218.0,417.0 218.2,420.7 218.3,420.9 218.5,416.0 218.7,409.0 218.8,417.8 219.0,402.6 219.2,417.4 219.3,417.7 219.5,420.9 219.7,412.1 219.8,413.2 220.0,411.9 220.1,412.8 220.3,415.7 220.5,417.2 220.6,417.3 220.8,413.5 221.0,420.1 221.1,420.9 221.3,416.9 221.5,418.6 221.6,409.1 221.8,418.2 222.0,417.6 222.1,413.3 222.3,416.4 222.5,417.9 222.6,420.9 222.8,416.0 223.0,420.9 223.1,420.9 223.3,414.1 223.5,420.3 223.6,409.5 223.8,420.0 224.0,413.3 224.1,417.6 224.3,420.5 224.5,416.6 224.6,420.9 224.8,410.6 225.0,420.9 225.1,412.3 225.3,417.6 225.5,417.2 225.6,417.2 225.8,417.0 226.0,416.7 226.1,407.4 226.3,416.1 226.5,416.6 226.6,419.1 226.8,413.4 227.0,416.9 227.1,405.9 227.3,407.4 227.4,413.4 227.6,413.1 227.8,405.9 227.9,409.0 228.1,411.0 228.3,417.7 228.4,417.5 228.6,410.1 228.8,416.4 228.9,409.4 229.1,417.2 229.3,412.2 229.4,409.6 229.6,418.3 229.8,416.1 229.9,418.4 230.1,404.0 230.3,417.6 230.4,414.1 230.6,417.4 230.8,413.7 230.9,410.8 231.1,417.9 231.3,413.1 231.4,409.8 231.6,417.5 231.8,418.0 231.9,420.9 232.1,414.6 232.3,420.9 232.4,409.2 232.6,413.1 232.8,410.4 232.9,419.5 233.1,420.9 233.3,416.7 233.4,416.8 233.6,417.2 233.8,420.7 233.9,419.5 234.1,412.9 234.2,408.1 234.4,416.7 234.6,420.9 234.7,414.6 234.9,420.5 235.1,411.0 235.2,412.6 235.4,417.6 235.6,416.7 235.7,420.6 235.9,420.1 236.1,416.1 236.2,418.5 236.4,417.3 236.6,409.9 236.7,416.3 236.9,416.8 237.1,413.9 237.2,420.9 237.4,418.6 237.6,410.9 237.7,413.5 237.9,417.1 238.1,419.6 238.2,417.0 238.4,420.2 238.6,414.9 238.7,417.0 238.9,417.7 239.1,420.9 239.2,416.2 239.4,420.8 239.6,413.7 239.7,410.1 239.9,418.4 240.1,420.9 240.2,412.0 240.4,420.8 240.6,417.3 240.7,420.6 240.9,417.6 241.0,420.9 241.2,414.4 241.4,413.4 241.5,410.2 241.7,419.9 241.9,412.3 242.0,407.4 242.2,416.7 242.4,414.0 242.5,411.8 242.7,413.5 242.9,416.4 243.0,414.1 243.2,412.6 243.4,410.7 243.5,418.3 243.7,420.9 243.9,417.3 244.0,420.9 244.2,420.7 244.4,414.5 244.5,417.3 244.7,420.9 244.9,411.0 245.0,404.8 245.2,411.8 245.4,409.8 245.5,416.8 245.7,413.1 245.9,413.0 246.0,417.9 246.2,420.6 246.4,415.7 246.5,420.9 246.7,413.9 246.9,418.0 247.0,420.9 247.2,419.1 247.4,410.1 247.5,412.7 247.7,416.9 247.8,417.1 248.0,420.8 248.2,413.6 248.3,418.1 248.5,418.9 248.7,412.0 248.8,416.8 249.0,419.1 249.2,415.8 249.3,420.9 249.5,409.2 249.7,420.9 249.8,417.8 250.0,420.1 250.2,413.9 250.3,420.9 250.5,420.3 250.7,413.7 250.8,417.3 251.0,413.9 251.2,420.4 251.3,419.5 251.5,412.8 251.7,413.4 251.8,417.1 252.0,417.9 252.2,415.7 252.3,420.9 252.5,418.1 252.7,413.8 252.8,417.1 253.0,417.0 253.2,417.6 253.3,415.6 253.5,419.7 253.7,418.9 253.8,418.0 254.0,420.9 254.2,405.2 254.3,406.8 254.5,407.8 254.6,420.9 254.8,418.4 255.0,413.6 255.1,413.0 255.3,420.9 255.5,413.4 255.6,420.5 255.8,420.9 256.0,420.4 256.1,417.8 256.3,409.5 256.5,417.3 256.6,417.6 256.8,416.0 257.0,419.9 257.1,417.5 257.3,416.4 257.5,409.8 257.6,417.7 257.8,420.5 258.0,413.6 258.1,410.3 258.3,420.9 258.5,412.4 258.6,412.3 258.8,416.1 259.0,420.9 259.1,417.6 259.3,406.3 259.5,415.4 259.6,412.7 259.8,411.0 260.0,402.0 260.1,420.9 260.3,416.9 260.5,418.8 260.6,415.9 260.8,410.8 261.0,414.9 261.1,420.9 261.3,420.9 261.4,413.5 261.6,416.6 261.8,420.9 261.9,418.7 262.1,420.9 262.3,420.9 262.4,418.4 262.6,410.6 262.8,409.2 262.9,417.1 263.1,412.1 263.3,408.5 263.4,418.6 263.6,413.7 263.8,418.1 263.9,420.1 264.1,413.4 264.3,419.9 264.4,413.6 264.6,417.5 264.8,416.3 264.9,411.9 265.1,420.9 265.3,411.5 265.4,417.5 265.6,410.6 265.8,420.9 265.9,409.6 266.1,413.3 266.3,414.2 266.4,415.0 266.6,415.5 266.8,406.3 266.9,410.7 267.1,420.8 267.3,420.6 267.4,417.9 267.6,413.1 267.8,420.8 267.9,417.8 268.1,416.3 268.2,417.7 268.4,412.6 268.6,420.8 268.7,417.5 268.9,412.7 269.1,414.0 269.2,420.4 269.4,416.1 269.6,414.0 269.7,420.9 269.9,416.6 270.1,412.8 270.2,415.6 270.4,416.8 270.6,412.7 270.7,414.2 270.9,416.4 271.1,414.0 271.2,414.3 271.4,414.0 271.6,416.6 271.7,417.6 271.9,414.2 272.1,417.2 272.2,420.2 272.4,419.1 272.6,412.7 272.7,412.4 272.9,420.9 273.1,417.4 273.2,409.7 273.4,413.6 273.6,419.2 273.7,413.6 273.9,420.9 274.1,410.5 274.2,413.4 274.4,417.9 274.6,407.1 274.7,417.8 274.9,419.4 275.0,413.1 275.2,411.1 275.4,406.1 275.5,419.6 275.7,417.3 275.9,416.7 276.0,409.8 276.2,416.8 276.4,413.5 276.5,417.8 276.7,410.3 276.9,413.9 277.0,414.9 277.2,413.6 277.4,418.1 277.5,413.1 277.7,408.1 277.9,418.9 278.0,407.7 278.2,417.6 278.4,406.8 278.5,402.3 278.7,410.8 278.9,409.5 279.0,414.1 279.2,413.3 279.4,417.5 279.5,408.6 279.7,409.0 279.9,412.9 280.0,411.1 280.2,405.4 280.4,414.0 280.5,414.8 280.7,409.7 280.9,412.7 281.0,420.9 281.2,398.5 281.4,417.4 281.5,420.9 281.7,416.7 281.8,413.9 282.0,414.2 282.2,409.0 282.3,419.3 282.5,412.7 282.7,414.7 282.8,408.9 283.0,400.3 283.2,419.6 283.3,418.7 283.5,419.2 283.7,413.4 283.8,413.8 284.0,417.4 284.2,416.3 284.3,413.7 284.5,409.4 284.7,413.4 284.8,410.9 285.0,415.7 285.2,413.7 285.3,413.3 285.5,420.5 285.7,417.1 285.8,412.1 286.0,420.4 286.2,413.8 286.3,413.5 286.5,417.4 286.7,410.9 286.8,412.6 287.0,414.4 287.2,419.7 287.3,420.7 287.5,412.8 287.7,420.8 287.8,413.8 288.0,411.5 288.2,413.9 288.3,418.0 288.5,420.4 288.7,415.9 288.8,420.9 289.0,410.4 289.1,420.0 289.3,412.7 289.5,413.1 289.6,413.9 289.8,413.4 290.0,417.8 290.1,416.7 290.3,417.1 290.5,416.9 290.6,410.2 290.8,416.5 291.0,420.7 291.1,410.6 291.3,415.9 291.5,406.2 291.6,417.4 291.8,413.7 292.0,408.7 292.1,417.1 292.3,413.3 292.5,414.3 292.6,413.9 292.8,414.1 293.0,420.9 293.1,420.9 293.3,417.5 293.5,414.7 293.6,420.2 293.8,420.1 294.0,420.9 294.1,409.7 294.3,410.7 294.5,420.6 294.6,416.9 294.8,418.7 295.0,415.8 295.1,416.9 295.3,420.4 295.5,417.3 295.6,417.8 295.8,420.9 295.9,415.9 296.1,412.5 296.3,415.7 296.4,417.1 296.6,420.9 296.8,417.1 296.9,407.6 297.1,410.9 297.3,420.5 297.4,420.9 297.6,413.7 297.8,411.3 297.9,420.8 298.1,413.4 298.3,417.3 298.4,409.7 298.6,414.8 298.8,420.9 298.9,414.1 299.1,419.7 299.3,417.9 299.4,420.9 299.6,419.9 299.8,417.2 299.9,416.6 300.1,414.7 300.3,413.0 300.4,417.4 300.6,417.0 300.8,416.8 300.9,420.9 301.1,412.9 301.3,407.0 301.4,416.4 301.6,420.9 301.8,413.6 301.9,418.8 302.1,414.8 302.3,409.4 302.4,420.9 302.6,420.8 302.7,413.9 302.9,420.9 303.1,414.0 303.2,414.0 303.4,416.9 303.6,420.9 303.7,414.4 303.9,419.8 304.1,409.0 304.2,417.4 304.4,414.7 304.6,413.5 304.7,407.1 304.9,405.4 305.1,410.3 305.2,418.0 305.4,414.1 305.6,418.2 305.7,413.9 305.9,397.0 306.1,406.5 306.2,409.5 306.4,399.0 306.6,407.3 306.7,409.4 306.9,413.3 307.1,413.9 307.2,412.5 307.4,404.2 307.6,404.5 307.7,419.2 307.9,419.5 308.1,415.5 308.2,408.1 308.4,408.7 308.6,404.5 308.7,415.9 308.9,408.9 309.1,417.6 309.2,409.9 309.4,417.4 309.5,413.5 309.7,399.2 309.9,411.7 310.0,414.8 310.2,417.1 310.4,403.4 310.5,417.0 310.7,410.0 310.9,408.9 311.0,420.9 311.2,407.2 311.4,413.5 311.5,420.7 311.7,412.0 311.9,405.0 312.0,407.4 312.2,416.1 312.4,412.7 312.5,409.0 312.7,410.0 312.9,407.3 313.0,420.9 313.2,401.9 313.4,414.1 313.5,406.2 313.7,414.1 313.9,420.9 314.0,402.2 314.2,420.9 314.4,417.5 314.5,420.9 314.7,417.2 314.9,410.2 315.0,418.2 315.2,410.5 315.4,414.0 315.5,419.3 315.7,416.7 315.9,420.9 316.0,406.4 316.2,417.6 316.3,415.9 316.5,420.9 316.7,420.9 316.8,417.5 317.0,418.0 317.2,414.2 317.3,407.4 317.5,417.0 317.7,417.9 317.8,420.9 318.0,416.5 318.2,416.1 318.3,413.5 318.5,418.2 318.7,413.3 318.8,417.9 319.0,420.7 319.2,406.3 319.3,418.3 319.5,420.2 319.7,420.9 319.8,420.9 320.0,418.2 320.2,412.9 320.3,420.9 320.5,413.6 320.7,418.2 320.8,420.9 321.0,420.9 321.2,411.5 321.3,417.7 321.5,416.2 321.7,412.8 321.8,407.3 322.0,414.4 322.2,408.9 322.3,416.7 322.5,413.7 322.7,420.9 322.8,420.9 323.0,419.3 323.1,414.3 323.3,419.2 323.5,419.6 323.6,420.9 323.8,416.7 324.0,416.8 324.1,417.8 324.3,418.1 324.5,403.5 324.6,417.2 324.8,419.8 325.0,410.0 325.1,420.9 325.3,414.0 325.5,419.9 325.6,412.4 325.8,417.1 326.0,417.5 326.1,420.7 326.3,420.4 326.5,416.3 326.6,416.5 326.8,418.0 327.0,417.4 327.1,417.7 327.3,409.6 327.5,420.9 327.6,420.9 327.8,417.3 328.0,420.9 328.1,420.9 328.3,417.5 328.5,418.1 328.6,417.3 328.8,420.9 329.0,418.3 329.1,416.9 329.3,410.4 329.5,420.0 329.6,420.7 329.8,418.0 329.9,417.8 330.1,418.2 330.3,420.9 330.4,409.7 330.6,417.4 330.8,413.6 330.9,418.2 331.1,416.3 331.3,416.9 331.4,409.4 331.6,418.3 331.8,410.4 331.9,418.0 332.1,408.9 332.3,406.8 332.4,419.1 332.6,409.8 332.8,414.3 332.9,419.9 333.1,405.1 333.3,420.9 333.4,410.7 333.6,413.8 333.8,420.9 333.9,414.7 334.1,420.9 334.3,420.9 334.4,418.4 334.6,417.2 334.8,413.5 334.9,416.5 335.1,413.6 335.3,414.0 335.4,412.7 335.6,420.9 335.8,420.9 335.9,414.9 336.1,407.0 336.3,409.7 336.4,413.0 336.6,418.2 336.7,412.9 336.9,420.6 337.1,413.3 337.2,414.6 337.4,417.6 337.6,419.2 337.7,406.5 337.9,420.9 338.1,413.2 338.2,416.4 338.4,418.1 338.6,409.4 338.7,412.9 338.9,410.4 339.1,408.6 339.2,403.7 339.4,420.9 339.6,410.2 339.7,419.5 339.9,409.7 340.1,415.2 340.2,403.4 340.4,409.2 340.6,418.0 340.7,417.5 340.9,407.4 341.1,415.7 341.2,415.9 341.4,418.4 341.6,411.7 341.7,406.1 341.9,409.8 342.1,402.7 342.2,405.8 342.4,416.6 342.6,400.8 342.7,418.5 342.9,403.4 343.1,414.2 343.2,389.9 343.4,411.0 343.5,399.7 343.7,406.3 343.9,417.4 344.0,406.5 344.2,395.0 344.4,409.3 344.5,401.7 344.7,411.0 344.9,404.1 345.0,402.2 345.2,402.0 345.4,409.7 345.5,414.1 345.7,409.6 345.9,415.6 346.0,407.0 346.2,404.2 346.4,408.9 346.5,411.4 346.7,404.2 346.9,408.8 347.0,401.8 347.2,417.6 347.4,409.7 347.5,409.0 347.7,407.6 347.9,397.6 348.0,411.7 348.2,395.1 348.4,410.7 348.5,413.6 348.7,417.4 348.9,417.4 349.0,405.8 349.2,414.1 349.4,420.8 349.5,409.3 349.7,410.3 349.9,408.4 350.0,407.1 350.2,414.3 350.3,418.2 350.5,416.9 350.7,417.3 350.8,407.3 351.0,407.1 351.2,418.6 351.3,417.9 351.5,415.8 351.7,411.7 351.8,419.4 352.0,417.5 352.2,410.4 352.3,414.3 352.5,414.9 352.7,413.3 352.8,414.1 353.0,414.4 353.2,417.5 353.3,412.5 353.5,407.0 353.7,414.0 353.8,412.7 354.0,414.7 354.2,409.5 354.3,411.8 354.5,413.8 354.7,411.6 354.8,416.6 355.0,417.7 355.2,419.9 355.3,413.4 355.5,417.2 355.7,414.6 355.8,412.8 356.0,417.0 356.2,409.8 356.3,420.6 356.5,420.6 356.7,413.6 356.8,417.4 357.0,420.9 357.2,420.9 357.3,417.7 357.5,412.9 357.6,409.3 357.8,418.2 358.0,414.2 358.1,414.3 358.3,406.3 358.5,409.9 358.6,416.8 358.8,403.5 359.0,417.6 359.1,397.7 359.3,407.5 359.5,405.3 359.6,409.5 359.8,412.9 360.0,410.0 360.1,406.5 360.3,420.2 360.5,417.4 360.6,413.8 360.8,417.5 361.0,402.6 361.1,413.8 361.3,406.8 361.5,406.0 361.6,406.1 361.8,414.2 362.0,405.8 362.1,411.5 362.3,408.6 362.5,400.3 362.6,406.5 362.8,404.9 363.0,414.1 363.1,415.8 363.3,399.1 363.5,413.3 363.6,409.4 363.8,407.2 364.0,400.0 364.1,414.1 364.3,402.3 364.4,405.4 364.6,414.4 364.8,414.5 364.9,406.5 365.1,414.7 365.3,407.7 365.4,409.7 365.6,414.2 365.8,412.5 365.9,414.5 366.1,416.1 366.3,412.7 366.4,417.6 366.6,417.2 366.8,412.4 366.9,413.5 367.1,420.9 367.3,420.9 367.4,409.0 367.6,415.7 367.8,409.6 367.9,417.3 368.1,413.6 368.3,415.0 368.4,420.4 368.6,414.2 368.8,410.0 368.9,416.6 369.1,414.5 369.3,419.7 369.4,413.5 369.6,413.6 369.8,413.9 369.9,414.3 370.1,418.1 370.3,410.0 370.4,420.4 370.6,414.1 370.8,405.5 370.9,417.5 371.1,420.3 371.2,420.9 371.4,420.9 371.6,412.9 371.7,413.1 371.9,409.1 372.1,419.9 372.2,413.6 372.4,409.4 372.6,402.4 372.7,409.6 372.9,412.9 373.1,420.7 373.2,420.7 373.4,413.2 373.6,418.0 373.7,405.7 373.9,420.0 374.1,418.9 374.2,409.4 374.4,420.9 374.6,410.7 374.7,413.1 374.9,414.4 375.1,420.6 375.2,420.9 375.4,418.2 375.6,415.7 375.7,417.9 375.9,420.9 376.1,420.9 376.2,405.0 376.4,418.6 376.6,416.3 376.7,410.7 376.9,420.7 377.1,420.9 377.2,420.0 377.4,410.7 377.6,415.7 377.7,410.4 377.9,418.4 378.0,417.1 378.2,420.2 378.4,420.3 378.5,409.3 378.7,417.4 378.9,416.0 379.0,412.9 379.2,420.9 379.4,414.0 379.5,420.9 379.7,420.9 379.9,417.0 380.0,414.0 380.2,417.4 380.4,413.0 380.5,405.7 380.7,412.4 380.9,419.8 381.0,414.2 381.2,420.9 381.4,420.9 381.5,414.4 381.7,418.0 381.9,416.6 382.0,412.5 382.2,420.9 382.4,420.2 382.5,419.0 382.7,413.2 382.9,408.6 383.0,420.0 383.2,407.1 383.4,417.9 383.5,420.9 383.7,416.1 383.9,420.5 384.0,417.0 384.2,420.4 384.4,418.1 384.5,419.0 384.7,420.9 384.8,420.9 385.0,417.0 385.2,413.6 385.3,410.9 385.5,406.8 385.7,417.7 385.8,412.5 386.0,413.6 386.2,415.6 386.3,415.6 386.5,416.5 386.7,420.1 386.8,418.5 387.0,412.5 387.2,417.0 387.3,416.7 387.5,419.9 387.7,417.1 387.8,420.9 388.0,417.6 388.2,414.4 388.3,412.8 388.5,410.0 388.7,417.1 388.8,417.6 389.0,417.3 389.2,420.9 389.3,420.7 389.5,418.1 389.7,417.0 389.8,413.8 390.0,420.4 390.2,416.3 390.3,416.8 390.5,413.5 390.7,416.5 390.8,414.1 391.0,413.6 391.2,416.8 391.3,420.9 391.5,420.9 391.6,404.7 391.8,420.6 392.0,409.8 392.1,416.7 392.3,413.7 392.5,410.4 392.6,413.8 392.8,416.3 393.0,415.8 393.1,414.0 393.3,420.9 393.5,413.2 393.6,420.9 393.8,420.7 394.0,409.1 394.1,419.8 394.3,407.9 394.5,417.4 394.6,420.7 394.8,409.2 395.0,416.9 395.1,416.2 395.3,417.1 395.5,420.9 395.6,417.8 395.8,418.6 396.0,413.4 396.1,416.1 396.3,413.1 396.5,414.0 396.6,420.9 396.8,420.8 397.0,417.7 397.1,420.9 397.3,413.6 397.5,415.2 397.6,417.5 397.8,417.8 398.0,411.2 398.1,412.8 398.3,418.0 398.4,415.2 398.6,414.0 398.8,409.8 398.9,414.7 399.1,410.1 399.3,411.5 399.4,419.8 399.6,403.9 399.8,417.3 399.9,414.5 400.1,414.1 400.3,409.8 400.4,420.9 400.6,420.9 400.8,419.8 400.9,418.7 401.1,412.9 401.3,417.2 401.4,417.0 401.6,418.3 401.8,420.9 401.9,414.6 402.1,420.5 402.3,420.9 402.4,417.5 402.6,404.5 402.8,413.7 402.9,416.5 403.1,413.3 403.3,420.8 403.4,413.2 403.6,418.5 403.8,413.6 403.9,409.2 404.1,405.1 404.3,413.8 404.4,419.6 404.6,412.9 404.8,417.6 404.9,415.0 405.1,417.0 405.2,410.6 405.4,419.8 405.6,409.7 405.7,420.9 405.9,420.9 406.1,416.9 406.2,412.5 406.4,419.4 406.6,420.4 406.7,414.8 406.9,417.4 407.1,418.0 407.2,416.5 407.4,420.5 407.6,419.3 407.7,412.6 407.9,417.9 408.1,419.1 408.2,417.5 408.4,417.7 408.6,417.2 408.7,417.9 408.9,414.2 409.1,413.0 409.2,413.5 409.4,410.7 409.6,416.9 409.7,414.4 409.9,417.2 410.1,412.9 410.2,417.7 410.4,420.9 410.6,402.8 410.7,414.0 410.9,419.3 411.1,420.9 411.2,407.0 411.4,418.3 411.6,415.6 411.7,418.0 411.9,413.6 412.0,418.1 412.2,413.3 412.4,409.3 412.5,420.3 412.7,420.9 412.9,418.0 413.0,409.4 413.2,420.9 413.4,407.0 413.5,417.8 413.7,419.7 413.9,420.9 414.0,409.1 414.2,412.9 414.4,408.7 414.5,420.5 414.7,415.4 414.9,420.2 415.0,420.9 415.2,414.9 415.4,413.7 415.5,416.9 415.7,420.6 415.9,409.2 416.0,401.9 416.2,420.9 416.4,417.3 416.5,413.7 416.7,398.8 416.9,414.4 417.0,412.7 417.2,420.8 417.4,412.6 417.5,420.9 417.7,399.4 417.9,404.0 418.0,420.9 418.2,420.9 418.4,403.4 418.5,417.0 418.7,416.9 418.9,413.7 419.0,410.1 419.2,411.1 419.3,410.5 419.5,406.7 419.7,417.9 419.8,413.1 420.0,406.1 420.2,407.2 420.3,406.9 420.5,417.4 420.7,406.5 420.8,419.6 421.0,420.9 421.2,420.9 421.3,417.0 421.5,420.4 421.7,419.9 421.8,411.0 422.0,417.6 422.2,417.2 422.3,406.4 422.5,411.5 422.7,420.6 422.8,412.5 423.0,413.2 423.2,410.3 423.3,407.5 423.5,418.2 423.7,417.4 423.8,407.2 424.0,418.0 424.2,411.6 424.3,409.8 424.5,416.6 424.7,410.2 424.8,413.3 425.0,417.3 425.2,412.4 425.3,420.9 425.5,413.8 425.7,420.9 425.8,420.9 426.0,410.5 426.1,417.8 426.3,416.1 426.5,413.1 426.6,405.7 426.8,409.9 427.0,411.0 427.1,420.9 427.3,416.5 427.5,403.7 427.6,413.9 427.8,417.4 428.0,416.5 428.1,406.6 428.3,416.7 428.5,406.0 428.6,420.9 428.8,417.2 429.0,420.9 429.1,414.2 429.3,416.9 429.5,417.0 429.6,420.6 429.8,420.9 430.0,405.8 430.1,409.6 430.3,420.8 430.5,420.9 430.6,414.7 430.8,408.2 431.0,410.8 431.1,412.4 431.3,406.7 431.5,409.1 431.6,418.0 431.8,402.9 432.0,417.7 432.1,409.5 432.3,416.5 432.5,413.6 432.6,412.0 432.8,402.8 432.9,414.6 433.1,412.3 433.3,420.9 433.4,419.1 433.6,417.4 433.8,418.4 433.9,420.5 434.1,411.2 434.3,420.5 434.4,415.1 434.6,416.3 434.8,417.3 434.9,420.3 435.1,420.9 435.3,404.8 435.4,417.5 435.6,416.7 435.8,417.4 435.9,412.7 436.1,418.5 436.3,420.9 436.4,416.9 436.6,420.9 436.8,418.2 436.9,413.3 437.1,410.2 437.3,419.5 437.4,417.2 437.6,417.8 437.8,411.1 437.9,409.5 438.1,416.9 438.3,412.6 438.4,414.2 438.6,414.6 438.8,411.5 438.9,416.6 439.1,416.7 439.3,410.9 439.4,414.2 439.6,413.1 439.7,420.9 439.9,420.9 440.1,413.5 440.2,408.2 440.4,409.6 440.6,417.6 440.7,418.9 440.9,410.2 441.1,413.8 441.2,420.9 441.4,420.5 441.6,420.9 441.7,420.9 441.9,413.4 442.1,406.4 442.2,413.6 442.4,418.6 442.6,420.9 442.7,410.8 442.9,406.1 443.1,414.0 443.2,409.4 443.4,420.9 443.6,408.7 443.7,414.4 443.9,414.0 444.1,416.6 444.2,417.3 444.4,416.6 444.6,413.1 444.7,413.0 444.9,418.4 445.1,416.6 445.2,417.3 445.4,420.7 445.6,420.9 445.7,416.9 445.9,413.0 446.1,406.2 446.2,413.3 446.4,417.2 446.5,417.5 446.7,409.7 446.9,413.9 447.0,410.2 447.2,406.1 447.4,416.4 447.5,415.8 447.7,412.7 447.9,413.6 448.0,418.0 448.2,413.4 448.4,414.5 448.5,418.1 448.7,420.9 448.9,416.2 449.0,416.3 449.2,411.0 449.4,420.8 449.5,416.9 449.7,415.9 449.9,416.0 450.0,418.0 450.2,420.6 450.4,415.0 450.5,413.8 450.7,420.8 450.9,417.5 451.0,414.6 451.2,410.4 451.4,408.2 451.5,414.2 451.7,417.3 451.9,420.0 452.0,409.4 452.2,417.6 452.4,416.0 452.5,416.0 452.7,413.5 452.9,413.4 453.0,420.9 453.2,413.2 453.3,413.4 453.5,416.3 453.7,418.7 453.8,416.4 454.0,417.3 454.2,419.6 454.3,419.8 454.5,420.9 454.7,417.3 454.8,417.6 455.0,418.1 455.2,410.2 455.3,420.2 455.5,420.9 455.7,420.9 455.8,417.3 456.0,420.9 456.2,413.6 456.3,420.3 456.5,416.5 456.7,419.9 456.8,418.0 457.0,419.5 457.2,417.3 457.3,417.5 457.5,416.7 457.7,413.1 457.8,417.5 458.0,417.2 458.2,416.6 458.3,407.1 458.5,404.8 458.7,417.0 458.8,413.6 459.0,414.2 459.2,405.4 459.3,420.9" fill="none" stroke="#000" stroke-width="0.8" stroke-linejoin="round"/>
<rect x="184.9" y="290.6" width="143" height="65.5" fill="#edebd3" stroke="#2a2a2a" stroke-width="1.4"/>
<rect x="199.2" y="295.0" width="128" height="41.4" fill="#fff"/>
<line x1="199.2" y1="295" x2="327.2" y2="295" stroke="#999" stroke-width="0.6"/>
<line x1="199.2" y1="295" x2="199.2" y2="338.4" stroke="#222" stroke-width="1.1"/>
<line x1="198.2" y1="336.4" x2="327.2" y2="336.4" stroke="#222" stroke-width="1.1"/>
<line x1="196.7" y1="336.3" x2="199.2" y2="336.3" stroke="#333" stroke-width="0.7"/>
<text transform="translate(195.7,337.9) scale(0.85,1)" text-anchor="end" font-family="Liberation Sans, sans-serif" font-size="5.5" font-weight="bold" fill="#1a1a1a">0</text>
<line x1="196.7" y1="321.05" x2="199.2" y2="321.05" stroke="#333" stroke-width="0.7"/>
<text transform="translate(195.7,322.65) scale(0.85,1)" text-anchor="end" font-family="Liberation Sans, sans-serif" font-size="5.5" font-weight="bold" fill="#1a1a1a">50</text>
<line x1="196.7" y1="305.8" x2="199.2" y2="305.8" stroke="#333" stroke-width="0.7"/>
<text transform="translate(195.7,307.4) scale(0.85,1)" text-anchor="end" font-family="Liberation Sans, sans-serif" font-size="5.5" font-weight="bold" fill="#1a1a1a">100</text>
<line x1="218.65" y1="336.4" x2="218.65" y2="338.4" stroke="#333" stroke-width="0.7"/>
<text transform="translate(218.65,345) scale(0.85,1)" text-anchor="middle" font-family="Liberation Sans, sans-serif" font-size="5.5" font-weight="bold" fill="#1a1a1a">0.5</text>
<line x1="244.6" y1="336.4" x2="244.6" y2="338.4" stroke="#333" stroke-width="0.7"/>
<text transform="translate(244.6,345) scale(0.85,1)" text-anchor="middle" font-family="Liberation Sans, sans-serif" font-size="5.5" font-weight="bold" fill="#1a1a1a">1.0</text>
<line x1="270.55" y1="336.4" x2="270.55" y2="338.4" stroke="#333" stroke-width="0.7"/>
<text transform="translate(270.55,345) scale(0.85,1)" text-anchor="middle" font-family="Liberation Sans, sans-serif" font-size="5.5" font-weight="bold" fill="#1a1a1a">1.5</text>
<line x1="296.5" y1="336.4" x2="296.5" y2="338.4" stroke="#333" stroke-width="0.7"/>
<text transform="translate(296.5,345) scale(0.85,1)" text-anchor="middle" font-family="Liberation Sans, sans-serif" font-size="5.5" font-weight="bold" fill="#1a1a1a">2.0</text>
<line x1="322.45" y1="336.4" x2="322.45" y2="338.4" stroke="#333" stroke-width="0.7"/>
<text transform="translate(322.45,345) scale(0.85,1)" text-anchor="middle" font-family="Liberation Sans, sans-serif" font-size="5.5" font-weight="bold" fill="#1a1a1a">2.5</text>
<text x="263.5" y="353.6" text-anchor="middle" font-family="Liberation Sans, sans-serif" font-size="5.2" font-weight="bold" fill="#1a1a1a">keV</text>
<polygon points="199.45,336.3 199.4,335.9 199.7,335.6 200.0,335.3 200.2,336.0 200.5,335.5 200.7,336.0 201.0,335.5 201.3,335.8 201.5,335.8 201.8,335.5 202.0,335.1 202.3,336.1 202.6,335.7 202.8,335.9 203.1,335.4 203.3,335.7 203.6,335.9 203.9,335.5 204.1,335.5 204.4,335.7 204.6,335.4 204.9,335.4 205.2,335.2 205.4,335.5 205.7,335.0 205.9,334.8 206.2,335.1 206.5,333.9 206.7,334.4 207.0,334.7 207.2,335.0 207.5,335.1 207.8,335.1 208.0,335.2 208.3,335.7 208.5,335.8 208.8,335.2 209.0,335.9 209.3,335.2 209.6,335.7 209.8,336.0 210.1,335.9 210.3,335.3 210.6,335.6 210.9,335.9 211.1,335.4 211.4,335.6 211.6,335.8 211.9,336.0 212.2,336.1 212.4,335.7 212.7,335.6 212.9,335.3 213.2,335.3 213.5,335.4 213.7,336.0 214.0,335.8 214.2,335.6 214.5,335.7 214.8,335.7 215.0,335.8 215.3,335.6 215.5,335.4 215.8,335.4 216.1,335.7 216.3,335.2 216.6,335.0 216.8,334.5 217.1,333.1 217.4,332.4 217.6,330.6 217.9,329.7 218.1,328.4 218.4,327.4 218.7,326.2 218.9,324.9 219.2,324.4 219.4,323.4 219.7,323.3 219.9,323.2 220.2,323.4 220.5,323.8 220.7,323.6 221.0,324.6 221.2,325.2 221.5,326.1 221.8,327.6 222.0,328.9 222.3,330.5 222.5,331.2 222.8,332.1 223.1,333.7 223.3,333.9 223.6,334.3 223.8,334.7 224.1,335.1 224.4,335.7 224.6,335.9 224.9,335.8 225.1,335.5 225.4,335.3 225.7,335.3 225.9,335.7 226.2,335.5 226.4,335.7 226.7,336.1 227.0,335.8 227.2,335.4 227.5,335.4 227.7,335.6 228.0,335.6 228.3,335.1 228.5,335.5 228.8,335.7 229.0,336.0 229.3,335.8 229.5,335.5 229.8,335.8 230.1,335.5 230.3,335.8 230.6,335.0 230.8,335.7 231.1,335.4 231.4,335.8 231.6,335.5 231.9,335.4 232.1,335.5 232.4,335.9 232.7,335.1 232.9,335.2 233.2,335.5 233.4,335.2 233.7,334.7 234.0,334.8 234.2,334.2 234.5,334.4 234.7,333.8 235.0,333.4 235.3,333.5 235.5,333.3 235.8,333.1 236.0,332.8 236.3,332.9 236.6,333.0 236.8,332.9 237.1,332.8 237.3,332.4 237.6,331.9 237.9,331.2 238.1,330.0 238.4,329.2 238.6,328.1 238.9,326.8 239.2,325.2 239.4,323.6 239.7,322.4 239.9,320.7 240.2,318.2 240.4,315.0 240.7,312.1 241.0,309.1 241.2,308.6 241.5,309.1 241.7,313.3 242.0,317.3 242.3,320.4 242.5,323.1 242.8,324.8 243.0,326.8 243.3,328.0 243.6,329.3 243.8,330.3 244.1,331.1 244.3,332.4 244.6,333.4 244.9,333.7 245.1,334.5 245.4,334.4 245.6,334.9 245.9,335.2 246.2,335.7 246.4,335.8 246.7,335.7 246.9,335.6 247.2,336.1 247.5,335.8 247.7,335.6 248.0,335.8 248.2,335.5 248.5,335.6 248.8,335.3 249.0,335.9 249.3,335.6 249.5,336.3 249.8,335.9 250.0,335.5 250.3,335.8 250.6,335.8 250.8,336.0 251.1,335.3 251.3,335.4 251.6,335.7 251.9,335.6 252.1,335.7 252.4,336.0 252.6,335.6 252.9,335.8 253.2,335.9 253.4,335.4 253.7,335.7 253.9,336.0 254.2,335.6 254.5,335.7 254.7,335.6 255.0,335.7 255.2,335.6 255.5,335.6 255.8,335.9 256.0,335.2 256.3,335.6 256.5,336.3 256.8,335.5 257.1,336.1 257.3,335.6 257.6,335.3 257.8,335.8 258.1,335.7 258.4,335.4 258.6,335.5 258.9,335.6 259.1,335.7 259.4,335.7 259.7,336.2 259.9,335.8 260.2,335.7 260.4,335.5 260.7,335.6 260.9,336.0 261.2,335.9 261.5,336.3 261.7,335.7 262.0,335.3 262.2,335.7 262.5,335.9 262.8,335.7 263.0,335.8 263.3,336.0 263.5,335.9 263.8,335.8 264.1,335.5 264.3,335.9 264.6,335.9 264.8,336.1 265.1,335.7 265.4,336.0 265.6,335.3 265.9,335.7 266.1,336.3 266.4,335.4 266.7,335.7 266.9,335.7 267.2,335.7 267.4,335.9 267.7,336.0 268.0,335.9 268.2,335.8 268.5,335.6 268.7,335.3 269.0,335.6 269.3,335.5 269.5,335.5 269.8,335.9 270.0,336.0 270.3,335.9 270.6,335.3 270.8,336.1 271.1,335.6 271.3,335.9 271.6,335.1 271.8,336.1 272.1,336.0 272.4,335.8 272.6,336.0 272.9,335.5 273.1,335.5 273.4,335.5 273.7,335.2 273.9,335.9 274.2,335.7 274.4,335.8 274.7,335.9 275.0,335.6 275.2,335.2 275.5,335.9 275.7,335.2 276.0,335.6 276.3,335.8 276.5,336.0 276.8,335.5 277.0,335.7 277.3,335.7 277.6,335.9 277.8,335.7 278.1,335.8 278.3,335.7 278.6,336.2 278.9,335.6 279.1,335.5 279.4,335.5 279.6,336.0 279.9,335.7 280.2,335.6 280.4,335.4 280.7,335.5 280.9,335.4 281.2,335.7 281.4,335.5 281.7,335.7 282.0,335.8 282.2,336.1 282.5,335.6 282.7,335.8 283.0,336.1 283.3,335.4 283.5,335.8 283.8,335.6 284.0,335.6 284.3,335.7 284.6,335.7 284.8,335.5 285.1,335.9 285.3,336.0 285.6,335.4 285.9,335.6 286.1,335.9 286.4,335.4 286.6,336.0 286.9,335.7 287.2,335.6 287.4,335.7 287.7,335.6 287.9,335.8 288.2,336.1 288.5,335.8 288.7,335.6 289.0,335.7 289.2,335.7 289.5,335.8 289.8,335.4 290.0,335.8 290.3,335.6 290.5,335.6 290.8,335.9 291.1,335.5 291.3,335.6 291.6,335.5 291.8,336.0 292.1,335.4 292.3,335.8 292.6,335.7 292.9,335.6 293.1,335.5 293.4,335.8 293.6,335.6 293.9,335.7 294.2,335.7 294.4,335.7 294.7,335.9 294.9,335.7 295.2,335.4 295.5,335.9 295.7,336.1 296.0,335.4 296.2,336.0 296.5,335.8 296.8,335.9 297.0,335.6 297.3,335.8 297.5,335.6 297.8,335.8 298.1,336.0 298.3,335.1 298.6,335.7 298.8,335.6 299.1,336.0 299.4,335.9 299.6,335.8 299.9,335.5 300.1,335.9 300.4,335.6 300.7,335.8 300.9,335.9 301.2,335.5 301.4,335.6 301.7,335.9 301.9,335.5 302.2,336.0 302.5,335.6 302.7,335.7 303.0,335.1 303.2,335.6 303.5,335.2 303.8,335.6 304.0,335.8 304.3,335.5 304.5,336.1 304.8,336.0 305.1,335.7 305.3,335.3 305.6,335.5 305.8,336.0 306.1,336.2 306.4,335.6 306.6,336.1 306.9,336.0 307.1,335.9 307.4,335.9 307.7,335.9 307.9,335.8 308.2,335.5 308.4,335.9 308.7,335.7 309.0,335.6 309.2,335.6 309.5,335.7 309.7,335.9 310.0,335.7 310.3,336.1 310.5,335.7 310.8,335.4 311.0,335.6 311.3,336.3 311.6,335.6 311.8,335.6 312.1,335.8 312.3,335.5 312.6,335.5 312.8,335.7 313.1,335.8 313.4,336.0 313.6,335.5 313.9,336.2 314.1,335.6 314.4,335.8 314.7,335.7 314.9,335.8 315.2,335.7 315.4,335.9 315.7,335.9 316.0,335.3 316.2,335.8 316.5,335.4 316.7,335.5 317.0,335.7 317.3,335.6 317.5,335.7 317.8,335.5 318.0,335.7 318.3,335.8 318.6,335.5 318.8,335.7 319.1,335.6 319.3,335.9 319.6,335.7 319.9,335.5 320.1,335.5 320.4,336.0 320.6,335.7 320.9,336.0 321.2,335.5 321.4,335.9 321.7,336.1 321.9,336.0 322.2,336.0 322.5,335.1 322.7,335.8 323.0,335.5 323.2,335.9 323.5,335.6 323.7,335.4 324.0,335.5 324.3,335.4 324.5,335.5 324.8,335.8 325.0,335.6 325.3,335.7 325.6,335.8 325.8,335.2 326.1,335.9 326.3,336.0 326.6,335.8 326.9,335.4 327.1,335.8 327.4,335.6 327.6,335.9 327.9,335.4 328.2,335.6 328.4,335.7 328.7,335.4 328.68,336.3" fill="#000" stroke="#000" stroke-width="0.5"/>
<text x="219.3" y="320.2" text-anchor="middle" font-family="Liberation Sans, sans-serif" font-size="4.6" font-weight="bold" fill="#222">O</text>
<text x="241.3" y="304.3" text-anchor="middle" font-family="Liberation Sans, sans-serif" font-size="5" font-weight="bold" fill="#222">Cu</text>
<text transform="translate(84.35,51.9) rotate(-90)" font-family="Liberation Serif, serif" font-size="8.6" fill="#222" textLength="48.7" lengthAdjust="spacingAndGlyphs">(-201)(-110)</text>
<text transform="translate(111.65,55.1) rotate(-90)" font-family="Liberation Serif, serif" font-size="8.6" fill="#222" textLength="19" lengthAdjust="spacingAndGlyphs">(001)</text>
<text transform="translate(160.25,116.9) rotate(-90)" font-family="Liberation Serif, serif" font-size="8.6" fill="#222" textLength="18.2" lengthAdjust="spacingAndGlyphs">(020)</text>
<text transform="translate(190.85,116.2) rotate(-90)" font-family="Liberation Serif, serif" font-size="8.6" fill="#222" textLength="48.3" lengthAdjust="spacingAndGlyphs">(-221)(-401)</text>
<text transform="translate(204.05,109.4) rotate(-90)" font-family="Liberation Serif, serif" font-size="8.6" fill="#222" textLength="93.8" lengthAdjust="spacingAndGlyphs">(-312)(021)(310)(-220)</text>
<text transform="translate(243.65,77.9) rotate(-90)" font-family="Liberation Serif, serif" font-size="8.6" fill="#222" textLength="19.8" lengthAdjust="spacingAndGlyphs">(002)</text>
<text transform="translate(250.75,110.6) rotate(-90)" font-family="Liberation Serif, serif" font-size="8.6" fill="#222" textLength="22.1" lengthAdjust="spacingAndGlyphs">(-222)</text>
<text transform="translate(259.55,115.9) rotate(-90)" font-family="Liberation Serif, serif" font-size="8.6" fill="#222" textLength="19" lengthAdjust="spacingAndGlyphs">(400)</text>
<text transform="translate(286.25,123.9) rotate(-90)" font-family="Liberation Serif, serif" font-size="8.6" fill="#222" textLength="19.7" lengthAdjust="spacingAndGlyphs">(230)</text>
<text transform="translate(310.05,123.9) rotate(-90)" font-family="Liberation Serif, serif" font-size="8.6" fill="#222" textLength="21.5" lengthAdjust="spacingAndGlyphs">(-513)</text>
<text transform="translate(325.75,120.9) rotate(-90)" font-family="Liberation Serif, serif" font-size="8.6" fill="#222" textLength="70.5" lengthAdjust="spacingAndGlyphs">(-603)(-332)(-330)</text>
<text transform="translate(349.95,118.3) rotate(-90)" font-family="Liberation Serif, serif" font-size="8.6" fill="#222" textLength="23.5" lengthAdjust="spacingAndGlyphs">(-622)</text>
<text transform="translate(454.01,117.8) rotate(-90)" font-family="Liberation Sans, sans-serif" font-size="8.3" fill="#4a72dd" textLength="27.7" lengthAdjust="spacingAndGlyphs">Si (400)</text>
<text transform="translate(96.85,204.2) rotate(-90)" font-family="Liberation Serif, serif" font-size="8.6" fill="#222" textLength="20.5" lengthAdjust="spacingAndGlyphs">(020)</text>
<text transform="translate(142.95,172.5) rotate(-90)" font-family="Liberation Serif, serif" font-size="8.6" fill="#222" textLength="19.5" lengthAdjust="spacingAndGlyphs">(021)</text>
<text transform="translate(198.75,241.4) rotate(-90)" font-family="Liberation Serif, serif" font-size="8.6" fill="#222" textLength="19.4" lengthAdjust="spacingAndGlyphs">(110)</text>
<text transform="translate(215.85,189.2) rotate(-90)" font-family="Liberation Serif, serif" font-size="8.6" fill="#222" textLength="19.2" lengthAdjust="spacingAndGlyphs">(002)</text>
<text transform="translate(227.85,225.2) rotate(-90)" font-family="Liberation Serif, serif" font-size="8.6" fill="#222" textLength="19.5" lengthAdjust="spacingAndGlyphs">(111)</text>
<text transform="translate(244.75,230.6) rotate(-90)" font-family="Liberation Serif, serif" font-size="8.6" fill="#222" textLength="40.2" lengthAdjust="spacingAndGlyphs">(041)(022)</text>
<text transform="translate(256.25,196.8) rotate(-90)" font-family="Liberation Serif, serif" font-size="8.6" fill="#222" textLength="19.3" lengthAdjust="spacingAndGlyphs">(130)</text>
<text transform="translate(349.25,210.8) rotate(-90)" font-family="Liberation Serif, serif" font-size="8.6" fill="#222" textLength="18.4" lengthAdjust="spacingAndGlyphs">(150)</text>
<text transform="translate(447.61,182.7) rotate(-90)" font-family="Liberation Sans, sans-serif" font-size="8.3" fill="#4a72dd" textLength="28.1" lengthAdjust="spacingAndGlyphs">Si (400)</text>
<text transform="translate(68.58,390.8) rotate(-90)" font-family="Liberation Serif, serif" font-size="9.0" fill="#222" textLength="19.2" lengthAdjust="spacingAndGlyphs">(110)</text>
<text transform="translate(87.48,329.8) rotate(-90)" font-family="Liberation Serif, serif" font-size="9.0" fill="#222" textLength="22.1" lengthAdjust="spacingAndGlyphs">(-111)</text>
<text transform="translate(114.58,338.1) rotate(-90)" font-family="Liberation Serif, serif" font-size="9.0" fill="#222" textLength="40.3" lengthAdjust="spacingAndGlyphs">(111)(200)</text>
<text transform="translate(204.58,386.7) rotate(-90)" font-family="Liberation Serif, serif" font-size="9.0" fill="#222" textLength="21.6" lengthAdjust="spacingAndGlyphs">(-202)</text>
<text transform="translate(310.08,394.6) rotate(-90)" font-family="Liberation Serif, serif" font-size="9.0" fill="#222" textLength="22.9" lengthAdjust="spacingAndGlyphs">(-113)</text>
<text transform="translate(348.18,388.4) rotate(-90)" font-family="Liberation Serif, serif" font-size="9.0" fill="#222" textLength="42.8" lengthAdjust="spacingAndGlyphs">(022)(-311)</text>
<text transform="translate(366.28,393.2) rotate(-90)" font-family="Liberation Serif, serif" font-size="9.0" fill="#222" textLength="41.3" lengthAdjust="spacingAndGlyphs">(113)(220)</text>
<text x="52.2" y="17.2" font-family="Liberation Serif, serif" font-weight="bold" fill="#000" font-size="14.3">(a)</text>
<text x="52.8" y="163.8" font-family="Liberation Serif, serif" font-weight="bold" fill="#000" font-size="14.2">(b)</text>
<text x="52.1" y="302.6" font-family="Liberation Serif, serif" font-weight="bold" fill="#000" font-size="13.8">(c)</text>
<text x="382.1" y="20.7" font-family="Liberation Serif, serif" font-weight="bold" fill="#000" font-size="11.6">Cu<tspan font-size="8.4">2</tspan>(OH)<tspan font-size="8.4">3</tspan>Cl</text>
<text x="383.6" y="161.5" font-family="Liberation Serif, serif" font-weight="bold" fill="#000" font-size="11.4">Cu(OH)<tspan font-size="8.2">2</tspan></text>
<text x="389.9" y="300.9" font-family="Liberation Serif, serif" font-weight="bold" fill="#000" font-size="11.3">CuO</text>
<text transform="translate(12.3,225.7) rotate(-90)" font-family="Liberation Serif, serif" font-size="15.6" fill="#111" stroke="#111" stroke-width="0.25" textLength="60.9" lengthAdjust="spacingAndGlyphs">Intensity</text>
<text x="245.5" y="444.8" font-family="Liberation Serif, serif" font-size="18" fill="#111" stroke="#111" stroke-width="0.3">2θ</text>
</svg>
</body></html>
